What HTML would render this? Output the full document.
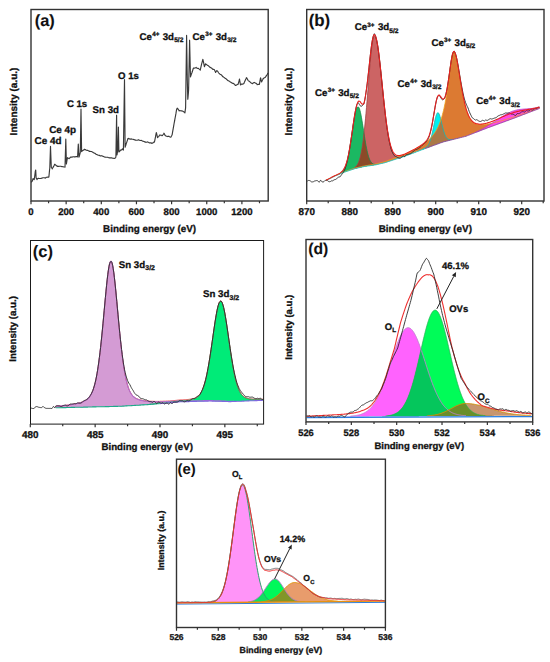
<!DOCTYPE html>
<html><head><meta charset="utf-8"><style>
html,body{margin:0;padding:0;background:#fff;}
svg{display:block;}
text{font-family:"Liberation Sans", sans-serif;text-rendering:geometricPrecision;stroke:#111;stroke-width:0.3px;paint-order:stroke;}
</style></head><body>
<svg width="550" height="662" viewBox="0 0 550 662">
<rect x="0" y="0" width="550" height="662" fill="#fff"/>
<path d="M31.2,182.4 L31.6,181.8 L32.0,181.5 L32.0,181.5 L32.4,180.6 L32.8,179.4 L33.1,178.5 L33.2,178.6 L33.6,179.1 L34.0,179.6 L34.2,179.6 L34.4,178.4 L34.8,175.5 L35.2,172.3 L35.2,172.0 L35.6,170.4 L35.7,170.0 L36.0,175.9 L36.1,177.9 L36.4,178.3 L36.8,179.0 L37.0,179.6 L37.2,179.1 L37.6,178.7 L38.0,178.4 L38.1,178.5 L38.4,178.4 L38.8,178.5 L39.2,178.5 L39.6,178.5 L40.0,178.5 L40.4,178.5 L40.8,178.5 L41.0,178.3 L41.2,178.4 L41.6,178.3 L42.0,178.1 L42.4,178.0 L42.8,177.8 L43.2,177.7 L43.6,177.7 L44.0,177.7 L44.4,177.8 L44.8,177.9 L44.9,177.9 L45.2,178.2 L45.6,177.9 L46.0,177.5 L46.4,177.2 L46.8,177.2 L47.2,177.2 L47.6,177.1 L48.0,177.1 L48.4,177.2 L48.8,177.2 L48.9,176.8 L49.2,173.7 L49.6,169.5 L49.8,168.0 L50.0,161.7 L50.4,149.5 L50.5,146.3 L50.8,154.4 L51.2,165.0 L51.3,167.2 L51.6,167.7 L52.0,168.3 L52.2,168.9 L52.4,168.5 L52.8,167.8 L53.2,167.1 L53.6,166.4 L54.0,165.7 L54.4,164.7 L54.5,164.4 L54.8,164.3 L55.2,164.6 L55.6,165.0 L56.0,165.3 L56.4,165.6 L56.8,166.0 L57.2,166.3 L57.3,166.1 L57.6,166.3 L58.0,166.3 L58.4,166.3 L58.8,166.3 L59.2,166.3 L59.6,166.2 L60.0,166.2 L60.4,166.2 L60.8,166.3 L61.2,166.4 L61.6,166.6 L61.8,166.6 L62.0,166.6 L62.4,166.6 L62.8,166.7 L63.2,166.8 L63.6,166.9 L64.0,167.0 L64.4,167.0 L64.8,167.0 L65.0,167.2 L65.2,160.3 L65.6,146.4 L65.8,139.0 L66.0,147.5 L66.4,164.0 L66.4,163.8 L66.8,161.5 L67.2,159.1 L67.5,157.6 L67.6,157.7 L68.0,158.0 L68.4,158.2 L68.8,158.4 L69.1,158.7 L69.2,158.5 L69.6,158.1 L70.0,157.8 L70.4,157.4 L70.8,157.0 L70.8,157.1 L71.2,157.0 L71.6,157.1 L72.0,157.1 L72.4,157.0 L72.8,156.9 L73.2,156.8 L73.6,156.7 L74.0,156.7 L74.0,156.8 L74.4,156.8 L74.8,156.9 L75.2,156.9 L75.6,156.8 L76.0,156.6 L76.4,156.5 L76.8,156.6 L77.2,156.8 L77.6,156.9 L77.6,156.5 L78.0,149.3 L78.3,144.1 L78.4,145.8 L78.8,153.4 L79.0,157.1 L79.2,156.5 L79.6,155.0 L80.0,153.5 L80.3,152.5 L80.4,146.2 L80.8,121.4 L81.0,109.0 L81.2,123.2 L81.6,151.6 L81.6,151.5 L82.0,151.2 L82.3,150.9 L82.4,150.8 L82.8,150.6 L83.2,150.3 L83.6,150.0 L84.0,149.6 L84.4,149.3 L84.4,149.7 L84.8,149.4 L85.2,149.5 L85.6,149.7 L86.0,150.0 L86.4,150.2 L86.8,150.3 L87.2,150.3 L87.6,150.3 L87.8,150.3 L88.0,150.5 L88.4,150.7 L88.8,150.9 L89.2,151.2 L89.6,151.4 L89.9,151.1 L90.0,151.4 L90.4,151.5 L90.8,151.5 L91.2,151.5 L91.6,151.5 L92.0,151.7 L92.4,152.0 L92.8,152.2 L93.2,152.5 L93.6,152.8 L94.0,153.0 L94.4,153.1 L94.8,153.2 L95.0,153.4 L95.2,153.5 L95.6,153.9 L96.0,154.3 L96.4,154.4 L96.8,154.6 L97.2,154.8 L97.6,154.9 L98.0,155.1 L98.4,155.2 L98.8,155.3 L99.2,155.4 L99.6,155.4 L99.7,155.5 L100.0,155.8 L100.4,156.0 L100.8,155.9 L101.2,155.8 L101.6,155.7 L102.0,155.9 L102.4,156.0 L102.8,156.2 L103.2,156.4 L103.6,156.5 L104.0,156.7 L104.4,156.9 L104.8,157.1 L105.0,157.0 L105.2,157.2 L105.6,157.2 L106.0,157.2 L106.4,157.2 L106.8,157.2 L107.2,157.2 L107.6,157.3 L108.0,157.4 L108.4,157.6 L108.8,157.7 L109.2,157.8 L109.6,157.8 L109.6,158.0 L110.0,157.9 L110.4,157.9 L110.8,157.9 L111.2,157.9 L111.6,157.9 L112.0,158.0 L112.4,158.1 L112.8,158.2 L113.2,158.2 L113.6,158.3 L114.0,158.3 L114.4,158.4 L114.5,158.4 L114.8,158.3 L115.2,158.0 L115.6,157.6 L115.9,157.0 L116.0,151.2 L116.4,127.2 L116.6,115.2 L116.8,135.1 L117.0,155.0 L117.2,153.7 L117.6,151.3 L117.8,150.0 L118.0,142.6 L118.4,127.3 L118.4,127.0 L118.8,147.3 L118.9,152.0 L119.2,151.8 L119.6,151.3 L120.0,150.8 L120.4,150.3 L120.4,150.1 L120.8,150.2 L121.2,150.0 L121.6,149.9 L122.0,149.4 L122.3,149.1 L122.4,148.8 L122.8,149.4 L123.2,150.0 L123.4,150.1 L123.6,137.4 L124.0,111.6 L124.4,85.7 L124.5,79.5 L124.8,113.3 L125.1,147.2 L125.2,146.9 L125.6,145.7 L126.0,144.5 L126.3,143.2 L126.4,143.2 L126.8,142.1 L127.2,140.9 L127.6,139.7 L128.0,138.5 L128.2,138.3 L128.4,138.4 L128.8,138.7 L129.2,138.8 L129.6,138.8 L130.0,138.8 L130.2,139.3 L130.4,139.0 L130.8,139.0 L131.2,139.0 L131.5,138.9 L131.6,139.2 L132.0,139.2 L132.4,139.2 L132.8,139.2 L133.2,139.3 L133.6,139.5 L134.0,139.6 L134.4,139.8 L134.8,139.9 L135.0,139.8 L135.2,140.1 L135.6,140.1 L136.0,140.2 L136.4,140.2 L136.8,140.2 L137.2,140.2 L137.6,140.1 L138.0,139.9 L138.4,139.7 L138.8,139.9 L139.1,140.2 L139.2,140.2 L139.6,140.3 L140.0,140.4 L140.4,140.5 L140.8,140.5 L141.2,140.5 L141.6,140.4 L142.0,140.7 L142.4,140.9 L142.8,141.2 L143.2,141.3 L143.6,141.4 L144.0,141.5 L144.4,141.7 L144.8,141.9 L145.0,141.7 L145.2,142.1 L145.6,142.2 L146.0,142.3 L146.4,142.2 L146.8,142.1 L147.2,141.9 L147.6,142.0 L148.0,142.2 L148.4,142.3 L148.8,142.5 L149.2,142.8 L149.6,143.0 L150.0,142.9 L150.4,142.9 L150.8,142.8 L151.2,142.9 L151.6,143.1 L151.8,143.4 L152.0,143.2 L152.4,143.1 L152.8,143.0 L153.2,142.6 L153.6,142.3 L154.0,142.0 L154.4,142.0 L154.4,142.1 L154.8,140.3 L155.2,138.3 L155.6,136.3 L155.6,136.0 L156.0,134.1 L156.3,132.5 L156.4,132.5 L156.8,134.4 L157.2,136.2 L157.5,137.6 L157.6,137.6 L158.0,137.2 L158.4,136.7 L158.8,136.3 L159.2,135.8 L159.5,135.1 L159.6,135.3 L160.0,135.2 L160.4,135.1 L160.8,135.2 L161.2,135.2 L161.6,135.3 L162.0,135.6 L162.0,135.7 L162.4,135.5 L162.8,135.0 L163.2,134.5 L163.6,134.0 L163.9,133.2 L164.0,133.3 L164.4,133.9 L164.8,134.7 L165.2,135.6 L165.2,135.7 L165.6,135.8 L166.0,136.0 L166.4,136.2 L166.8,136.3 L167.2,136.4 L167.6,136.6 L168.0,136.4 L168.4,136.3 L168.8,136.2 L169.2,136.5 L169.6,136.7 L170.0,136.9 L170.4,137.1 L170.8,137.2 L170.9,137.0 L171.2,136.6 L171.6,135.8 L172.0,134.9 L172.2,134.5 L172.4,133.2 L172.8,130.8 L173.2,128.6 L173.6,126.3 L174.0,124.0 L174.4,121.8 L174.7,120.5 L174.8,119.7 L175.2,117.5 L175.6,115.4 L176.0,113.2 L176.4,110.6 L176.5,110.0 L176.8,109.0 L177.2,108.2 L177.3,108.4 L177.6,108.4 L178.0,109.0 L178.4,109.6 L178.8,110.2 L179.2,110.7 L179.2,110.9 L179.6,110.6 L180.0,110.6 L180.4,110.7 L180.8,110.8 L181.2,110.8 L181.6,110.8 L182.0,110.9 L182.4,111.1 L182.8,111.3 L183.2,111.5 L183.6,111.6 L183.6,111.5 L184.0,112.1 L184.4,112.4 L184.8,112.7 L184.9,112.8 L185.2,110.6 L185.6,107.8 L185.6,108.0 L186.0,78.7 L186.4,49.7 L186.6,35.4 L186.8,48.1 L187.2,73.6 L187.3,80.0 L187.6,91.8 L187.8,99.3 L188.0,97.4 L188.4,92.7 L188.6,90.0 L188.8,80.5 L189.2,60.3 L189.6,40.2 L189.6,40.2 L190.0,56.9 L190.3,70.0 L190.4,73.0 L190.5,76.9 L190.8,75.9 L191.2,74.8 L191.5,73.5 L191.6,73.6 L192.0,72.5 L192.4,71.3 L192.8,70.0 L193.2,68.8 L193.5,68.0 L193.6,68.1 L194.0,68.1 L194.4,68.1 L194.8,68.0 L195.2,68.0 L195.6,67.8 L196.0,67.6 L196.3,67.4 L196.4,67.6 L196.8,68.0 L197.2,68.3 L197.6,68.4 L198.0,68.4 L198.4,68.4 L198.8,68.7 L199.2,69.1 L199.6,69.4 L200.0,69.7 L200.3,70.1 L200.4,69.5 L200.8,67.7 L201.2,65.9 L201.6,64.1 L202.0,62.6 L202.4,61.1 L202.8,59.6 L202.8,59.2 L203.2,60.9 L203.6,62.5 L204.0,64.6 L204.4,66.7 L204.4,66.7 L204.8,65.8 L205.2,64.8 L205.6,63.8 L205.6,64.2 L206.0,64.2 L206.4,64.5 L206.4,64.6 L206.8,64.8 L207.2,65.1 L207.6,65.4 L208.0,65.6 L208.4,65.8 L208.8,66.2 L209.2,66.6 L209.6,67.0 L209.7,67.1 L210.0,67.3 L210.4,67.6 L210.8,67.8 L211.2,67.9 L211.6,68.1 L212.0,68.5 L212.4,68.9 L212.8,69.3 L213.2,69.3 L213.6,69.4 L214.0,69.5 L214.4,69.7 L214.5,70.1 L214.8,70.5 L215.2,71.4 L215.6,72.3 L215.6,72.5 L216.0,71.8 L216.4,71.2 L216.8,70.6 L216.8,70.7 L217.2,70.9 L217.6,71.2 L218.0,71.8 L218.4,72.5 L218.8,73.1 L219.2,73.4 L219.6,73.8 L220.0,74.2 L220.4,74.4 L220.8,74.6 L221.2,74.7 L221.6,75.2 L222.0,75.7 L222.4,76.2 L222.7,76.6 L222.8,76.5 L223.2,76.7 L223.6,77.1 L224.0,77.4 L224.4,77.7 L224.8,78.0 L225.2,78.2 L225.6,78.4 L226.0,78.8 L226.4,79.1 L226.8,79.5 L227.2,79.9 L227.6,80.3 L228.0,80.7 L228.4,80.8 L228.6,80.7 L228.8,80.7 L229.2,81.1 L229.6,81.4 L230.0,81.7 L230.4,82.0 L230.8,82.2 L231.2,82.4 L231.6,82.7 L232.0,83.0 L232.4,83.3 L232.8,83.4 L233.2,83.4 L233.6,83.5 L234.0,83.9 L234.4,84.4 L234.8,84.8 L235.2,85.2 L235.6,85.5 L235.7,85.2 L236.0,85.4 L236.4,85.1 L236.8,84.9 L237.2,84.6 L237.6,84.4 L238.0,84.1 L238.1,84.3 L238.4,83.2 L238.8,81.8 L239.2,80.3 L239.5,79.0 L239.6,79.8 L240.0,82.1 L240.4,84.5 L240.5,84.9 L240.8,84.7 L241.2,84.4 L241.6,84.0 L242.0,84.1 L242.4,84.1 L242.8,84.1 L243.2,83.9 L243.6,83.7 L244.0,83.5 L244.0,83.1 L244.4,82.3 L244.8,81.3 L245.2,80.4 L245.6,79.6 L246.0,78.8 L246.4,77.7 L246.4,77.8 L246.8,77.9 L247.2,78.7 L247.6,79.5 L248.0,80.3 L248.4,80.7 L248.7,80.7 L248.8,81.1 L249.2,81.3 L249.6,81.6 L250.0,81.9 L250.4,82.3 L250.8,82.6 L251.2,83.0 L251.6,83.2 L252.0,83.3 L252.3,83.7 L252.4,83.4 L252.8,83.2 L253.2,83.1 L253.6,82.8 L254.0,82.6 L254.4,82.4 L254.6,82.5 L254.8,82.6 L255.2,83.0 L255.6,83.2 L256.0,83.3 L256.4,83.5 L256.8,84.0 L257.0,84.3 L257.2,84.7 L257.6,84.5 L258.0,84.4 L258.4,84.3 L258.8,84.3 L259.2,84.3 L259.4,84.3 L259.6,83.1 L260.0,80.8 L260.4,78.5 L260.6,77.8 L260.8,78.7 L261.2,80.7 L261.5,81.9 L261.6,81.9 L262.0,81.1 L262.4,80.3 L262.8,79.4 L262.9,79.0 L263.2,78.8 L263.6,78.3 L264.0,77.9 L264.4,77.7 L264.8,77.6 L265.2,77.4 L265.6,76.9 L265.9,76.6 L266.0,76.1 L266.4,75.6 L266.8,75.1 L267.2,74.6 L267.6,73.8 L267.6,73.6 L268.0,73.3 L268.2,73.0" fill="none" stroke="#3a3a3a" stroke-width="1.15" stroke-linejoin="round"/>
<rect x="31" y="9.5" width="237.2" height="191.5" fill="none" stroke="#333" stroke-width="1.4"/>
<path d="M31.00,201.00 V204.20 M66.15,201.00 V204.20 M101.30,201.00 V204.20 M136.45,201.00 V204.20 M171.60,201.00 V204.20 M206.75,201.00 V204.20 M241.90,201.00 V204.20 M48.58,201.00 V203.20 M83.72,201.00 V203.20 M118.88,201.00 V203.20 M154.02,201.00 V203.20 M189.17,201.00 V203.20 M224.32,201.00 V203.20 M259.48,201.00 V203.20 " stroke="#333" stroke-width="1.2" fill="none"/>
<text x="31" y="215.2" font-size="9.6" font-weight="bold" fill="#111" text-anchor="middle">0</text>
<text x="66.15" y="215.2" font-size="9.6" font-weight="bold" fill="#111" text-anchor="middle">200</text>
<text x="101.3" y="215.2" font-size="9.6" font-weight="bold" fill="#111" text-anchor="middle">400</text>
<text x="136.45" y="215.2" font-size="9.6" font-weight="bold" fill="#111" text-anchor="middle">600</text>
<text x="171.6" y="215.2" font-size="9.6" font-weight="bold" fill="#111" text-anchor="middle">800</text>
<text x="206.75" y="215.2" font-size="9.6" font-weight="bold" fill="#111" text-anchor="middle">1000</text>
<text x="241.9" y="215.2" font-size="9.6" font-weight="bold" fill="#111" text-anchor="middle">1200</text>
<text x="149.6" y="231.6" font-size="9.85" font-weight="bold" fill="#111" text-anchor="middle">Binding energy (eV)</text>
<text transform="translate(16.5,101.5) rotate(-90)" x="0" y="0" font-size="10" font-weight="bold" fill="#111" text-anchor="middle">Intensity (a.u.)</text>
<text x="34.78" y="25.7" font-size="16.4" font-weight="bold" fill="#111" style="stroke-width:0.1px">(a)</text>
<text x="34.6" y="143.9" font-size="9.9" font-weight="bold" fill="#111">Ce 4d</text>
<text x="49.2" y="133" font-size="9.9" font-weight="bold" fill="#111">Ce 4p</text>
<text x="66.92" y="106.9" font-size="9.6" font-weight="bold" fill="#111">C 1s</text>
<text x="92.61" y="112.6" font-size="9.7" font-weight="bold" fill="#111">Sn 3d</text>
<text x="118.12" y="79.4" font-size="9.6" font-weight="bold" fill="#111">O 1s</text>
<text x="139.61" y="39.8" font-size="9.7" font-weight="bold" fill="#111">Ce</text>
<text x="152.22" y="36.2" font-size="6.3" font-weight="bold" fill="#111">4+</text>
<text x="162.7" y="39.8" font-size="9.7" font-weight="bold" fill="#111">3d</text>
<text x="174.15" y="42.3" font-size="6.6" font-weight="bold" fill="#111">5/2</text>
<text x="192.61" y="39.8" font-size="9.7" font-weight="bold" fill="#111">Ce</text>
<text x="205.16" y="36.2" font-size="6.3" font-weight="bold" fill="#111">3+</text>
<text x="215.7" y="39.8" font-size="9.7" font-weight="bold" fill="#111">3d</text>
<text x="227.18" y="42.3" font-size="6.6" font-weight="bold" fill="#111">3/2</text>
<clipPath id="cb_r"><path d="M349.5,170.4 L350.0,170.2 L350.5,170.0 L351.0,169.8 L351.5,169.6 L352.0,169.4 L352.5,169.1 L353.0,168.9 L353.5,168.6 L354.0,168.3 L354.5,167.9 L355.0,167.5 L355.5,167.1 L356.0,166.6 L356.5,166.0 L357.0,165.3 L357.5,164.5 L358.0,163.6 L358.5,162.5 L359.0,161.2 L359.5,159.7 L360.0,158.0 L360.5,156.1 L361.0,153.8 L361.5,151.3 L362.0,148.5 L362.5,145.3 L363.0,141.7 L363.5,137.9 L364.0,133.6 L364.5,129.0 L365.0,124.0 L365.5,118.8 L366.0,113.2 L366.5,107.4 L367.0,101.4 L367.5,95.2 L368.0,89.0 L368.5,82.7 L369.0,76.5 L369.5,70.4 L370.0,64.6 L370.5,59.1 L371.0,54.0 L371.5,49.5 L372.0,45.4 L372.5,42.1 L373.0,39.4 L373.5,37.5 L374.0,36.4 L374.5,36.1 L375.0,36.4 L375.5,37.2 L376.0,38.5 L376.5,40.4 L377.0,42.7 L377.5,45.5 L378.0,48.7 L378.5,52.2 L379.0,56.2 L379.5,60.4 L380.0,64.8 L380.5,69.5 L381.0,74.3 L381.5,79.2 L382.0,84.1 L382.5,89.1 L383.0,94.0 L383.5,98.9 L384.0,103.6 L384.5,108.2 L385.0,112.7 L385.5,116.9 L386.0,120.9 L386.5,124.7 L387.0,128.2 L387.5,131.5 L388.0,134.6 L388.5,137.4 L389.0,140.0 L389.5,142.4 L390.0,144.5 L390.5,146.4 L391.0,148.1 L391.5,149.6 L392.0,150.9 L392.5,152.1 L393.0,153.1 L393.5,153.9 L394.0,154.7 L394.5,155.3 L395.0,155.8 L395.5,156.2 L396.0,156.6 L396.5,156.8 L397.0,157.0 L397.5,157.2 L398.0,157.3 L398.5,157.3 L399.0,157.3 L399.5,157.3 L400.0,157.3 L400.5,157.2 L401.0,157.1 L401.5,157.1 L402.0,157.0 L402.5,156.8 L403.0,156.7 L403.5,156.6 L404.0,156.4 L404.5,156.3 L404.5,158.4 L404.0,158.5 L403.5,158.7 L403.0,158.8 L402.5,159.0 L402.0,159.2 L401.5,159.3 L401.0,159.5 L400.5,159.6 L400.0,159.8 L399.5,160.0 L399.0,160.1 L398.5,160.3 L398.0,160.4 L397.5,160.6 L397.0,160.8 L396.5,160.9 L396.0,161.1 L395.5,161.2 L395.0,161.4 L394.5,161.6 L394.0,161.7 L393.5,161.9 L393.0,162.1 L392.5,162.2 L392.0,162.4 L391.5,162.6 L391.0,162.7 L390.5,162.9 L390.0,163.1 L389.5,163.2 L389.0,163.4 L388.5,163.5 L388.0,163.7 L387.5,163.9 L387.0,164.0 L386.5,164.2 L386.0,164.4 L385.5,164.5 L385.0,164.7 L384.5,164.8 L384.0,164.9 L383.5,165.0 L383.0,165.2 L382.5,165.3 L382.0,165.4 L381.5,165.5 L381.0,165.6 L380.5,165.7 L380.0,165.8 L379.5,166.0 L379.0,166.1 L378.5,166.2 L378.0,166.3 L377.5,166.4 L377.0,166.5 L376.5,166.7 L376.0,166.8 L375.5,166.9 L375.0,167.0 L374.5,167.1 L374.0,167.1 L373.5,167.2 L373.0,167.3 L372.5,167.3 L372.0,167.4 L371.5,167.5 L371.0,167.6 L370.5,167.6 L370.0,167.7 L369.5,167.8 L369.0,167.8 L368.5,167.9 L368.0,168.0 L367.5,168.1 L367.0,168.1 L366.5,168.2 L366.0,168.3 L365.5,168.3 L365.0,168.4 L364.5,168.5 L364.0,168.6 L363.5,168.7 L363.0,168.8 L362.5,168.9 L362.0,169.1 L361.5,169.2 L361.0,169.3 L360.5,169.4 L360.0,169.5 L359.5,169.6 L359.0,169.7 L358.5,169.8 L358.0,169.9 L357.5,170.1 L357.0,170.2 L356.5,170.3 L356.0,170.4 L355.5,170.5 L355.0,170.6 L354.5,170.8 L354.0,170.9 L353.5,171.1 L353.0,171.3 L352.5,171.4 L352.0,171.6 L351.5,171.8 L351.0,171.9 L350.5,172.1 L350.0,172.3 L349.5,172.4 Z"/></clipPath>
<clipPath id="cb_o"><path d="M326.0,180.2 L326.5,179.9 L327.0,179.7 L327.5,179.4 L328.0,179.2 L328.5,178.9 L329.0,178.7 L329.5,178.4 L330.0,178.2 L330.5,177.9 L331.0,177.7 L331.5,177.4 L332.0,177.2 L332.5,176.9 L333.0,176.6 L333.5,176.4 L334.0,176.1 L334.5,175.9 L335.0,175.6 L335.5,175.4 L336.0,175.2 L336.5,175.0 L337.0,174.8 L337.5,174.6 L338.0,174.4 L338.5,174.2 L339.0,174.0 L339.5,173.8 L340.0,173.5 L340.5,173.3 L341.0,173.1 L341.5,172.9 L342.0,172.7 L342.5,172.5 L343.0,172.3 L343.5,172.1 L344.0,171.9 L344.5,171.7 L345.0,171.5 L345.5,171.4 L346.0,171.2 L346.5,171.0 L347.0,170.8 L347.5,170.7 L348.0,170.5 L348.5,170.3 L349.0,170.1 L349.5,170.0 L350.0,169.8 L350.5,169.6 L351.0,169.5 L351.5,169.3 L352.0,169.1 L352.5,168.9 L353.0,168.8 L353.5,168.6 L354.0,168.4 L354.5,168.2 L355.0,168.1 L355.5,168.0 L356.0,167.8 L356.5,167.7 L357.0,167.6 L357.5,167.5 L358.0,167.4 L358.5,167.3 L359.0,167.1 L359.5,167.0 L360.0,166.9 L360.5,166.8 L361.0,166.7 L361.5,166.6 L362.0,166.4 L362.5,166.3 L363.0,166.2 L363.5,166.1 L364.0,166.0 L364.5,165.9 L365.0,165.7 L365.5,165.7 L366.0,165.6 L366.5,165.5 L367.0,165.4 L367.5,165.4 L368.0,165.3 L368.5,165.2 L369.0,165.1 L369.5,165.0 L370.0,165.0 L370.5,164.9 L371.0,164.8 L371.5,164.7 L372.0,164.7 L372.5,164.6 L373.0,164.5 L373.5,164.4 L374.0,164.3 L374.5,164.3 L375.0,164.2 L375.5,164.0 L376.0,163.9 L376.5,163.8 L377.0,163.7 L377.5,163.5 L378.0,163.4 L378.5,163.3 L379.0,163.2 L379.5,163.0 L380.0,162.9 L380.5,162.8 L381.0,162.7 L381.5,162.5 L382.0,162.4 L382.5,162.3 L383.0,162.1 L383.5,162.0 L384.0,161.9 L384.5,161.7 L385.0,161.6 L385.5,161.4 L386.0,161.3 L386.5,161.1 L387.0,160.9 L387.5,160.7 L388.0,160.5 L388.5,160.3 L389.0,160.2 L389.5,160.0 L390.0,159.8 L390.5,159.6 L391.0,159.4 L391.5,159.2 L392.0,159.1 L392.5,158.9 L393.0,158.7 L393.5,158.5 L394.0,158.3 L394.5,158.1 L395.0,157.9 L395.5,157.7 L396.0,157.6 L396.5,157.4 L397.0,157.2 L397.5,157.0 L398.0,156.8 L398.5,156.6 L399.0,156.4 L399.5,156.2 L400.0,156.0 L400.5,155.9 L401.0,155.7 L401.5,155.5 L402.0,155.3 L402.5,155.1 L403.0,154.9 L403.5,154.7 L404.0,154.5 L404.5,154.3 L405.0,154.1 L405.5,153.8 L406.0,153.6 L406.5,153.4 L407.0,153.1 L407.5,152.9 L408.0,152.7 L408.5,152.4 L409.0,152.2 L409.5,151.9 L410.0,151.7 L410.5,151.4 L411.0,151.2 L411.5,150.9 L412.0,150.7 L412.5,150.4 L413.0,150.2 L413.5,149.9 L414.0,149.6 L414.5,149.4 L415.0,149.1 L415.5,148.8 L416.0,148.5 L416.5,148.3 L417.0,148.0 L417.5,147.7 L418.0,147.4 L418.5,147.1 L419.0,146.8 L419.5,146.5 L420.0,146.2 L420.5,145.9 L421.0,145.6 L421.5,145.2 L422.0,144.9 L422.5,144.6 L423.0,144.2 L423.5,143.9 L424.0,143.5 L424.5,143.2 L425.0,142.8 L425.5,142.4 L426.0,142.0 L426.5,141.6 L427.0,141.2 L427.5,140.8 L428.0,140.4 L428.5,139.9 L429.0,139.5 L429.5,139.0 L430.0,138.5 L430.5,138.0 L431.0,137.5 L431.5,136.9 L432.0,136.4 L432.5,135.8 L433.0,135.1 L433.5,134.5 L434.0,133.8 L434.5,133.1 L435.0,132.4 L435.5,131.6 L436.0,130.8 L436.5,129.9 L437.0,129.0 L437.5,128.1 L438.0,127.1 L438.5,126.0 L439.0,124.8 L439.5,123.6 L440.0,122.3 L440.5,121.0 L441.0,119.5 L441.5,117.9 L442.0,116.2 L442.5,114.4 L443.0,112.5 L443.5,110.5 L444.0,108.4 L444.5,106.0 L445.0,103.6 L445.5,100.9 L446.0,98.1 L446.5,95.0 L447.0,91.8 L447.5,88.5 L448.0,84.9 L448.5,81.3 L449.0,77.5 L449.5,73.7 L450.0,69.9 L450.5,66.2 L451.0,62.7 L451.5,59.6 L452.0,56.8 L452.5,54.6 L453.0,52.9 L453.5,52.0 L454.0,51.8 L454.5,52.1 L455.0,53.0 L455.5,54.3 L456.0,56.0 L456.5,58.1 L457.0,60.6 L457.5,63.2 L458.0,66.1 L458.5,69.1 L459.0,72.2 L459.5,75.3 L460.0,78.5 L460.5,81.5 L461.0,84.6 L461.5,87.5 L462.0,90.4 L462.5,93.1 L463.0,95.7 L463.5,98.2 L464.0,100.6 L464.5,102.8 L465.0,104.9 L465.5,106.8 L466.0,108.6 L466.5,110.2 L467.0,111.7 L467.5,113.1 L468.0,114.3 L468.5,115.5 L469.0,116.6 L469.5,117.5 L470.0,118.4 L470.5,119.2 L471.0,119.9 L471.5,120.5 L472.0,121.1 L472.5,121.6 L473.0,122.0 L473.5,122.4 L474.0,122.8 L474.5,123.1 L475.0,123.4 L475.5,123.6 L476.0,123.8 L476.5,124.0 L477.0,124.1 L477.5,124.3 L478.0,124.4 L478.5,124.4 L479.0,124.5 L479.5,124.6 L480.0,124.6 L480.5,124.6 L481.0,124.6 L481.5,124.6 L482.0,124.6 L482.5,124.6 L483.0,124.6 L483.5,124.5 L484.0,124.5 L484.5,124.4 L485.0,124.4 L485.5,124.3 L486.0,124.3 L486.5,124.2 L487.0,124.1 L487.5,124.0 L488.0,123.9 L488.5,123.9 L489.0,123.8 L489.5,123.7 L490.0,123.6 L490.5,123.5 L491.0,123.4 L491.5,123.3 L492.0,123.2 L492.5,123.1 L493.0,123.0 L493.5,122.9 L494.0,122.7 L494.5,122.6 L495.0,122.5 L495.5,122.4 L496.0,122.3 L496.5,122.1 L497.0,122.0 L497.5,121.9 L498.0,121.7 L498.5,121.6 L499.0,121.5 L499.5,121.3 L500.0,121.2 L500.5,121.1 L501.0,120.9 L501.5,120.8 L502.0,120.6 L502.5,120.5 L503.0,120.3 L503.5,120.2 L504.0,120.1 L504.5,119.9 L505.0,119.8 L505.5,119.6 L506.0,119.5 L506.5,119.3 L507.0,119.1 L507.5,119.0 L508.0,118.8 L508.5,118.7 L509.0,118.5 L509.5,118.4 L510.0,118.2 L510.5,118.1 L511.0,117.9 L511.5,117.7 L512.0,117.6 L512.5,117.4 L513.0,117.2 L513.5,117.1 L514.0,116.9 L514.5,116.7 L515.0,116.5 L515.5,116.4 L516.0,116.2 L516.5,116.0 L517.0,115.9 L517.5,115.7 L518.0,115.5 L518.5,115.3 L519.0,115.2 L519.5,115.0 L520.0,114.8 L520.5,114.6 L521.0,114.5 L521.5,114.3 L522.0,114.1 L522.5,113.9 L523.0,113.8 L523.5,113.6 L524.0,113.4 L524.5,113.2 L525.0,113.0 L525.5,112.9 L526.0,112.7 L526.5,112.5 L527.0,112.3 L527.5,112.2 L528.0,112.0 L528.5,111.8 L529.0,111.6 L529.5,111.4 L530.0,111.3 L530.5,111.1 L531.0,110.9 L531.5,110.7 L532.0,110.5 L532.5,110.4 L533.0,110.2 L533.5,110.0 L534.0,109.8 L534.5,109.6 L535.0,109.4 L535.5,109.3 L536.0,109.1 L536.5,108.9 L537.0,108.7 L537.5,108.5 L538.0,108.3 L538.5,108.2 L539.0,108.0 L539.5,107.8 L539.5,110.5 L539.0,110.6 L538.5,110.8 L538.0,111.0 L537.5,111.2 L537.0,111.4 L536.5,111.6 L536.0,111.8 L535.5,112.0 L535.0,112.1 L534.5,112.3 L534.0,112.5 L533.5,112.7 L533.0,112.9 L532.5,113.1 L532.0,113.3 L531.5,113.5 L531.0,113.7 L530.5,113.9 L530.0,114.1 L529.5,114.2 L529.0,114.4 L528.5,114.6 L528.0,114.8 L527.5,115.0 L527.0,115.2 L526.5,115.4 L526.0,115.6 L525.5,115.8 L525.0,116.0 L524.5,116.2 L524.0,116.3 L523.5,116.5 L523.0,116.7 L522.5,116.9 L522.0,117.1 L521.5,117.3 L521.0,117.5 L520.5,117.7 L520.0,117.9 L519.5,118.1 L519.0,118.2 L518.5,118.4 L518.0,118.6 L517.5,118.8 L517.0,119.0 L516.5,119.2 L516.0,119.4 L515.5,119.6 L515.0,119.8 L514.5,120.0 L514.0,120.2 L513.5,120.3 L513.0,120.5 L512.5,120.7 L512.0,120.9 L511.5,121.1 L511.0,121.3 L510.5,121.5 L510.0,121.7 L509.5,121.8 L509.0,122.0 L508.5,122.2 L508.0,122.4 L507.5,122.6 L507.0,122.8 L506.5,122.9 L506.0,123.1 L505.5,123.3 L505.0,123.5 L504.5,123.7 L504.0,123.9 L503.5,124.0 L503.0,124.2 L502.5,124.4 L502.0,124.6 L501.5,124.8 L501.0,125.0 L500.5,125.1 L500.0,125.3 L499.5,125.5 L499.0,125.7 L498.5,125.9 L498.0,126.0 L497.5,126.2 L497.0,126.4 L496.5,126.6 L496.0,126.8 L495.5,127.0 L495.0,127.1 L494.5,127.3 L494.0,127.5 L493.5,127.7 L493.0,127.9 L492.5,128.1 L492.0,128.2 L491.5,128.4 L491.0,128.6 L490.5,128.8 L490.0,129.0 L489.5,129.2 L489.0,129.3 L488.5,129.5 L488.0,129.7 L487.5,129.9 L487.0,130.1 L486.5,130.3 L486.0,130.5 L485.5,130.7 L485.0,130.9 L484.5,131.1 L484.0,131.2 L483.5,131.4 L483.0,131.6 L482.5,131.8 L482.0,132.0 L481.5,132.2 L481.0,132.4 L480.5,132.6 L480.0,132.8 L479.5,133.0 L479.0,133.2 L478.5,133.4 L478.0,133.6 L477.5,133.8 L477.0,134.0 L476.5,134.1 L476.0,134.3 L475.5,134.5 L475.0,134.7 L474.5,134.9 L474.0,135.1 L473.5,135.3 L473.0,135.5 L472.5,135.7 L472.0,135.9 L471.5,136.1 L471.0,136.3 L470.5,136.5 L470.0,136.7 L469.5,136.9 L469.0,137.0 L468.5,137.2 L468.0,137.4 L467.5,137.6 L467.0,137.8 L466.5,138.0 L466.0,138.2 L465.5,138.4 L465.0,138.5 L464.5,138.6 L464.0,138.8 L463.5,138.9 L463.0,139.0 L462.5,139.1 L462.0,139.3 L461.5,139.4 L461.0,139.5 L460.5,139.6 L460.0,139.8 L459.5,139.9 L459.0,140.0 L458.5,140.1 L458.0,140.3 L457.5,140.4 L457.0,140.5 L456.5,140.6 L456.0,140.8 L455.5,140.9 L455.0,141.0 L454.5,141.1 L454.0,141.3 L453.5,141.4 L453.0,141.5 L452.5,141.6 L452.0,141.8 L451.5,141.9 L451.0,142.0 L450.5,142.1 L450.0,142.3 L449.5,142.4 L449.0,142.5 L448.5,142.6 L448.0,142.8 L447.5,142.9 L447.0,143.0 L446.5,143.1 L446.0,143.3 L445.5,143.4 L445.0,143.5 L444.5,143.6 L444.0,143.8 L443.5,143.9 L443.0,144.0 L442.5,144.2 L442.0,144.4 L441.5,144.6 L441.0,144.7 L440.5,144.9 L440.0,145.1 L439.5,145.3 L439.0,145.5 L438.5,145.7 L438.0,145.8 L437.5,146.0 L437.0,146.2 L436.5,146.4 L436.0,146.6 L435.5,146.8 L435.0,147.0 L434.5,147.1 L434.0,147.3 L433.5,147.5 L433.0,147.7 L432.5,147.9 L432.0,148.1 L431.5,148.2 L431.0,148.4 L430.5,148.6 L430.0,148.8 L429.5,149.0 L429.0,149.2 L428.5,149.4 L428.0,149.5 L427.5,149.7 L427.0,149.9 L426.5,150.1 L426.0,150.3 L425.5,150.5 L425.0,150.7 L424.5,150.8 L424.0,151.0 L423.5,151.2 L423.0,151.4 L422.5,151.6 L422.0,151.8 L421.5,151.9 L421.0,152.1 L420.5,152.3 L420.0,152.5 L419.5,152.7 L419.0,152.9 L418.5,153.1 L418.0,153.3 L417.5,153.4 L417.0,153.6 L416.5,153.8 L416.0,154.0 L415.5,154.2 L415.0,154.4 L414.5,154.6 L414.0,154.8 L413.5,155.0 L413.0,155.2 L412.5,155.3 L412.0,155.5 L411.5,155.7 L411.0,155.9 L410.5,156.1 L410.0,156.3 L409.5,156.5 L409.0,156.7 L408.5,156.9 L408.0,157.1 L407.5,157.2 L407.0,157.4 L406.5,157.6 L406.0,157.8 L405.5,158.0 L405.0,158.2 L404.5,158.4 L404.0,158.5 L403.5,158.7 L403.0,158.8 L402.5,159.0 L402.0,159.2 L401.5,159.3 L401.0,159.5 L400.5,159.6 L400.0,159.8 L399.5,160.0 L399.0,160.1 L398.5,160.3 L398.0,160.4 L397.5,160.6 L397.0,160.8 L396.5,160.9 L396.0,161.1 L395.5,161.2 L395.0,161.4 L394.5,161.6 L394.0,161.7 L393.5,161.9 L393.0,162.1 L392.5,162.2 L392.0,162.4 L391.5,162.6 L391.0,162.7 L390.5,162.9 L390.0,163.1 L389.5,163.2 L389.0,163.4 L388.5,163.5 L388.0,163.7 L387.5,163.9 L387.0,164.0 L386.5,164.2 L386.0,164.4 L385.5,164.5 L385.0,164.7 L384.5,164.8 L384.0,164.9 L383.5,165.0 L383.0,165.2 L382.5,165.3 L382.0,165.4 L381.5,165.5 L381.0,165.6 L380.5,165.7 L380.0,165.8 L379.5,166.0 L379.0,166.1 L378.5,166.2 L378.0,166.3 L377.5,166.4 L377.0,166.5 L376.5,166.7 L376.0,166.8 L375.5,166.9 L375.0,167.0 L374.5,167.1 L374.0,167.1 L373.5,167.2 L373.0,167.3 L372.5,167.3 L372.0,167.4 L371.5,167.5 L371.0,167.6 L370.5,167.6 L370.0,167.7 L369.5,167.8 L369.0,167.8 L368.5,167.9 L368.0,168.0 L367.5,168.1 L367.0,168.1 L366.5,168.2 L366.0,168.3 L365.5,168.3 L365.0,168.4 L364.5,168.5 L364.0,168.6 L363.5,168.7 L363.0,168.8 L362.5,168.9 L362.0,169.1 L361.5,169.2 L361.0,169.3 L360.5,169.4 L360.0,169.5 L359.5,169.6 L359.0,169.7 L358.5,169.8 L358.0,169.9 L357.5,170.1 L357.0,170.2 L356.5,170.3 L356.0,170.4 L355.5,170.5 L355.0,170.6 L354.5,170.8 L354.0,170.9 L353.5,171.1 L353.0,171.3 L352.5,171.4 L352.0,171.6 L351.5,171.8 L351.0,171.9 L350.5,172.1 L350.0,172.3 L349.5,172.4 L349.0,172.6 L348.5,172.8 L348.0,173.0 L347.5,173.1 L347.0,173.3 L346.5,173.5 L346.0,173.6 L345.5,173.8 L345.0,174.0 L344.5,174.1 L344.0,174.3 L343.5,174.5 L343.0,174.7 L342.5,174.9 L342.0,175.1 L341.5,175.3 L341.0,175.5 L340.5,175.7 L340.0,175.9 L339.5,176.2 L339.0,176.4 L338.5,176.6 L338.0,176.8 L337.5,177.0 L337.0,177.2 L336.5,177.4 L336.0,177.6 L335.5,177.8 L335.0,178.0 L334.5,178.2 L334.0,178.5 L333.5,178.8 L333.0,179.0 L332.5,179.2 L332.0,179.5 L331.5,179.8 L331.0,180.0 L330.5,180.2 L330.0,180.5 L329.5,180.8 L329.0,181.0 L328.5,181.2 L328.0,181.5 L327.5,181.8 L327.0,182.0 L326.5,182.2 L326.0,182.5 Z"/></clipPath>
<path d="M336.5,175.3 L337.0,175.1 L337.5,174.9 L338.0,174.6 L338.5,174.4 L339.0,174.1 L339.5,173.8 L340.0,173.5 L340.5,173.2 L341.0,172.8 L341.5,172.4 L342.0,171.9 L342.5,171.3 L343.0,170.7 L343.5,170.0 L344.0,169.2 L344.5,168.3 L345.0,167.2 L345.5,166.1 L346.0,164.7 L346.5,163.2 L347.0,161.5 L347.5,159.5 L348.0,157.4 L348.5,155.1 L349.0,152.5 L349.5,149.8 L350.0,146.9 L350.5,143.8 L351.0,140.5 L351.5,137.2 L352.0,133.8 L352.5,130.4 L353.0,127.0 L353.5,123.7 L354.0,120.5 L354.5,117.5 L355.0,114.8 L355.5,112.5 L356.0,110.5 L356.5,108.9 L357.0,107.7 L357.5,107.0 L358.0,106.8 L358.5,107.0 L359.0,107.7 L359.5,108.9 L360.0,110.6 L360.5,112.7 L361.0,115.1 L361.5,117.8 L362.0,120.7 L362.5,123.8 L363.0,127.0 L363.5,130.3 L364.0,133.5 L364.5,136.7 L365.0,139.8 L365.5,142.8 L366.0,145.6 L366.5,148.2 L367.0,150.5 L367.5,152.7 L368.0,154.6 L368.5,156.4 L369.0,157.9 L369.5,159.2 L370.0,160.3 L370.5,161.2 L371.0,162.0 L371.5,162.6 L372.0,163.1 L372.5,163.5 L373.0,163.9 L373.5,164.1 L374.0,164.3 L374.5,164.4 L375.0,164.5 L375.5,164.5 L376.0,164.5 L376.5,164.5 L377.0,164.4 L377.5,164.3 L378.0,164.2 L378.5,164.1 L378.5,164.2 L378.0,164.3 L377.5,164.4 L377.0,164.5 L376.5,164.7 L376.0,164.8 L375.5,164.9 L375.0,165.0 L374.5,165.1 L374.0,165.1 L373.5,165.2 L373.0,165.3 L372.5,165.3 L372.0,165.4 L371.5,165.5 L371.0,165.6 L370.5,165.6 L370.0,165.7 L369.5,165.8 L369.0,165.8 L368.5,165.9 L368.0,166.0 L367.5,166.1 L367.0,166.1 L366.5,166.2 L366.0,166.3 L365.5,166.3 L365.0,166.4 L364.5,166.5 L364.0,166.6 L363.5,166.7 L363.0,166.8 L362.5,166.9 L362.0,167.1 L361.5,167.2 L361.0,167.3 L360.5,167.4 L360.0,167.5 L359.5,167.6 L359.0,167.7 L358.5,167.8 L358.0,167.9 L357.5,168.1 L357.0,168.2 L356.5,168.3 L356.0,168.4 L355.5,168.5 L355.0,168.6 L354.5,168.8 L354.0,168.9 L353.5,169.1 L353.0,169.3 L352.5,169.4 L352.0,169.6 L351.5,169.8 L351.0,169.9 L350.5,170.1 L350.0,170.3 L349.5,170.4 L349.0,170.6 L348.5,170.8 L348.0,171.0 L347.5,171.1 L347.0,171.3 L346.5,171.5 L346.0,171.6 L345.5,171.8 L345.0,172.0 L344.5,172.1 L344.0,172.3 L343.5,172.5 L343.0,172.7 L342.5,172.9 L342.0,173.1 L341.5,173.3 L341.0,173.5 L340.5,173.7 L340.0,173.9 L339.5,174.2 L339.0,174.4 L338.5,174.6 L338.0,174.8 L337.5,175.0 L337.0,175.2 L336.5,175.4 Z" fill="#1bb862"/>
<path d="M349.5,170.4 L350.0,170.2 L350.5,170.0 L351.0,169.8 L351.5,169.6 L352.0,169.4 L352.5,169.1 L353.0,168.9 L353.5,168.6 L354.0,168.3 L354.5,167.9 L355.0,167.5 L355.5,167.1 L356.0,166.6 L356.5,166.0 L357.0,165.3 L357.5,164.5 L358.0,163.6 L358.5,162.5 L359.0,161.2 L359.5,159.7 L360.0,158.0 L360.5,156.1 L361.0,153.8 L361.5,151.3 L362.0,148.5 L362.5,145.3 L363.0,141.7 L363.5,137.9 L364.0,133.6 L364.5,129.0 L365.0,124.0 L365.5,118.8 L366.0,113.2 L366.5,107.4 L367.0,101.4 L367.5,95.2 L368.0,89.0 L368.5,82.7 L369.0,76.5 L369.5,70.4 L370.0,64.6 L370.5,59.1 L371.0,54.0 L371.5,49.5 L372.0,45.4 L372.5,42.1 L373.0,39.4 L373.5,37.5 L374.0,36.4 L374.5,36.1 L375.0,36.4 L375.5,37.2 L376.0,38.5 L376.5,40.4 L377.0,42.7 L377.5,45.5 L378.0,48.7 L378.5,52.2 L379.0,56.2 L379.5,60.4 L380.0,64.8 L380.5,69.5 L381.0,74.3 L381.5,79.2 L382.0,84.1 L382.5,89.1 L383.0,94.0 L383.5,98.9 L384.0,103.6 L384.5,108.2 L385.0,112.7 L385.5,116.9 L386.0,120.9 L386.5,124.7 L387.0,128.2 L387.5,131.5 L388.0,134.6 L388.5,137.4 L389.0,140.0 L389.5,142.4 L390.0,144.5 L390.5,146.4 L391.0,148.1 L391.5,149.6 L392.0,150.9 L392.5,152.1 L393.0,153.1 L393.5,153.9 L394.0,154.7 L394.5,155.3 L395.0,155.8 L395.5,156.2 L396.0,156.6 L396.5,156.8 L397.0,157.0 L397.5,157.2 L398.0,157.3 L398.5,157.3 L399.0,157.3 L399.5,157.3 L400.0,157.3 L400.5,157.2 L401.0,157.1 L401.5,157.1 L402.0,157.0 L402.5,156.8 L403.0,156.7 L403.5,156.6 L404.0,156.4 L404.5,156.3 L404.5,156.4 L404.0,156.5 L403.5,156.7 L403.0,156.8 L402.5,157.0 L402.0,157.2 L401.5,157.3 L401.0,157.5 L400.5,157.6 L400.0,157.8 L399.5,158.0 L399.0,158.1 L398.5,158.3 L398.0,158.4 L397.5,158.6 L397.0,158.8 L396.5,158.9 L396.0,159.1 L395.5,159.2 L395.0,159.4 L394.5,159.6 L394.0,159.7 L393.5,159.9 L393.0,160.1 L392.5,160.2 L392.0,160.4 L391.5,160.6 L391.0,160.7 L390.5,160.9 L390.0,161.1 L389.5,161.2 L389.0,161.4 L388.5,161.5 L388.0,161.7 L387.5,161.9 L387.0,162.0 L386.5,162.2 L386.0,162.4 L385.5,162.5 L385.0,162.7 L384.5,162.8 L384.0,162.9 L383.5,163.0 L383.0,163.2 L382.5,163.3 L382.0,163.4 L381.5,163.5 L381.0,163.6 L380.5,163.7 L380.0,163.8 L379.5,164.0 L379.0,164.1 L378.5,164.2 L378.0,164.3 L377.5,164.4 L377.0,164.5 L376.5,164.7 L376.0,164.8 L375.5,164.9 L375.0,165.0 L374.5,165.1 L374.0,165.1 L373.5,165.2 L373.0,165.3 L372.5,165.3 L372.0,165.4 L371.5,165.5 L371.0,165.6 L370.5,165.6 L370.0,165.7 L369.5,165.8 L369.0,165.8 L368.5,165.9 L368.0,166.0 L367.5,166.1 L367.0,166.1 L366.5,166.2 L366.0,166.3 L365.5,166.3 L365.0,166.4 L364.5,166.5 L364.0,166.6 L363.5,166.7 L363.0,166.8 L362.5,166.9 L362.0,167.1 L361.5,167.2 L361.0,167.3 L360.5,167.4 L360.0,167.5 L359.5,167.6 L359.0,167.7 L358.5,167.8 L358.0,167.9 L357.5,168.1 L357.0,168.2 L356.5,168.3 L356.0,168.4 L355.5,168.5 L355.0,168.6 L354.5,168.8 L354.0,168.9 L353.5,169.1 L353.0,169.3 L352.5,169.4 L352.0,169.6 L351.5,169.8 L351.0,169.9 L350.5,170.1 L350.0,170.3 L349.5,170.4 Z" fill="#cc6464"/>
<path d="M336.5,175.3 L337.0,175.1 L337.5,174.9 L338.0,174.6 L338.5,174.4 L339.0,174.1 L339.5,173.8 L340.0,173.5 L340.5,173.2 L341.0,172.8 L341.5,172.4 L342.0,171.9 L342.5,171.3 L343.0,170.7 L343.5,170.0 L344.0,169.2 L344.5,168.3 L345.0,167.2 L345.5,166.1 L346.0,164.7 L346.5,163.2 L347.0,161.5 L347.5,159.5 L348.0,157.4 L348.5,155.1 L349.0,152.5 L349.5,149.8 L350.0,146.9 L350.5,143.8 L351.0,140.5 L351.5,137.2 L352.0,133.8 L352.5,130.4 L353.0,127.0 L353.5,123.7 L354.0,120.5 L354.5,117.5 L355.0,114.8 L355.5,112.5 L356.0,110.5 L356.5,108.9 L357.0,107.7 L357.5,107.0 L358.0,106.8 L358.5,107.0 L359.0,107.7 L359.5,108.9 L360.0,110.6 L360.5,112.7 L361.0,115.1 L361.5,117.8 L362.0,120.7 L362.5,123.8 L363.0,127.0 L363.5,130.3 L364.0,133.5 L364.5,136.7 L365.0,139.8 L365.5,142.8 L366.0,145.6 L366.5,148.2 L367.0,150.5 L367.5,152.7 L368.0,154.6 L368.5,156.4 L369.0,157.9 L369.5,159.2 L370.0,160.3 L370.5,161.2 L371.0,162.0 L371.5,162.6 L372.0,163.1 L372.5,163.5 L373.0,163.9 L373.5,164.1 L374.0,164.3 L374.5,164.4 L375.0,164.5 L375.5,164.5 L376.0,164.5 L376.5,164.5 L377.0,164.4 L377.5,164.3 L378.0,164.2 L378.5,164.1 L378.5,164.2 L378.0,164.3 L377.5,164.4 L377.0,164.5 L376.5,164.7 L376.0,164.8 L375.5,164.9 L375.0,165.0 L374.5,165.1 L374.0,165.1 L373.5,165.2 L373.0,165.3 L372.5,165.3 L372.0,165.4 L371.5,165.5 L371.0,165.6 L370.5,165.6 L370.0,165.7 L369.5,165.8 L369.0,165.8 L368.5,165.9 L368.0,166.0 L367.5,166.1 L367.0,166.1 L366.5,166.2 L366.0,166.3 L365.5,166.3 L365.0,166.4 L364.5,166.5 L364.0,166.6 L363.5,166.7 L363.0,166.8 L362.5,166.9 L362.0,167.1 L361.5,167.2 L361.0,167.3 L360.5,167.4 L360.0,167.5 L359.5,167.6 L359.0,167.7 L358.5,167.8 L358.0,167.9 L357.5,168.1 L357.0,168.2 L356.5,168.3 L356.0,168.4 L355.5,168.5 L355.0,168.6 L354.5,168.8 L354.0,168.9 L353.5,169.1 L353.0,169.3 L352.5,169.4 L352.0,169.6 L351.5,169.8 L351.0,169.9 L350.5,170.1 L350.0,170.3 L349.5,170.4 L349.0,170.6 L348.5,170.8 L348.0,171.0 L347.5,171.1 L347.0,171.3 L346.5,171.5 L346.0,171.6 L345.5,171.8 L345.0,172.0 L344.5,172.1 L344.0,172.3 L343.5,172.5 L343.0,172.7 L342.5,172.9 L342.0,173.1 L341.5,173.3 L341.0,173.5 L340.5,173.7 L340.0,173.9 L339.5,174.2 L339.0,174.4 L338.5,174.6 L338.0,174.8 L337.5,175.0 L337.0,175.2 L336.5,175.4 Z" fill="#8c4a28" clip-path="url(#cb_r)"/>
<path d="M326.0,180.2 L326.5,179.9 L327.0,179.7 L327.5,179.4 L328.0,179.2 L328.5,178.9 L329.0,178.7 L329.5,178.4 L330.0,178.2 L330.5,177.9 L331.0,177.7 L331.5,177.4 L332.0,177.2 L332.5,176.9 L333.0,176.6 L333.5,176.4 L334.0,176.1 L334.5,175.9 L335.0,175.6 L335.5,175.4 L336.0,175.2 L336.5,175.0 L337.0,174.8 L337.5,174.6 L338.0,174.4 L338.5,174.2 L339.0,174.0 L339.5,173.8 L340.0,173.5 L340.5,173.3 L341.0,173.1 L341.5,172.9 L342.0,172.7 L342.5,172.5 L343.0,172.3 L343.5,172.1 L344.0,171.9 L344.5,171.7 L345.0,171.5 L345.5,171.4 L346.0,171.2 L346.5,171.0 L347.0,170.8 L347.5,170.7 L348.0,170.5 L348.5,170.3 L349.0,170.1 L349.5,170.0 L350.0,169.8 L350.5,169.6 L351.0,169.5 L351.5,169.3 L352.0,169.1 L352.5,168.9 L353.0,168.8 L353.5,168.6 L354.0,168.4 L354.5,168.2 L355.0,168.1 L355.5,168.0 L356.0,167.8 L356.5,167.7 L357.0,167.6 L357.5,167.5 L358.0,167.4 L358.5,167.3 L359.0,167.1 L359.5,167.0 L360.0,166.9 L360.5,166.8 L361.0,166.7 L361.5,166.6 L362.0,166.4 L362.5,166.3 L363.0,166.2 L363.5,166.1 L364.0,166.0 L364.5,165.9 L365.0,165.7 L365.5,165.7 L366.0,165.6 L366.5,165.5 L367.0,165.4 L367.5,165.4 L368.0,165.3 L368.5,165.2 L369.0,165.1 L369.5,165.0 L370.0,165.0 L370.5,164.9 L371.0,164.8 L371.5,164.7 L372.0,164.7 L372.5,164.6 L373.0,164.5 L373.5,164.4 L374.0,164.3 L374.5,164.3 L375.0,164.2 L375.5,164.0 L376.0,163.9 L376.5,163.8 L377.0,163.7 L377.5,163.5 L378.0,163.4 L378.5,163.3 L379.0,163.2 L379.5,163.0 L380.0,162.9 L380.5,162.8 L381.0,162.7 L381.5,162.5 L382.0,162.4 L382.5,162.3 L383.0,162.1 L383.5,162.0 L384.0,161.9 L384.5,161.7 L385.0,161.6 L385.5,161.4 L386.0,161.3 L386.5,161.1 L387.0,160.9 L387.5,160.7 L388.0,160.5 L388.5,160.3 L389.0,160.2 L389.5,160.0 L390.0,159.8 L390.5,159.6 L391.0,159.4 L391.5,159.2 L392.0,159.1 L392.5,158.9 L393.0,158.7 L393.5,158.5 L394.0,158.3 L394.5,158.1 L395.0,157.9 L395.5,157.7 L396.0,157.6 L396.5,157.4 L397.0,157.2 L397.5,157.0 L398.0,156.8 L398.5,156.6 L399.0,156.4 L399.5,156.2 L400.0,156.0 L400.5,155.9 L401.0,155.7 L401.5,155.5 L402.0,155.3 L402.5,155.1 L403.0,154.9 L403.5,154.7 L404.0,154.5 L404.5,154.3 L405.0,154.1 L405.5,153.8 L406.0,153.6 L406.5,153.4 L407.0,153.1 L407.5,152.9 L408.0,152.7 L408.5,152.4 L409.0,152.2 L409.5,151.9 L410.0,151.7 L410.5,151.4 L411.0,151.2 L411.5,150.9 L412.0,150.7 L412.5,150.4 L413.0,150.2 L413.5,149.9 L414.0,149.6 L414.5,149.4 L415.0,149.1 L415.5,148.8 L416.0,148.5 L416.5,148.3 L417.0,148.0 L417.5,147.7 L418.0,147.4 L418.5,147.1 L419.0,146.8 L419.5,146.5 L420.0,146.2 L420.5,145.9 L421.0,145.6 L421.5,145.2 L422.0,144.9 L422.5,144.6 L423.0,144.2 L423.5,143.9 L424.0,143.5 L424.5,143.2 L425.0,142.8 L425.5,142.4 L426.0,142.0 L426.5,141.6 L427.0,141.2 L427.5,140.8 L428.0,140.4 L428.5,139.9 L429.0,139.5 L429.5,139.0 L430.0,138.5 L430.5,138.0 L431.0,137.5 L431.5,136.9 L432.0,136.4 L432.5,135.8 L433.0,135.1 L433.5,134.5 L434.0,133.8 L434.5,133.1 L435.0,132.4 L435.5,131.6 L436.0,130.8 L436.5,129.9 L437.0,129.0 L437.5,128.1 L438.0,127.1 L438.5,126.0 L439.0,124.8 L439.5,123.6 L440.0,122.3 L440.5,121.0 L441.0,119.5 L441.5,117.9 L442.0,116.2 L442.5,114.4 L443.0,112.5 L443.5,110.5 L444.0,108.4 L444.5,106.0 L445.0,103.6 L445.5,100.9 L446.0,98.1 L446.5,95.0 L447.0,91.8 L447.5,88.5 L448.0,84.9 L448.5,81.3 L449.0,77.5 L449.5,73.7 L450.0,69.9 L450.5,66.2 L451.0,62.7 L451.5,59.6 L452.0,56.8 L452.5,54.6 L453.0,52.9 L453.5,52.0 L454.0,51.8 L454.5,52.1 L455.0,53.0 L455.5,54.3 L456.0,56.0 L456.5,58.1 L457.0,60.6 L457.5,63.2 L458.0,66.1 L458.5,69.1 L459.0,72.2 L459.5,75.3 L460.0,78.5 L460.5,81.5 L461.0,84.6 L461.5,87.5 L462.0,90.4 L462.5,93.1 L463.0,95.7 L463.5,98.2 L464.0,100.6 L464.5,102.8 L465.0,104.9 L465.5,106.8 L466.0,108.6 L466.5,110.2 L467.0,111.7 L467.5,113.1 L468.0,114.3 L468.5,115.5 L469.0,116.6 L469.5,117.5 L470.0,118.4 L470.5,119.2 L471.0,119.9 L471.5,120.5 L472.0,121.1 L472.5,121.6 L473.0,122.0 L473.5,122.4 L474.0,122.8 L474.5,123.1 L475.0,123.4 L475.5,123.6 L476.0,123.8 L476.5,124.0 L477.0,124.1 L477.5,124.3 L478.0,124.4 L478.5,124.4 L479.0,124.5 L479.5,124.6 L480.0,124.6 L480.5,124.6 L481.0,124.6 L481.5,124.6 L482.0,124.6 L482.5,124.6 L483.0,124.6 L483.5,124.5 L484.0,124.5 L484.5,124.4 L485.0,124.4 L485.5,124.3 L486.0,124.3 L486.5,124.2 L487.0,124.1 L487.5,124.0 L488.0,123.9 L488.5,123.9 L489.0,123.8 L489.5,123.7 L490.0,123.6 L490.5,123.5 L491.0,123.4 L491.5,123.3 L492.0,123.2 L492.5,123.1 L493.0,123.0 L493.5,122.9 L494.0,122.7 L494.5,122.6 L495.0,122.5 L495.5,122.4 L496.0,122.3 L496.5,122.1 L497.0,122.0 L497.5,121.9 L498.0,121.7 L498.5,121.6 L499.0,121.5 L499.5,121.3 L500.0,121.2 L500.5,121.1 L501.0,120.9 L501.5,120.8 L502.0,120.6 L502.5,120.5 L503.0,120.3 L503.5,120.2 L504.0,120.1 L504.5,119.9 L505.0,119.8 L505.5,119.6 L506.0,119.5 L506.5,119.3 L507.0,119.1 L507.5,119.0 L508.0,118.8 L508.5,118.7 L509.0,118.5 L509.5,118.4 L510.0,118.2 L510.5,118.1 L511.0,117.9 L511.5,117.7 L512.0,117.6 L512.5,117.4 L513.0,117.2 L513.5,117.1 L514.0,116.9 L514.5,116.7 L515.0,116.5 L515.5,116.4 L516.0,116.2 L516.5,116.0 L517.0,115.9 L517.5,115.7 L518.0,115.5 L518.5,115.3 L519.0,115.2 L519.5,115.0 L520.0,114.8 L520.5,114.6 L521.0,114.5 L521.5,114.3 L522.0,114.1 L522.5,113.9 L523.0,113.8 L523.5,113.6 L524.0,113.4 L524.5,113.2 L525.0,113.0 L525.5,112.9 L526.0,112.7 L526.5,112.5 L527.0,112.3 L527.5,112.2 L528.0,112.0 L528.5,111.8 L529.0,111.6 L529.5,111.4 L530.0,111.3 L530.5,111.1 L531.0,110.9 L531.5,110.7 L532.0,110.5 L532.5,110.4 L533.0,110.2 L533.5,110.0 L534.0,109.8 L534.5,109.6 L535.0,109.4 L535.5,109.3 L536.0,109.1 L536.5,108.9 L537.0,108.7 L537.5,108.5 L538.0,108.3 L538.5,108.2 L539.0,108.0 L539.5,107.8 L539.5,108.5 L539.0,108.6 L538.5,108.8 L538.0,109.0 L537.5,109.2 L537.0,109.4 L536.5,109.6 L536.0,109.8 L535.5,110.0 L535.0,110.1 L534.5,110.3 L534.0,110.5 L533.5,110.7 L533.0,110.9 L532.5,111.1 L532.0,111.3 L531.5,111.5 L531.0,111.7 L530.5,111.9 L530.0,112.1 L529.5,112.2 L529.0,112.4 L528.5,112.6 L528.0,112.8 L527.5,113.0 L527.0,113.2 L526.5,113.4 L526.0,113.6 L525.5,113.8 L525.0,114.0 L524.5,114.2 L524.0,114.3 L523.5,114.5 L523.0,114.7 L522.5,114.9 L522.0,115.1 L521.5,115.3 L521.0,115.5 L520.5,115.7 L520.0,115.9 L519.5,116.1 L519.0,116.2 L518.5,116.4 L518.0,116.6 L517.5,116.8 L517.0,117.0 L516.5,117.2 L516.0,117.4 L515.5,117.6 L515.0,117.8 L514.5,118.0 L514.0,118.2 L513.5,118.3 L513.0,118.5 L512.5,118.7 L512.0,118.9 L511.5,119.1 L511.0,119.3 L510.5,119.5 L510.0,119.7 L509.5,119.8 L509.0,120.0 L508.5,120.2 L508.0,120.4 L507.5,120.6 L507.0,120.8 L506.5,120.9 L506.0,121.1 L505.5,121.3 L505.0,121.5 L504.5,121.7 L504.0,121.9 L503.5,122.0 L503.0,122.2 L502.5,122.4 L502.0,122.6 L501.5,122.8 L501.0,123.0 L500.5,123.1 L500.0,123.3 L499.5,123.5 L499.0,123.7 L498.5,123.9 L498.0,124.0 L497.5,124.2 L497.0,124.4 L496.5,124.6 L496.0,124.8 L495.5,125.0 L495.0,125.1 L494.5,125.3 L494.0,125.5 L493.5,125.7 L493.0,125.9 L492.5,126.1 L492.0,126.2 L491.5,126.4 L491.0,126.6 L490.5,126.8 L490.0,127.0 L489.5,127.2 L489.0,127.3 L488.5,127.5 L488.0,127.7 L487.5,127.9 L487.0,128.1 L486.5,128.3 L486.0,128.5 L485.5,128.7 L485.0,128.9 L484.5,129.1 L484.0,129.2 L483.5,129.4 L483.0,129.6 L482.5,129.8 L482.0,130.0 L481.5,130.2 L481.0,130.4 L480.5,130.6 L480.0,130.8 L479.5,131.0 L479.0,131.2 L478.5,131.4 L478.0,131.6 L477.5,131.8 L477.0,132.0 L476.5,132.1 L476.0,132.3 L475.5,132.5 L475.0,132.7 L474.5,132.9 L474.0,133.1 L473.5,133.3 L473.0,133.5 L472.5,133.7 L472.0,133.9 L471.5,134.1 L471.0,134.3 L470.5,134.5 L470.0,134.7 L469.5,134.9 L469.0,135.0 L468.5,135.2 L468.0,135.4 L467.5,135.6 L467.0,135.8 L466.5,136.0 L466.0,136.2 L465.5,136.4 L465.0,136.5 L464.5,136.6 L464.0,136.8 L463.5,136.9 L463.0,137.0 L462.5,137.1 L462.0,137.3 L461.5,137.4 L461.0,137.5 L460.5,137.6 L460.0,137.8 L459.5,137.9 L459.0,138.0 L458.5,138.1 L458.0,138.3 L457.5,138.4 L457.0,138.5 L456.5,138.6 L456.0,138.8 L455.5,138.9 L455.0,139.0 L454.5,139.1 L454.0,139.3 L453.5,139.4 L453.0,139.5 L452.5,139.6 L452.0,139.8 L451.5,139.9 L451.0,140.0 L450.5,140.1 L450.0,140.3 L449.5,140.4 L449.0,140.5 L448.5,140.6 L448.0,140.8 L447.5,140.9 L447.0,141.0 L446.5,141.1 L446.0,141.3 L445.5,141.4 L445.0,141.5 L444.5,141.6 L444.0,141.8 L443.5,141.9 L443.0,142.0 L442.5,142.2 L442.0,142.4 L441.5,142.6 L441.0,142.7 L440.5,142.9 L440.0,143.1 L439.5,143.3 L439.0,143.5 L438.5,143.7 L438.0,143.8 L437.5,144.0 L437.0,144.2 L436.5,144.4 L436.0,144.6 L435.5,144.8 L435.0,145.0 L434.5,145.1 L434.0,145.3 L433.5,145.5 L433.0,145.7 L432.5,145.9 L432.0,146.1 L431.5,146.2 L431.0,146.4 L430.5,146.6 L430.0,146.8 L429.5,147.0 L429.0,147.2 L428.5,147.4 L428.0,147.5 L427.5,147.7 L427.0,147.9 L426.5,148.1 L426.0,148.3 L425.5,148.5 L425.0,148.7 L424.5,148.8 L424.0,149.0 L423.5,149.2 L423.0,149.4 L422.5,149.6 L422.0,149.8 L421.5,149.9 L421.0,150.1 L420.5,150.3 L420.0,150.5 L419.5,150.7 L419.0,150.9 L418.5,151.1 L418.0,151.3 L417.5,151.4 L417.0,151.6 L416.5,151.8 L416.0,152.0 L415.5,152.2 L415.0,152.4 L414.5,152.6 L414.0,152.8 L413.5,153.0 L413.0,153.2 L412.5,153.3 L412.0,153.5 L411.5,153.7 L411.0,153.9 L410.5,154.1 L410.0,154.3 L409.5,154.5 L409.0,154.7 L408.5,154.9 L408.0,155.1 L407.5,155.2 L407.0,155.4 L406.5,155.6 L406.0,155.8 L405.5,156.0 L405.0,156.2 L404.5,156.4 L404.0,156.5 L403.5,156.7 L403.0,156.8 L402.5,157.0 L402.0,157.2 L401.5,157.3 L401.0,157.5 L400.5,157.6 L400.0,157.8 L399.5,158.0 L399.0,158.1 L398.5,158.3 L398.0,158.4 L397.5,158.6 L397.0,158.8 L396.5,158.9 L396.0,159.1 L395.5,159.2 L395.0,159.4 L394.5,159.6 L394.0,159.7 L393.5,159.9 L393.0,160.1 L392.5,160.2 L392.0,160.4 L391.5,160.6 L391.0,160.7 L390.5,160.9 L390.0,161.1 L389.5,161.2 L389.0,161.4 L388.5,161.5 L388.0,161.7 L387.5,161.9 L387.0,162.0 L386.5,162.2 L386.0,162.4 L385.5,162.5 L385.0,162.7 L384.5,162.8 L384.0,162.9 L383.5,163.0 L383.0,163.2 L382.5,163.3 L382.0,163.4 L381.5,163.5 L381.0,163.6 L380.5,163.7 L380.0,163.8 L379.5,164.0 L379.0,164.1 L378.5,164.2 L378.0,164.3 L377.5,164.4 L377.0,164.5 L376.5,164.7 L376.0,164.8 L375.5,164.9 L375.0,165.0 L374.5,165.1 L374.0,165.1 L373.5,165.2 L373.0,165.3 L372.5,165.3 L372.0,165.4 L371.5,165.5 L371.0,165.6 L370.5,165.6 L370.0,165.7 L369.5,165.8 L369.0,165.8 L368.5,165.9 L368.0,166.0 L367.5,166.1 L367.0,166.1 L366.5,166.2 L366.0,166.3 L365.5,166.3 L365.0,166.4 L364.5,166.5 L364.0,166.6 L363.5,166.7 L363.0,166.8 L362.5,166.9 L362.0,167.1 L361.5,167.2 L361.0,167.3 L360.5,167.4 L360.0,167.5 L359.5,167.6 L359.0,167.7 L358.5,167.8 L358.0,167.9 L357.5,168.1 L357.0,168.2 L356.5,168.3 L356.0,168.4 L355.5,168.5 L355.0,168.6 L354.5,168.8 L354.0,168.9 L353.5,169.1 L353.0,169.3 L352.5,169.4 L352.0,169.6 L351.5,169.8 L351.0,169.9 L350.5,170.1 L350.0,170.3 L349.5,170.4 L349.0,170.6 L348.5,170.8 L348.0,171.0 L347.5,171.1 L347.0,171.3 L346.5,171.5 L346.0,171.6 L345.5,171.8 L345.0,172.0 L344.5,172.1 L344.0,172.3 L343.5,172.5 L343.0,172.7 L342.5,172.9 L342.0,173.1 L341.5,173.3 L341.0,173.5 L340.5,173.7 L340.0,173.9 L339.5,174.2 L339.0,174.4 L338.5,174.6 L338.0,174.8 L337.5,175.0 L337.0,175.2 L336.5,175.4 L336.0,175.6 L335.5,175.8 L335.0,176.0 L334.5,176.2 L334.0,176.5 L333.5,176.8 L333.0,177.0 L332.5,177.2 L332.0,177.5 L331.5,177.8 L331.0,178.0 L330.5,178.2 L330.0,178.5 L329.5,178.8 L329.0,179.0 L328.5,179.2 L328.0,179.5 L327.5,179.8 L327.0,180.0 L326.5,180.2 L326.0,180.5 Z" fill="#dc7a32"/>
<path d="M400.5,157.6 L401.0,157.4 L401.5,157.3 L402.0,157.1 L402.5,156.9 L403.0,156.8 L403.5,156.6 L404.0,156.5 L404.5,156.3 L405.0,156.1 L405.5,155.9 L406.0,155.7 L406.5,155.6 L407.0,155.4 L407.5,155.2 L408.0,155.0 L408.5,154.8 L409.0,154.6 L409.5,154.4 L410.0,154.2 L410.5,154.0 L411.0,153.8 L411.5,153.6 L412.0,153.4 L412.5,153.2 L413.0,153.0 L413.5,152.9 L414.0,152.7 L414.5,152.5 L415.0,152.3 L415.5,152.1 L416.0,151.9 L416.5,151.7 L417.0,151.5 L417.5,151.3 L418.0,151.1 L418.5,150.9 L419.0,150.7 L419.5,150.5 L420.0,150.3 L420.5,150.1 L421.0,149.9 L421.5,149.7 L422.0,149.5 L422.5,149.3 L423.0,149.0 L423.5,148.8 L424.0,148.6 L424.5,148.3 L425.0,148.0 L425.5,147.7 L426.0,147.4 L426.5,147.0 L427.0,146.5 L427.5,145.9 L428.0,145.3 L428.5,144.5 L429.0,143.6 L429.5,142.5 L430.0,141.2 L430.5,139.7 L431.0,138.1 L431.5,136.2 L432.0,134.2 L432.5,132.0 L433.0,129.6 L433.5,127.2 L434.0,124.7 L434.5,122.3 L435.0,120.0 L435.5,117.8 L436.0,116.0 L436.5,114.5 L437.0,113.4 L437.5,112.8 L438.0,112.6 L438.5,113.0 L439.0,113.8 L439.5,115.0 L440.0,116.5 L440.5,118.3 L441.0,120.3 L441.5,122.4 L442.0,124.5 L442.5,126.5 L443.0,128.5 L443.5,130.4 L444.0,132.1 L444.5,133.6 L445.0,134.9 L445.5,136.0 L446.0,136.9 L446.5,137.7 L447.0,138.3 L447.5,138.7 L448.0,139.0 L448.5,139.3 L449.0,139.4 L449.5,139.5 L450.0,139.5 L450.5,139.5 L451.0,139.5 L451.5,139.5 L452.0,139.4 L452.5,139.3 L453.0,139.2 L453.5,139.1 L454.0,139.0 L454.5,138.9 L455.0,138.8 L455.5,138.7 L456.0,138.6 L456.5,138.4 L457.0,138.3 L457.5,138.2 L458.0,138.1 L458.5,138.0 L459.0,137.9 L459.5,137.7 L460.0,137.6 L460.5,137.5 L461.0,137.4 L461.5,137.3 L462.0,137.2 L462.5,137.0 L463.0,136.9 L463.5,136.8 L464.0,136.7 L464.5,136.6 L465.0,136.4 L465.5,136.3 L466.0,136.1 L466.5,135.9 L467.0,135.7 L467.5,135.5 L468.0,135.4 L468.5,135.2 L469.0,135.0 L469.5,134.8 L470.0,134.6 L470.5,134.4 L471.0,134.2 L471.5,134.0 L472.0,133.8 L472.5,133.6 L473.0,133.4 L473.5,133.3 L474.0,133.1 L474.5,132.9 L475.0,132.7 L475.0,132.7 L474.5,132.9 L474.0,133.1 L473.5,133.3 L473.0,133.5 L472.5,133.7 L472.0,133.9 L471.5,134.1 L471.0,134.3 L470.5,134.5 L470.0,134.7 L469.5,134.9 L469.0,135.0 L468.5,135.2 L468.0,135.4 L467.5,135.6 L467.0,135.8 L466.5,136.0 L466.0,136.2 L465.5,136.4 L465.0,136.5 L464.5,136.6 L464.0,136.8 L463.5,136.9 L463.0,137.0 L462.5,137.1 L462.0,137.3 L461.5,137.4 L461.0,137.5 L460.5,137.6 L460.0,137.8 L459.5,137.9 L459.0,138.0 L458.5,138.1 L458.0,138.3 L457.5,138.4 L457.0,138.5 L456.5,138.6 L456.0,138.8 L455.5,138.9 L455.0,139.0 L454.5,139.1 L454.0,139.3 L453.5,139.4 L453.0,139.5 L452.5,139.6 L452.0,139.8 L451.5,139.9 L451.0,140.0 L450.5,140.1 L450.0,140.3 L449.5,140.4 L449.0,140.5 L448.5,140.6 L448.0,140.8 L447.5,140.9 L447.0,141.0 L446.5,141.1 L446.0,141.3 L445.5,141.4 L445.0,141.5 L444.5,141.6 L444.0,141.8 L443.5,141.9 L443.0,142.0 L442.5,142.2 L442.0,142.4 L441.5,142.6 L441.0,142.7 L440.5,142.9 L440.0,143.1 L439.5,143.3 L439.0,143.5 L438.5,143.7 L438.0,143.8 L437.5,144.0 L437.0,144.2 L436.5,144.4 L436.0,144.6 L435.5,144.8 L435.0,145.0 L434.5,145.1 L434.0,145.3 L433.5,145.5 L433.0,145.7 L432.5,145.9 L432.0,146.1 L431.5,146.2 L431.0,146.4 L430.5,146.6 L430.0,146.8 L429.5,147.0 L429.0,147.2 L428.5,147.4 L428.0,147.5 L427.5,147.7 L427.0,147.9 L426.5,148.1 L426.0,148.3 L425.5,148.5 L425.0,148.7 L424.5,148.8 L424.0,149.0 L423.5,149.2 L423.0,149.4 L422.5,149.6 L422.0,149.8 L421.5,149.9 L421.0,150.1 L420.5,150.3 L420.0,150.5 L419.5,150.7 L419.0,150.9 L418.5,151.1 L418.0,151.3 L417.5,151.4 L417.0,151.6 L416.5,151.8 L416.0,152.0 L415.5,152.2 L415.0,152.4 L414.5,152.6 L414.0,152.8 L413.5,153.0 L413.0,153.2 L412.5,153.3 L412.0,153.5 L411.5,153.7 L411.0,153.9 L410.5,154.1 L410.0,154.3 L409.5,154.5 L409.0,154.7 L408.5,154.9 L408.0,155.1 L407.5,155.2 L407.0,155.4 L406.5,155.6 L406.0,155.8 L405.5,156.0 L405.0,156.2 L404.5,156.4 L404.0,156.5 L403.5,156.7 L403.0,156.8 L402.5,157.0 L402.0,157.2 L401.5,157.3 L401.0,157.5 L400.5,157.6 Z" fill="#00f0f0"/>
<path d="M400.5,157.6 L401.0,157.4 L401.5,157.3 L402.0,157.1 L402.5,156.9 L403.0,156.8 L403.5,156.6 L404.0,156.5 L404.5,156.3 L405.0,156.1 L405.5,155.9 L406.0,155.7 L406.5,155.6 L407.0,155.4 L407.5,155.2 L408.0,155.0 L408.5,154.8 L409.0,154.6 L409.5,154.4 L410.0,154.2 L410.5,154.0 L411.0,153.8 L411.5,153.6 L412.0,153.4 L412.5,153.2 L413.0,153.0 L413.5,152.9 L414.0,152.7 L414.5,152.5 L415.0,152.3 L415.5,152.1 L416.0,151.9 L416.5,151.7 L417.0,151.5 L417.5,151.3 L418.0,151.1 L418.5,150.9 L419.0,150.7 L419.5,150.5 L420.0,150.3 L420.5,150.1 L421.0,149.9 L421.5,149.7 L422.0,149.5 L422.5,149.3 L423.0,149.0 L423.5,148.8 L424.0,148.6 L424.5,148.3 L425.0,148.0 L425.5,147.7 L426.0,147.4 L426.5,147.0 L427.0,146.5 L427.5,145.9 L428.0,145.3 L428.5,144.5 L429.0,143.6 L429.5,142.5 L430.0,141.2 L430.5,139.7 L431.0,138.1 L431.5,136.2 L432.0,134.2 L432.5,132.0 L433.0,129.6 L433.5,127.2 L434.0,124.7 L434.5,122.3 L435.0,120.0 L435.5,117.8 L436.0,116.0 L436.5,114.5 L437.0,113.4 L437.5,112.8 L438.0,112.6 L438.5,113.0 L439.0,113.8 L439.5,115.0 L440.0,116.5 L440.5,118.3 L441.0,120.3 L441.5,122.4 L442.0,124.5 L442.5,126.5 L443.0,128.5 L443.5,130.4 L444.0,132.1 L444.5,133.6 L445.0,134.9 L445.5,136.0 L446.0,136.9 L446.5,137.7 L447.0,138.3 L447.5,138.7 L448.0,139.0 L448.5,139.3 L449.0,139.4 L449.5,139.5 L450.0,139.5 L450.5,139.5 L451.0,139.5 L451.5,139.5 L452.0,139.4 L452.5,139.3 L453.0,139.2 L453.5,139.1 L454.0,139.0 L454.5,138.9 L455.0,138.8 L455.5,138.7 L456.0,138.6 L456.5,138.4 L457.0,138.3 L457.5,138.2 L458.0,138.1 L458.5,138.0 L459.0,137.9 L459.5,137.7 L460.0,137.6 L460.5,137.5 L461.0,137.4 L461.5,137.3 L462.0,137.2 L462.5,137.0 L463.0,136.9 L463.5,136.8 L464.0,136.7 L464.5,136.6 L465.0,136.4 L465.5,136.3 L466.0,136.1 L466.5,135.9 L467.0,135.7 L467.5,135.5 L468.0,135.4 L468.5,135.2 L469.0,135.0 L469.5,134.8 L470.0,134.6 L470.5,134.4 L471.0,134.2 L471.5,134.0 L472.0,133.8 L472.5,133.6 L473.0,133.4 L473.5,133.3 L474.0,133.1 L474.5,132.9 L475.0,132.7 L475.0,132.7 L474.5,132.9 L474.0,133.1 L473.5,133.3 L473.0,133.5 L472.5,133.7 L472.0,133.9 L471.5,134.1 L471.0,134.3 L470.5,134.5 L470.0,134.7 L469.5,134.9 L469.0,135.0 L468.5,135.2 L468.0,135.4 L467.5,135.6 L467.0,135.8 L466.5,136.0 L466.0,136.2 L465.5,136.4 L465.0,136.5 L464.5,136.6 L464.0,136.8 L463.5,136.9 L463.0,137.0 L462.5,137.1 L462.0,137.3 L461.5,137.4 L461.0,137.5 L460.5,137.6 L460.0,137.8 L459.5,137.9 L459.0,138.0 L458.5,138.1 L458.0,138.3 L457.5,138.4 L457.0,138.5 L456.5,138.6 L456.0,138.8 L455.5,138.9 L455.0,139.0 L454.5,139.1 L454.0,139.3 L453.5,139.4 L453.0,139.5 L452.5,139.6 L452.0,139.8 L451.5,139.9 L451.0,140.0 L450.5,140.1 L450.0,140.3 L449.5,140.4 L449.0,140.5 L448.5,140.6 L448.0,140.8 L447.5,140.9 L447.0,141.0 L446.5,141.1 L446.0,141.3 L445.5,141.4 L445.0,141.5 L444.5,141.6 L444.0,141.8 L443.5,141.9 L443.0,142.0 L442.5,142.2 L442.0,142.4 L441.5,142.6 L441.0,142.7 L440.5,142.9 L440.0,143.1 L439.5,143.3 L439.0,143.5 L438.5,143.7 L438.0,143.8 L437.5,144.0 L437.0,144.2 L436.5,144.4 L436.0,144.6 L435.5,144.8 L435.0,145.0 L434.5,145.1 L434.0,145.3 L433.5,145.5 L433.0,145.7 L432.5,145.9 L432.0,146.1 L431.5,146.2 L431.0,146.4 L430.5,146.6 L430.0,146.8 L429.5,147.0 L429.0,147.2 L428.5,147.4 L428.0,147.5 L427.5,147.7 L427.0,147.9 L426.5,148.1 L426.0,148.3 L425.5,148.5 L425.0,148.7 L424.5,148.8 L424.0,149.0 L423.5,149.2 L423.0,149.4 L422.5,149.6 L422.0,149.8 L421.5,149.9 L421.0,150.1 L420.5,150.3 L420.0,150.5 L419.5,150.7 L419.0,150.9 L418.5,151.1 L418.0,151.3 L417.5,151.4 L417.0,151.6 L416.5,151.8 L416.0,152.0 L415.5,152.2 L415.0,152.4 L414.5,152.6 L414.0,152.8 L413.5,153.0 L413.0,153.2 L412.5,153.3 L412.0,153.5 L411.5,153.7 L411.0,153.9 L410.5,154.1 L410.0,154.3 L409.5,154.5 L409.0,154.7 L408.5,154.9 L408.0,155.1 L407.5,155.2 L407.0,155.4 L406.5,155.6 L406.0,155.8 L405.5,156.0 L405.0,156.2 L404.5,156.4 L404.0,156.5 L403.5,156.7 L403.0,156.8 L402.5,157.0 L402.0,157.2 L401.5,157.3 L401.0,157.5 L400.5,157.6 Z" fill="#aa7846" clip-path="url(#cb_o)"/>
<path d="M466.5,136.0 L467.0,135.8 L467.5,135.6 L468.0,135.4 L468.5,135.2 L469.0,135.0 L469.5,134.8 L470.0,134.6 L470.5,134.3 L471.0,134.1 L471.5,133.9 L472.0,133.7 L472.5,133.5 L473.0,133.3 L473.5,133.1 L474.0,132.9 L474.5,132.7 L475.0,132.4 L475.5,132.2 L476.0,132.0 L476.5,131.8 L477.0,131.6 L477.5,131.3 L478.0,131.1 L478.5,130.9 L479.0,130.6 L479.5,130.4 L480.0,130.2 L480.5,129.9 L481.0,129.7 L481.5,129.4 L482.0,129.2 L482.5,128.9 L483.0,128.6 L483.5,128.4 L484.0,128.1 L484.5,127.8 L485.0,127.6 L485.5,127.3 L486.0,127.0 L486.5,126.7 L487.0,126.4 L487.5,126.1 L488.0,125.8 L488.5,125.5 L489.0,125.2 L489.5,124.9 L490.0,124.6 L490.5,124.3 L491.0,124.0 L491.5,123.7 L492.0,123.4 L492.5,123.0 L493.0,122.7 L493.5,122.4 L494.0,122.1 L494.5,121.7 L495.0,121.4 L495.5,121.1 L496.0,120.7 L496.5,120.4 L497.0,120.0 L497.5,119.7 L498.0,119.4 L498.5,119.0 L499.0,118.7 L499.5,118.3 L500.0,118.0 L500.5,117.7 L501.0,117.3 L501.5,117.0 L502.0,116.7 L502.5,116.4 L503.0,116.0 L503.5,115.7 L504.0,115.4 L504.5,115.1 L505.0,114.8 L505.5,114.5 L506.0,114.2 L506.5,114.0 L507.0,113.7 L507.5,113.4 L508.0,113.2 L508.5,112.9 L509.0,112.7 L509.5,112.5 L510.0,112.2 L510.5,112.0 L511.0,111.8 L511.5,111.6 L512.0,111.4 L512.5,111.2 L513.0,111.1 L513.5,110.9 L514.0,110.7 L514.5,110.6 L515.0,110.4 L515.5,110.3 L516.0,110.2 L516.5,110.1 L517.0,109.9 L517.5,109.8 L518.0,109.8 L518.5,109.7 L519.0,109.6 L519.5,109.5 L520.0,109.4 L520.5,109.4 L521.0,109.3 L521.5,109.3 L522.0,109.2 L522.5,109.2 L523.0,109.1 L523.5,109.1 L524.0,109.0 L524.5,109.0 L525.0,109.0 L525.5,108.9 L526.0,108.9 L526.5,108.9 L527.0,108.8 L527.5,108.8 L528.0,108.8 L528.5,108.7 L529.0,108.7 L529.5,108.6 L530.0,108.6 L530.5,108.6 L531.0,108.5 L531.5,108.5 L532.0,108.4 L532.5,108.4 L533.0,108.3 L533.5,108.2 L534.0,108.2 L534.5,108.1 L535.0,108.0 L535.5,108.0 L536.0,107.9 L536.5,107.8 L537.0,107.7 L537.5,107.6 L538.0,107.5 L538.5,107.4 L539.0,107.3 L539.5,107.2 L539.5,108.5 L539.0,108.6 L538.5,108.8 L538.0,109.0 L537.5,109.2 L537.0,109.4 L536.5,109.6 L536.0,109.8 L535.5,110.0 L535.0,110.1 L534.5,110.3 L534.0,110.5 L533.5,110.7 L533.0,110.9 L532.5,111.1 L532.0,111.3 L531.5,111.5 L531.0,111.7 L530.5,111.9 L530.0,112.1 L529.5,112.2 L529.0,112.4 L528.5,112.6 L528.0,112.8 L527.5,113.0 L527.0,113.2 L526.5,113.4 L526.0,113.6 L525.5,113.8 L525.0,114.0 L524.5,114.2 L524.0,114.3 L523.5,114.5 L523.0,114.7 L522.5,114.9 L522.0,115.1 L521.5,115.3 L521.0,115.5 L520.5,115.7 L520.0,115.9 L519.5,116.1 L519.0,116.2 L518.5,116.4 L518.0,116.6 L517.5,116.8 L517.0,117.0 L516.5,117.2 L516.0,117.4 L515.5,117.6 L515.0,117.8 L514.5,118.0 L514.0,118.2 L513.5,118.3 L513.0,118.5 L512.5,118.7 L512.0,118.9 L511.5,119.1 L511.0,119.3 L510.5,119.5 L510.0,119.7 L509.5,119.8 L509.0,120.0 L508.5,120.2 L508.0,120.4 L507.5,120.6 L507.0,120.8 L506.5,120.9 L506.0,121.1 L505.5,121.3 L505.0,121.5 L504.5,121.7 L504.0,121.9 L503.5,122.0 L503.0,122.2 L502.5,122.4 L502.0,122.6 L501.5,122.8 L501.0,123.0 L500.5,123.1 L500.0,123.3 L499.5,123.5 L499.0,123.7 L498.5,123.9 L498.0,124.0 L497.5,124.2 L497.0,124.4 L496.5,124.6 L496.0,124.8 L495.5,125.0 L495.0,125.1 L494.5,125.3 L494.0,125.5 L493.5,125.7 L493.0,125.9 L492.5,126.1 L492.0,126.2 L491.5,126.4 L491.0,126.6 L490.5,126.8 L490.0,127.0 L489.5,127.2 L489.0,127.3 L488.5,127.5 L488.0,127.7 L487.5,127.9 L487.0,128.1 L486.5,128.3 L486.0,128.5 L485.5,128.7 L485.0,128.9 L484.5,129.1 L484.0,129.2 L483.5,129.4 L483.0,129.6 L482.5,129.8 L482.0,130.0 L481.5,130.2 L481.0,130.4 L480.5,130.6 L480.0,130.8 L479.5,131.0 L479.0,131.2 L478.5,131.4 L478.0,131.6 L477.5,131.8 L477.0,132.0 L476.5,132.1 L476.0,132.3 L475.5,132.5 L475.0,132.7 L474.5,132.9 L474.0,133.1 L473.5,133.3 L473.0,133.5 L472.5,133.7 L472.0,133.9 L471.5,134.1 L471.0,134.3 L470.5,134.5 L470.0,134.7 L469.5,134.9 L469.0,135.0 L468.5,135.2 L468.0,135.4 L467.5,135.6 L467.0,135.8 L466.5,136.0 Z" fill="#ff48e8"/>
<path d="M339.5,173.8 L340.0,173.5 L340.5,173.2 L341.0,172.8 L341.5,172.4 L342.0,171.9 L342.5,171.3 L343.0,170.7 L343.5,170.0 L344.0,169.2 L344.5,168.3 L345.0,167.2 L345.5,166.1 L346.0,164.7 L346.5,163.2 L347.0,161.5 L347.5,159.5 L348.0,157.4 L348.5,155.1 L349.0,152.5 L349.5,149.8 L350.0,146.9 L350.5,143.8 L351.0,140.5 L351.5,137.2 L352.0,133.8 L352.5,130.4 L353.0,127.0 L353.5,123.7 L354.0,120.5 L354.5,117.5 L355.0,114.8 L355.5,112.5 L356.0,110.5 L356.5,108.9 L357.0,107.7 L357.5,107.0 L358.0,106.8 L358.5,107.0 L359.0,107.7 L359.5,108.9 L360.0,110.6 L360.5,112.7 L361.0,115.1 L361.5,117.8 L362.0,120.7 L362.5,123.8 L363.0,127.0 L363.5,130.3 L364.0,133.5 L364.5,136.7 L365.0,139.8 L365.5,142.8 L366.0,145.6 L366.5,148.2 L367.0,150.5 L367.5,152.7 L368.0,154.6 L368.5,156.4 L369.0,157.9 L369.5,159.2 L370.0,160.3 L370.5,161.2 L371.0,162.0 L371.5,162.6 L372.0,163.1 L372.5,163.5 L373.0,163.9 L373.5,164.1 L374.0,164.3 L374.5,164.4 L375.0,164.5 L375.5,164.5" fill="none" stroke="#158a48" stroke-width="0.8"/>
<path d="M352.5,169.1 L353.0,168.9 L353.5,168.6 L354.0,168.3 L354.5,167.9 L355.0,167.5 L355.5,167.1 L356.0,166.6 L356.5,166.0 L357.0,165.3 L357.5,164.5 L358.0,163.6 L358.5,162.5 L359.0,161.2 L359.5,159.7 L360.0,158.0 L360.5,156.1 L361.0,153.8 L361.5,151.3 L362.0,148.5 L362.5,145.3 L363.0,141.7 L363.5,137.9 L364.0,133.6 L364.5,129.0 L365.0,124.0 L365.5,118.8 L366.0,113.2 L366.5,107.4 L367.0,101.4 L367.5,95.2 L368.0,89.0 L368.5,82.7 L369.0,76.5 L369.5,70.4 L370.0,64.6 L370.5,59.1 L371.0,54.0 L371.5,49.5 L372.0,45.4 L372.5,42.1 L373.0,39.4 L373.5,37.5 L374.0,36.4 L374.5,36.1 L375.0,36.4 L375.5,37.2 L376.0,38.5 L376.5,40.4 L377.0,42.7 L377.5,45.5 L378.0,48.7 L378.5,52.2 L379.0,56.2 L379.5,60.4 L380.0,64.8 L380.5,69.5 L381.0,74.3 L381.5,79.2 L382.0,84.1 L382.5,89.1 L383.0,94.0 L383.5,98.9 L384.0,103.6 L384.5,108.2 L385.0,112.7 L385.5,116.9 L386.0,120.9 L386.5,124.7 L387.0,128.2 L387.5,131.5 L388.0,134.6 L388.5,137.4 L389.0,140.0 L389.5,142.4 L390.0,144.5 L390.5,146.4 L391.0,148.1 L391.5,149.6 L392.0,150.9 L392.5,152.1 L393.0,153.1 L393.5,153.9 L394.0,154.7 L394.5,155.3 L395.0,155.8 L395.5,156.2 L396.0,156.6 L396.5,156.8 L397.0,157.0 L397.5,157.2 L398.0,157.3 L398.5,157.3 L399.0,157.3 L399.5,157.3 L400.0,157.3 L400.5,157.2 L401.0,157.1" fill="none" stroke="#a04040" stroke-width="0.8"/>
<path d="M422.5,149.3 L423.0,149.0 L423.5,148.8 L424.0,148.6 L424.5,148.3 L425.0,148.0 L425.5,147.7 L426.0,147.4 L426.5,147.0 L427.0,146.5 L427.5,145.9 L428.0,145.3 L428.5,144.5 L429.0,143.6 L429.5,142.5 L430.0,141.2 L430.5,139.7 L431.0,138.1 L431.5,136.2 L432.0,134.2 L432.5,132.0 L433.0,129.6 L433.5,127.2 L434.0,124.7 L434.5,122.3 L435.0,120.0 L435.5,117.8 L436.0,116.0 L436.5,114.5 L437.0,113.4 L437.5,112.8 L438.0,112.6 L438.5,113.0 L439.0,113.8 L439.5,115.0 L440.0,116.5 L440.5,118.3 L441.0,120.3 L441.5,122.4 L442.0,124.5 L442.5,126.5 L443.0,128.5 L443.5,130.4 L444.0,132.1 L444.5,133.6 L445.0,134.9 L445.5,136.0 L446.0,136.9 L446.5,137.7 L447.0,138.3 L447.5,138.7 L448.0,139.0 L448.5,139.3 L449.0,139.4 L449.5,139.5 L450.0,139.5 L450.5,139.5 L451.0,139.5 L451.5,139.5 L452.0,139.4 L452.5,139.3 L453.0,139.2" fill="none" stroke="#20b0a8" stroke-width="0.8"/>
<path d="M326.0,180.2 L326.5,179.9 L327.0,179.7 L327.5,179.4 L328.0,179.2 L328.5,178.9 L329.0,178.7 L329.5,178.4 L330.0,178.2 L330.5,177.9 L331.0,177.7 L331.5,177.4 L332.0,177.2 L332.5,176.9 L333.0,176.6 L333.5,176.4 L334.0,176.1 L334.5,175.9 L335.0,175.6 L335.5,175.4 L336.0,175.2 L336.5,175.0 L337.0,174.8 L337.5,174.6 L338.0,174.4 L338.5,174.2 L339.0,174.0 L339.5,173.8 L340.0,173.5 L340.5,173.3 L341.0,173.1 L341.5,172.9 L342.0,172.7 L342.5,172.5 L343.0,172.3 L343.5,172.1 L344.0,171.9 L344.5,171.7 L345.0,171.5 L345.5,171.4 L346.0,171.2 L346.5,171.0 L347.0,170.8 L347.5,170.7 L348.0,170.5 L348.5,170.3 L349.0,170.1 L349.5,170.0 L350.0,169.8 L350.5,169.6 L351.0,169.5 L351.5,169.3 L352.0,169.1 L352.5,168.9 L353.0,168.8 L353.5,168.6 L354.0,168.4 L354.5,168.2 L355.0,168.1 L355.5,168.0 L356.0,167.8 L356.5,167.7 L357.0,167.6 L357.5,167.5 L358.0,167.4 L358.5,167.3 L359.0,167.1 L359.5,167.0 L360.0,166.9 L360.5,166.8 L361.0,166.7 L361.5,166.6 L362.0,166.4 L362.5,166.3 L363.0,166.2 L363.5,166.1 L364.0,166.0 L364.5,165.9 L365.0,165.7 L365.5,165.7 L366.0,165.6 L366.5,165.5 L367.0,165.4 L367.5,165.4 L368.0,165.3 L368.5,165.2 L369.0,165.1 L369.5,165.0 L370.0,165.0 L370.5,164.9 L371.0,164.8 L371.5,164.7 L372.0,164.7 L372.5,164.6 L373.0,164.5 L373.5,164.4 L374.0,164.3 L374.5,164.3 L375.0,164.2 L375.5,164.0 L376.0,163.9 L376.5,163.8 L377.0,163.7 L377.5,163.5 L378.0,163.4 L378.5,163.3 L379.0,163.2 L379.5,163.0 L380.0,162.9 L380.5,162.8 L381.0,162.7 L381.5,162.5 L382.0,162.4 L382.5,162.3 L383.0,162.1 L383.5,162.0 L384.0,161.9 L384.5,161.7 L385.0,161.6 L385.5,161.4 L386.0,161.3 L386.5,161.1 L387.0,160.9 L387.5,160.7 L388.0,160.5 L388.5,160.3 L389.0,160.2 L389.5,160.0 L390.0,159.8 L390.5,159.6 L391.0,159.4 L391.5,159.2 L392.0,159.1 L392.5,158.9 L393.0,158.7 L393.5,158.5 L394.0,158.3 L394.5,158.1 L395.0,157.9 L395.5,157.7 L396.0,157.6 L396.5,157.4 L397.0,157.2 L397.5,157.0 L398.0,156.8 L398.5,156.6 L399.0,156.4 L399.5,156.2 L400.0,156.0 L400.5,155.9 L401.0,155.7 L401.5,155.5 L402.0,155.3 L402.5,155.1 L403.0,154.9 L403.5,154.7 L404.0,154.5 L404.5,154.3 L405.0,154.1 L405.5,153.8 L406.0,153.6 L406.5,153.4 L407.0,153.1 L407.5,152.9 L408.0,152.7 L408.5,152.4 L409.0,152.2 L409.5,151.9 L410.0,151.7 L410.5,151.4 L411.0,151.2 L411.5,150.9 L412.0,150.7 L412.5,150.4 L413.0,150.2 L413.5,149.9 L414.0,149.6 L414.5,149.4 L415.0,149.1 L415.5,148.8 L416.0,148.5 L416.5,148.3 L417.0,148.0 L417.5,147.7 L418.0,147.4 L418.5,147.1 L419.0,146.8 L419.5,146.5 L420.0,146.2 L420.5,145.9 L421.0,145.6 L421.5,145.2 L422.0,144.9 L422.5,144.6 L423.0,144.2 L423.5,143.9 L424.0,143.5 L424.5,143.2 L425.0,142.8 L425.5,142.4 L426.0,142.0 L426.5,141.6 L427.0,141.2 L427.5,140.8 L428.0,140.4 L428.5,139.9 L429.0,139.5 L429.5,139.0 L430.0,138.5 L430.5,138.0 L431.0,137.5 L431.5,136.9 L432.0,136.4 L432.5,135.8 L433.0,135.1 L433.5,134.5 L434.0,133.8 L434.5,133.1 L435.0,132.4 L435.5,131.6 L436.0,130.8 L436.5,129.9 L437.0,129.0 L437.5,128.1 L438.0,127.1 L438.5,126.0 L439.0,124.8 L439.5,123.6 L440.0,122.3 L440.5,121.0 L441.0,119.5 L441.5,117.9 L442.0,116.2 L442.5,114.4 L443.0,112.5 L443.5,110.5 L444.0,108.4 L444.5,106.0 L445.0,103.6 L445.5,100.9 L446.0,98.1 L446.5,95.0 L447.0,91.8 L447.5,88.5 L448.0,84.9 L448.5,81.3 L449.0,77.5 L449.5,73.7 L450.0,69.9 L450.5,66.2 L451.0,62.7 L451.5,59.6 L452.0,56.8 L452.5,54.6 L453.0,52.9 L453.5,52.0 L454.0,51.8 L454.5,52.1 L455.0,53.0 L455.5,54.3 L456.0,56.0 L456.5,58.1 L457.0,60.6 L457.5,63.2 L458.0,66.1 L458.5,69.1 L459.0,72.2 L459.5,75.3 L460.0,78.5 L460.5,81.5 L461.0,84.6 L461.5,87.5 L462.0,90.4 L462.5,93.1 L463.0,95.7 L463.5,98.2 L464.0,100.6 L464.5,102.8 L465.0,104.9 L465.5,106.8 L466.0,108.6 L466.5,110.2 L467.0,111.7 L467.5,113.1 L468.0,114.3 L468.5,115.5 L469.0,116.6 L469.5,117.5 L470.0,118.4 L470.5,119.2 L471.0,119.9 L471.5,120.5 L472.0,121.1 L472.5,121.6 L473.0,122.0 L473.5,122.4 L474.0,122.8 L474.5,123.1 L475.0,123.4 L475.5,123.6 L476.0,123.8 L476.5,124.0 L477.0,124.1 L477.5,124.3 L478.0,124.4 L478.5,124.4 L479.0,124.5 L479.5,124.6 L480.0,124.6 L480.5,124.6 L481.0,124.6 L481.5,124.6 L482.0,124.6 L482.5,124.6 L483.0,124.6 L483.5,124.5 L484.0,124.5 L484.5,124.4 L485.0,124.4 L485.5,124.3 L486.0,124.3 L486.5,124.2 L487.0,124.1 L487.5,124.0 L488.0,123.9 L488.5,123.9 L489.0,123.8 L489.5,123.7 L490.0,123.6 L490.5,123.5 L491.0,123.4 L491.5,123.3 L492.0,123.2 L492.5,123.1 L493.0,123.0 L493.5,122.9 L494.0,122.7 L494.5,122.6 L495.0,122.5 L495.5,122.4 L496.0,122.3 L496.5,122.1 L497.0,122.0 L497.5,121.9 L498.0,121.7 L498.5,121.6 L499.0,121.5 L499.5,121.3 L500.0,121.2 L500.5,121.1 L501.0,120.9 L501.5,120.8 L502.0,120.6 L502.5,120.5 L503.0,120.3 L503.5,120.2 L504.0,120.1 L504.5,119.9 L505.0,119.8 L505.5,119.6 L506.0,119.5 L506.5,119.3 L507.0,119.1 L507.5,119.0 L508.0,118.8 L508.5,118.7 L509.0,118.5 L509.5,118.4 L510.0,118.2 L510.5,118.1 L511.0,117.9 L511.5,117.7 L512.0,117.6 L512.5,117.4 L513.0,117.2 L513.5,117.1 L514.0,116.9 L514.5,116.7 L515.0,116.5 L515.5,116.4 L516.0,116.2 L516.5,116.0 L517.0,115.9 L517.5,115.7 L518.0,115.5 L518.5,115.3 L519.0,115.2 L519.5,115.0 L520.0,114.8 L520.5,114.6 L521.0,114.5 L521.5,114.3 L522.0,114.1 L522.5,113.9 L523.0,113.8 L523.5,113.6 L524.0,113.4 L524.5,113.2 L525.0,113.0 L525.5,112.9 L526.0,112.7 L526.5,112.5 L527.0,112.3 L527.5,112.2 L528.0,112.0 L528.5,111.8 L529.0,111.6 L529.5,111.4 L530.0,111.3 L530.5,111.1 L531.0,110.9 L531.5,110.7 L532.0,110.5 L532.5,110.4 L533.0,110.2 L533.5,110.0 L534.0,109.8 L534.5,109.6 L535.0,109.4 L535.5,109.3 L536.0,109.1 L536.5,108.9 L537.0,108.7 L537.5,108.5 L538.0,108.3 L538.5,108.2 L539.0,108.0 L539.5,107.8" fill="none" stroke="#f0a018" stroke-width="0.8"/>
<path d="M475.5,132.2 L476.0,132.0 L476.5,131.8 L477.0,131.6 L477.5,131.3 L478.0,131.1 L478.5,130.9 L479.0,130.6 L479.5,130.4 L480.0,130.2 L480.5,129.9 L481.0,129.7 L481.5,129.4 L482.0,129.2 L482.5,128.9 L483.0,128.6 L483.5,128.4 L484.0,128.1 L484.5,127.8 L485.0,127.6 L485.5,127.3 L486.0,127.0 L486.5,126.7 L487.0,126.4 L487.5,126.1 L488.0,125.8 L488.5,125.5 L489.0,125.2 L489.5,124.9 L490.0,124.6 L490.5,124.3 L491.0,124.0 L491.5,123.7 L492.0,123.4 L492.5,123.0 L493.0,122.7 L493.5,122.4 L494.0,122.1 L494.5,121.7 L495.0,121.4 L495.5,121.1 L496.0,120.7 L496.5,120.4 L497.0,120.0 L497.5,119.7 L498.0,119.4 L498.5,119.0 L499.0,118.7 L499.5,118.3 L500.0,118.0 L500.5,117.7 L501.0,117.3 L501.5,117.0 L502.0,116.7 L502.5,116.4 L503.0,116.0 L503.5,115.7 L504.0,115.4 L504.5,115.1 L505.0,114.8 L505.5,114.5 L506.0,114.2 L506.5,114.0 L507.0,113.7 L507.5,113.4 L508.0,113.2 L508.5,112.9 L509.0,112.7 L509.5,112.5 L510.0,112.2 L510.5,112.0 L511.0,111.8 L511.5,111.6 L512.0,111.4 L512.5,111.2 L513.0,111.1 L513.5,110.9 L514.0,110.7 L514.5,110.6 L515.0,110.4 L515.5,110.3 L516.0,110.2 L516.5,110.1 L517.0,109.9 L517.5,109.8 L518.0,109.8 L518.5,109.7 L519.0,109.6 L519.5,109.5 L520.0,109.4 L520.5,109.4 L521.0,109.3 L521.5,109.3 L522.0,109.2 L522.5,109.2 L523.0,109.1 L523.5,109.1 L524.0,109.0 L524.5,109.0 L525.0,109.0 L525.5,108.9 L526.0,108.9 L526.5,108.9 L527.0,108.8 L527.5,108.8 L528.0,108.8 L528.5,108.7 L529.0,108.7 L529.5,108.6 L530.0,108.6 L530.5,108.6 L531.0,108.5 L531.5,108.5 L532.0,108.4 L532.5,108.4 L533.0,108.3 L533.5,108.2 L534.0,108.2 L534.5,108.1 L535.0,108.0 L535.5,108.0 L536.0,107.9 L536.5,107.8 L537.0,107.7 L537.5,107.6 L538.0,107.5 L538.5,107.4 L539.0,107.3 L539.5,107.2" fill="none" stroke="#b040c0" stroke-width="0.8"/>
<path d="M326.0,180.5 L326.5,180.2 L327.0,180.0 L327.5,179.8 L328.0,179.5 L328.5,179.2 L329.0,179.0 L329.5,178.8 L330.0,178.5 L330.5,178.2 L331.0,178.0 L331.5,177.8 L332.0,177.5 L332.5,177.2 L333.0,177.0 L333.5,176.8 L334.0,176.5 L334.5,176.2 L335.0,176.0 L335.5,175.8 L336.0,175.6 L336.5,175.4 L337.0,175.2 L337.5,175.0 L338.0,174.8 L338.5,174.6 L339.0,174.4 L339.5,174.2 L340.0,173.9 L340.5,173.7 L341.0,173.5 L341.5,173.3 L342.0,173.1 L342.5,172.9 L343.0,172.7 L343.5,172.5 L344.0,172.3 L344.5,172.1 L345.0,172.0 L345.5,171.8 L346.0,171.6 L346.5,171.5 L347.0,171.3 L347.5,171.1 L348.0,171.0 L348.5,170.8 L349.0,170.6 L349.5,170.4 L350.0,170.3 L350.5,170.1 L351.0,169.9 L351.5,169.8 L352.0,169.6 L352.5,169.4 L353.0,169.3 L353.5,169.1 L354.0,168.9 L354.5,168.8 L355.0,168.6 L355.5,168.5 L356.0,168.4 L356.5,168.3 L357.0,168.2 L357.5,168.1 L358.0,167.9 L358.5,167.8 L359.0,167.7 L359.5,167.6 L360.0,167.5 L360.5,167.4 L361.0,167.3 L361.5,167.2 L362.0,167.1 L362.5,166.9 L363.0,166.8 L363.5,166.7 L364.0,166.6 L364.5,166.5 L365.0,166.4 L365.5,166.3 L366.0,166.3 L366.5,166.2 L367.0,166.1 L367.5,166.1 L368.0,166.0 L368.5,165.9 L369.0,165.8 L369.5,165.8 L370.0,165.7 L370.5,165.6 L371.0,165.6 L371.5,165.5 L372.0,165.4 L372.5,165.3 L373.0,165.3 L373.5,165.2 L374.0,165.1 L374.5,165.1 L375.0,165.0 L375.5,164.9 L376.0,164.8 L376.5,164.7 L377.0,164.5 L377.5,164.4 L378.0,164.3 L378.5,164.2 L379.0,164.1 L379.5,164.0 L380.0,163.8 L380.5,163.7 L381.0,163.6 L381.5,163.5 L382.0,163.4 L382.5,163.3 L383.0,163.2 L383.5,163.0 L384.0,162.9 L384.5,162.8 L385.0,162.7 L385.5,162.5 L386.0,162.4 L386.5,162.2 L387.0,162.0 L387.5,161.9 L388.0,161.7 L388.5,161.5 L389.0,161.4 L389.5,161.2 L390.0,161.1 L390.5,160.9 L391.0,160.7 L391.5,160.6 L392.0,160.4 L392.5,160.2 L393.0,160.1 L393.5,159.9 L394.0,159.7 L394.5,159.6 L395.0,159.4 L395.5,159.2 L396.0,159.1 L396.5,158.9 L397.0,158.8 L397.5,158.6 L398.0,158.4 L398.5,158.3 L399.0,158.1 L399.5,158.0 L400.0,157.8 L400.5,157.6 L401.0,157.5 L401.5,157.3 L402.0,157.2 L402.5,157.0 L403.0,156.8 L403.5,156.7 L404.0,156.5 L404.5,156.4 L405.0,156.2 L405.5,156.0 L406.0,155.8 L406.5,155.6 L407.0,155.4 L407.5,155.2 L408.0,155.1 L408.5,154.9 L409.0,154.7 L409.5,154.5 L410.0,154.3 L410.5,154.1 L411.0,153.9 L411.5,153.7 L412.0,153.5 L412.5,153.3 L413.0,153.2 L413.5,153.0 L414.0,152.8 L414.5,152.6 L415.0,152.4 L415.5,152.2 L416.0,152.0 L416.5,151.8 L417.0,151.6 L417.5,151.4 L418.0,151.3 L418.5,151.1 L419.0,150.9 L419.5,150.7 L420.0,150.5 L420.5,150.3 L421.0,150.1 L421.5,149.9 L422.0,149.8 L422.5,149.6 L423.0,149.4 L423.5,149.2 L424.0,149.0 L424.5,148.8 L425.0,148.7" fill="none" stroke="#20d0d0" stroke-width="1"/>
<path d="M425.5,148.5 L426.0,148.3 L426.5,148.1 L427.0,147.9 L427.5,147.7 L428.0,147.5 L428.5,147.4 L429.0,147.2 L429.5,147.0 L430.0,146.8 L430.5,146.6 L431.0,146.4 L431.5,146.2 L432.0,146.1 L432.5,145.9 L433.0,145.7 L433.5,145.5 L434.0,145.3 L434.5,145.1 L435.0,145.0 L435.5,144.8 L436.0,144.6 L436.5,144.4 L437.0,144.2 L437.5,144.0 L438.0,143.8 L438.5,143.7 L439.0,143.5 L439.5,143.3 L440.0,143.1 L440.5,142.9 L441.0,142.7 L441.5,142.6 L442.0,142.4 L442.5,142.2 L443.0,142.0 L443.5,141.9 L444.0,141.8 L444.5,141.6 L445.0,141.5 L445.5,141.4 L446.0,141.3 L446.5,141.1 L447.0,141.0 L447.5,140.9 L448.0,140.8 L448.5,140.6 L449.0,140.5 L449.5,140.4 L450.0,140.3 L450.5,140.1 L451.0,140.0 L451.5,139.9 L452.0,139.8 L452.5,139.6 L453.0,139.5 L453.5,139.4 L454.0,139.3 L454.5,139.1 L455.0,139.0 L455.5,138.9 L456.0,138.8 L456.5,138.6 L457.0,138.5 L457.5,138.4 L458.0,138.3 L458.5,138.1 L459.0,138.0 L459.5,137.9 L460.0,137.8 L460.5,137.6 L461.0,137.5 L461.5,137.4 L462.0,137.3 L462.5,137.1 L463.0,137.0 L463.5,136.9 L464.0,136.8 L464.5,136.6 L465.0,136.5 L465.5,136.4 L466.0,136.2 L466.5,136.0 L467.0,135.8 L467.5,135.6 L468.0,135.4 L468.5,135.2 L469.0,135.0 L469.5,134.9 L470.0,134.7 L470.5,134.5 L471.0,134.3 L471.5,134.1 L472.0,133.9 L472.5,133.7 L473.0,133.5 L473.5,133.3 L474.0,133.1 L474.5,132.9 L475.0,132.7 L475.5,132.5 L476.0,132.3 L476.5,132.1 L477.0,132.0 L477.5,131.8 L478.0,131.6 L478.5,131.4 L479.0,131.2 L479.5,131.0 L480.0,130.8 L480.5,130.6 L481.0,130.4 L481.5,130.2 L482.0,130.0 L482.5,129.8 L483.0,129.6 L483.5,129.4 L484.0,129.2 L484.5,129.1 L485.0,128.9 L485.5,128.7 L486.0,128.5 L486.5,128.3 L487.0,128.1 L487.5,127.9 L488.0,127.7 L488.5,127.5 L489.0,127.3 L489.5,127.2 L490.0,127.0 L490.5,126.8 L491.0,126.6 L491.5,126.4 L492.0,126.2 L492.5,126.1 L493.0,125.9 L493.5,125.7 L494.0,125.5 L494.5,125.3 L495.0,125.1 L495.5,125.0 L496.0,124.8 L496.5,124.6 L497.0,124.4 L497.5,124.2 L498.0,124.0 L498.5,123.9 L499.0,123.7 L499.5,123.5 L500.0,123.3 L500.5,123.1 L501.0,123.0 L501.5,122.8 L502.0,122.6 L502.5,122.4 L503.0,122.2 L503.5,122.0 L504.0,121.9 L504.5,121.7 L505.0,121.5 L505.5,121.3 L506.0,121.1 L506.5,120.9 L507.0,120.8 L507.5,120.6 L508.0,120.4 L508.5,120.2 L509.0,120.0 L509.5,119.8 L510.0,119.7 L510.5,119.5 L511.0,119.3 L511.5,119.1 L512.0,118.9 L512.5,118.7 L513.0,118.5 L513.5,118.3 L514.0,118.2 L514.5,118.0 L515.0,117.8 L515.5,117.6 L516.0,117.4 L516.5,117.2 L517.0,117.0 L517.5,116.8 L518.0,116.6 L518.5,116.4 L519.0,116.2 L519.5,116.1 L520.0,115.9 L520.5,115.7 L521.0,115.5 L521.5,115.3 L522.0,115.1 L522.5,114.9 L523.0,114.7 L523.5,114.5 L524.0,114.3 L524.5,114.2 L525.0,114.0 L525.5,113.8 L526.0,113.6 L526.5,113.4 L527.0,113.2 L527.5,113.0 L528.0,112.8 L528.5,112.6 L529.0,112.4 L529.5,112.2 L530.0,112.1 L530.5,111.9 L531.0,111.7 L531.5,111.5 L532.0,111.3 L532.5,111.1 L533.0,110.9 L533.5,110.7 L534.0,110.5 L534.5,110.3 L535.0,110.1 L535.5,110.0 L536.0,109.8 L536.5,109.6 L537.0,109.4 L537.5,109.2 L538.0,109.0 L538.5,108.8 L539.0,108.6 L539.5,108.5" fill="none" stroke="#9048a8" stroke-width="1"/>
<path d="M307.2,181.1 L307.8,180.8 L308.4,180.5 L309.0,180.4 L309.6,180.6 L310.2,180.8 L310.8,181.3 L311.4,181.8 L312.0,182.0 L312.6,181.9 L313.2,181.8 L313.8,181.5 L314.4,181.1 L315.0,180.9 L315.6,180.8 L316.2,180.6 L316.8,180.6 L317.4,180.7 L318.0,181.0 L318.6,181.6 L319.2,182.3 L319.8,181.3 L320.4,180.4 L321.0,180.4 L321.6,181.2 L322.2,182.0 L322.8,182.0 L323.4,181.9 L324.0,181.6 L324.6,180.9 L325.2,180.3 L325.8,180.4 L326.4,180.2 L327.0,180.2 L327.6,180.8 L328.2,181.3 L328.8,181.5 L329.4,181.7 L330.0,181.9 L330.6,181.4 L331.2,180.9 L331.8,180.9 L332.4,180.9 L333.0,180.7 L333.6,180.2 L334.2,179.8 L334.8,179.6 L335.4,179.5 L336.0,179.2 L336.6,178.7 L337.2,178.2 L337.8,177.7 L338.4,177.2 L339.0,177.0 L339.6,176.9 L340.2,176.7 L340.8,175.8 L341.4,174.9 L342.0,174.2 L342.6,173.5 L343.2,172.6 L343.8,171.6 L344.4,170.5 L345.0,169.0 L345.6,167.2 L346.2,165.2 L346.8,163.0 L347.4,160.5 L348.0,157.8 L348.6,154.7 L349.2,151.3 L349.8,147.6 L350.4,143.8 L351.0,139.9 L351.6,135.9 L352.2,131.7 L352.8,127.5 L353.4,123.3 L354.0,119.3 L354.6,115.5 L355.2,112.1 L355.8,109.0 L356.4,106.4 L357.0,104.2 L357.6,103.2 L358.2,102.8 L358.8,103.3 L359.4,104.5 L360.0,105.3 L360.6,106.2 L361.2,106.2 L361.8,106.1 L362.4,105.6 L363.0,104.9 L363.6,104.2 L364.2,102.5 L364.8,99.8 L365.4,96.4 L366.0,92.4 L366.6,88.3 L367.2,83.7 L367.8,78.7 L368.4,73.4 L369.0,67.8 L369.6,62.1 L370.2,56.6 L370.8,51.4 L371.4,46.6 L372.0,42.4 L372.6,39.1 L373.2,36.6 L373.8,35.0 L374.4,33.7 L375.0,34.9 L375.6,36.3 L376.2,38.3 L376.8,40.8 L377.4,43.9 L378.0,47.7 L378.6,52.1 L379.2,56.9 L379.8,62.1 L380.4,67.6 L381.0,73.3 L381.6,79.1 L382.2,85.0 L382.8,91.0 L383.4,96.8 L384.0,102.5 L384.6,108.0 L385.2,113.3 L385.8,118.3 L386.4,123.1 L387.0,127.6 L387.6,131.6 L388.2,135.3 L388.8,138.7 L389.4,141.8 L390.0,144.5 L390.6,147.0 L391.2,149.3 L391.8,151.0 L392.4,152.3 L393.0,153.5 L393.6,154.5 L394.2,155.5 L394.8,156.0 L395.4,156.3 L396.0,156.5 L396.6,156.8 L397.2,156.9 L397.8,157.4 L398.4,158.0 L399.0,158.3 L399.6,158.3 L400.2,158.3 L400.8,157.8 L401.4,157.3 L402.0,156.8 L402.6,156.3 L403.2,155.9 L403.8,156.3 L404.4,156.6 L405.0,156.4 L405.6,155.6 L406.2,154.8 L406.8,154.7 L407.4,154.6 L408.0,154.5 L408.6,154.2 L409.2,154.0 L409.8,153.9 L410.4,153.7 L411.0,153.4 L411.6,152.9 L412.2,152.4 L412.8,151.9 L413.4,151.3 L414.0,150.8 L414.6,150.2 L415.2,149.7 L415.8,149.6 L416.4,149.5 L417.0,149.2 L417.6,148.9 L418.2,148.5 L418.8,148.2 L419.4,147.8 L420.0,147.4 L420.6,146.9 L421.2,146.4 L421.8,145.7 L422.4,145.0 L423.0,144.5 L423.6,144.2 L424.2,143.7 L424.8,143.3 L425.4,142.8 L426.0,142.1 L426.6,141.4 L427.2,140.5 L427.8,139.5 L428.4,138.4 L429.0,137.0 L429.6,135.2 L430.2,133.1 L430.8,130.8 L431.4,128.2 L432.0,125.2 L432.6,121.9 L433.2,118.4 L433.8,114.9 L434.4,111.3 L435.0,107.7 L435.6,104.4 L436.2,101.4 L436.8,98.9 L437.4,97.2 L438.0,96.0 L438.6,95.4 L439.2,95.1 L439.8,96.0 L440.4,96.9 L441.0,98.0 L441.6,98.9 L442.2,99.7 L442.8,99.9 L443.4,99.5 L444.0,99.1 L444.6,98.3 L445.2,96.8 L445.8,94.7 L446.4,92.1 L447.0,89.1 L447.6,85.6 L448.2,81.8 L448.8,77.8 L449.4,73.6 L450.0,69.2 L450.6,64.9 L451.2,60.9 L451.8,57.5 L452.4,54.7 L453.0,52.7 L453.6,51.5 L454.2,51.1 L454.8,52.1 L455.4,53.5 L456.0,55.3 L456.6,57.8 L457.2,60.6 L457.8,63.8 L458.4,67.2 L459.0,70.8 L459.6,74.4 L460.2,78.1 L460.8,81.5 L461.4,84.8 L462.0,88.0 L462.6,91.1 L463.2,93.9 L463.8,96.6 L464.4,98.9 L465.0,100.9 L465.6,102.6 L466.2,104.1 L466.8,105.5 L467.4,106.8 L468.0,107.9 L468.6,109.7 L469.2,111.4 L469.8,112.8 L470.4,114.1 L471.0,115.3 L471.6,116.6 L472.2,117.7 L472.8,118.1 L473.4,118.5 L474.0,119.0 L474.6,119.5 L475.2,120.1 L475.8,120.0 L476.4,119.7 L477.0,119.8 L477.6,120.2 L478.2,120.7 L478.8,121.0 L479.4,121.3 L480.0,121.5 L480.6,121.5 L481.2,121.4 L481.8,120.8 L482.4,120.2 L483.0,120.2 L483.6,120.7 L484.2,121.2 L484.8,120.6 L485.4,120.1 L486.0,120.0 L486.6,120.3 L487.2,120.5 L487.8,120.1 L488.4,119.8 L489.0,119.4 L489.6,119.0 L490.2,118.7 L490.8,118.8 L491.4,119.0 L492.0,119.0 L492.6,118.8 L493.2,118.6 L493.8,118.3 L494.4,118.1 L495.0,117.9 L495.6,117.8 L496.2,117.7 L496.8,117.1 L497.4,116.4 L498.0,116.0 L498.6,115.7 L499.2,115.5 L499.8,115.2 L500.4,114.9 L501.0,114.7 L501.6,114.7 L502.2,114.6 L502.8,114.3 L503.4,114.0 L504.0,113.7 L504.6,113.4 L505.2,113.1 L505.8,112.9 L506.4,113.0 L507.0,113.1 L507.6,113.1 L508.2,113.1 L508.8,113.0 L509.4,113.0 L510.0,113.2 L510.6,113.6 L511.2,114.0 L511.8,114.1 L512.4,114.1 L513.0,114.2 L513.6,114.5 L514.2,114.8 L514.8,115.3 L515.4,115.5 L516.0,115.1 L516.6,114.3 L517.2,113.5 L517.8,113.6 L518.4,113.6 L519.0,113.5 L519.6,113.3 L520.2,113.1 L520.8,112.5 L521.4,112.0 L522.0,111.7 L522.6,111.7 L523.2,111.7 L523.8,111.9 L524.4,112.1 L525.0,111.9 L525.6,111.3 L526.2,110.6 L526.8,110.7 L527.4,110.9 L528.0,110.9 L528.6,110.9 L529.2,110.8 L529.8,110.3 L530.4,109.7 L531.0,109.6 L531.6,109.9 L532.2,110.2 L532.8,109.8 L533.4,109.3 L534.0,109.0 L534.6,108.7 L535.2,108.4 L535.8,108.4 L536.4,108.4 L537.0,108.1 L537.6,107.7 L538.2,107.3 L538.8,107.3 L539.4,107.4" fill="none" stroke="#2a2a2a" stroke-width="0.9"/>
<path d="M326.0,180.2 L326.5,179.9 L327.0,179.7 L327.5,179.4 L328.0,179.2 L328.5,178.9 L329.0,178.7 L329.5,178.4 L330.0,178.2 L330.5,177.9 L331.0,177.7 L331.5,177.4 L332.0,177.1 L332.5,176.9 L333.0,176.6 L333.5,176.4 L334.0,176.1 L334.5,175.9 L335.0,175.6 L335.5,175.4 L336.0,175.2 L336.5,174.9 L337.0,174.7 L337.5,174.5 L338.0,174.2 L338.5,174.0 L339.0,173.7 L339.5,173.4 L340.0,173.1 L340.5,172.7 L341.0,172.4 L341.5,171.9 L342.0,171.5 L342.5,170.9 L343.0,170.3 L343.5,169.6 L344.0,168.7 L344.5,167.8 L345.0,166.8 L345.5,165.6 L346.0,164.2 L346.5,162.7 L347.0,161.0 L347.5,159.1 L348.0,156.9 L348.5,154.6 L349.0,152.0 L349.5,149.3 L350.0,146.3 L350.5,143.2 L351.0,139.9 L351.5,136.5 L352.0,133.1 L352.5,129.6 L353.0,126.1 L353.5,122.6 L354.0,119.3 L354.5,116.1 L355.0,113.2 L355.5,110.5 L356.0,108.1 L356.5,106.1 L357.0,104.3 L357.5,102.9 L358.0,101.8 L358.5,101.3 L359.0,101.1 L359.5,101.2 L360.0,101.5 L360.5,102.1 L361.0,102.8 L361.5,103.4 L362.0,104.0 L362.5,104.3 L363.0,104.3 L363.5,104.0 L364.0,103.4 L364.5,101.3 L365.0,98.8 L365.5,95.8 L366.0,92.4 L366.5,89.1 L367.0,85.4 L367.5,81.3 L368.0,76.9 L368.5,72.4 L369.0,67.8 L369.5,63.1 L370.0,58.4 L370.5,53.9 L371.0,49.7 L371.5,45.8 L372.0,42.4 L372.5,39.5 L373.0,37.2 L373.5,35.6 L374.0,34.7 L374.5,34.6 L375.0,35.1 L375.5,36.0 L376.0,37.4 L376.5,39.3 L377.0,41.7 L377.5,44.5 L378.0,47.7 L378.5,51.3 L379.0,55.2 L379.5,59.4 L380.0,63.8 L380.5,68.5 L381.0,73.3 L381.5,78.2 L382.0,83.1 L382.5,88.1 L383.0,93.0 L383.5,97.8 L384.0,102.6 L384.5,107.1 L385.0,111.6 L385.5,115.8 L386.0,119.8 L386.5,123.5 L387.0,127.0 L387.5,130.3 L388.0,133.4 L388.5,136.2 L389.0,138.8 L389.5,141.1 L390.0,143.2 L390.5,145.1 L391.0,146.8 L391.5,148.2 L392.0,149.6 L392.5,150.7 L393.0,151.7 L393.5,152.5 L394.0,153.2 L394.5,153.8 L395.0,154.3 L395.5,154.7 L396.0,155.0 L396.5,155.2 L397.0,155.4 L397.5,155.5 L398.0,155.6 L398.5,155.6 L399.0,155.6 L399.5,155.6 L400.0,155.5 L400.5,155.4 L401.0,155.3 L401.5,155.1 L402.0,155.0 L402.5,154.8 L403.0,154.7 L403.5,154.5 L404.0,154.3 L404.5,154.2 L405.0,154.0 L405.5,153.7 L406.0,153.5 L406.5,153.3 L407.0,153.0 L407.5,152.8 L408.0,152.6 L408.5,152.3 L409.0,152.1 L409.5,151.8 L410.0,151.6 L410.5,151.3 L411.0,151.1 L411.5,150.8 L412.0,150.6 L412.5,150.3 L413.0,150.0 L413.5,149.8 L414.0,149.5 L414.5,149.2 L415.0,149.0 L415.5,148.7 L416.0,148.4 L416.5,148.1 L417.0,147.8 L417.5,147.5 L418.0,147.2 L418.5,146.9 L419.0,146.6 L419.5,146.3 L420.0,146.0 L420.5,145.6 L421.0,145.3 L421.5,145.0 L422.0,144.6 L422.5,144.3 L423.0,143.9 L423.5,143.5 L424.0,143.1 L424.5,142.7 L425.0,142.2 L425.5,141.7 L426.0,141.1 L426.5,140.5 L427.0,139.8 L427.5,139.0 L428.0,138.1 L428.5,137.1 L429.0,135.9 L429.5,134.5 L430.0,132.9 L430.5,131.1 L431.0,129.1 L431.5,126.9 L432.0,124.5 L432.5,121.8 L433.0,119.1 L433.5,116.2 L434.0,113.2 L434.5,110.3 L435.0,107.4 L435.5,104.7 L436.0,102.2 L436.5,100.0 L437.0,98.2 L437.5,96.8 L438.0,95.8 L438.5,95.3 L439.0,95.1 L439.5,95.3 L440.0,95.8 L440.5,96.4 L441.0,97.1 L441.5,97.8 L442.0,98.4 L442.5,98.8 L443.0,99.0 L443.5,99.0 L444.0,98.7 L444.5,98.0 L445.0,96.9 L445.5,95.5 L446.0,93.7 L446.5,91.6 L447.0,89.1 L447.5,86.3 L448.0,83.2 L448.5,79.9 L449.0,76.4 L449.5,72.8 L450.0,69.2 L450.5,65.6 L451.0,62.2 L451.5,59.1 L452.0,56.4 L452.5,54.2 L453.0,52.6 L453.5,51.7 L454.0,51.5 L454.5,51.9 L455.0,52.8 L455.5,54.1 L456.0,55.8 L456.5,57.9 L457.0,60.4 L457.5,63.1 L458.0,65.9 L458.5,69.0 L459.0,72.0 L459.5,75.2 L460.0,78.3 L460.5,81.4 L461.0,84.4 L461.5,87.4 L462.0,90.3 L462.5,93.0 L463.0,95.6 L463.5,98.1 L464.0,100.5 L464.5,102.7 L465.0,104.8 L465.5,106.7 L466.0,108.5 L466.5,110.1 L467.0,111.6 L467.5,113.0 L468.0,114.2 L468.5,115.4 L469.0,116.4 L469.5,117.4 L470.0,118.3 L470.5,119.0 L471.0,119.7 L471.5,120.4 L472.0,120.9 L472.5,121.4 L473.0,121.9 L473.5,122.2 L474.0,122.6 L474.5,122.9 L475.0,123.1 L475.5,123.4 L476.0,123.6 L476.5,123.7 L477.0,123.8 L477.5,123.9 L478.0,124.0 L478.5,124.1 L479.0,124.1 L479.5,124.2 L480.0,124.2 L480.5,124.2 L481.0,124.1 L481.5,124.1 L482.0,124.1 L482.5,124.0 L483.0,123.9 L483.5,123.9 L484.0,123.8 L484.5,123.7 L485.0,123.6 L485.5,123.5 L486.0,123.3 L486.5,123.2 L487.0,123.1 L487.5,122.9 L488.0,122.8 L488.5,122.6 L489.0,122.5 L489.5,122.3 L490.0,122.2 L490.5,122.0 L491.0,121.8 L491.5,121.6 L492.0,121.4 L492.5,121.2 L493.0,121.1 L493.5,120.9 L494.0,120.6 L494.5,120.4 L495.0,120.2 L495.5,120.0 L496.0,119.8 L496.5,119.6 L497.0,119.4 L497.5,119.1 L498.0,118.9 L498.5,118.7 L499.0,118.5 L499.5,118.2 L500.0,118.0 L500.5,117.8 L501.0,117.5 L501.5,117.3 L502.0,117.1 L502.5,116.8 L503.0,116.6 L503.5,116.4 L504.0,116.2 L504.5,116.0 L505.0,115.7 L505.5,115.5 L506.0,115.3 L506.5,115.1 L507.0,114.9 L507.5,114.7 L508.0,114.5 L508.5,114.3 L509.0,114.1 L509.5,113.9 L510.0,113.7 L510.5,113.6 L511.0,113.4 L511.5,113.2 L512.0,113.1 L512.5,112.9 L513.0,112.7 L513.5,112.6 L514.0,112.4 L514.5,112.3 L515.0,112.1 L515.5,112.0 L516.0,111.9 L516.5,111.7 L517.0,111.6 L517.5,111.5 L518.0,111.4 L518.5,111.3 L519.0,111.2 L519.5,111.0 L520.0,110.9 L520.5,110.8 L521.0,110.7 L521.5,110.7 L522.0,110.6 L522.5,110.5 L523.0,110.4 L523.5,110.3 L524.0,110.2 L524.5,110.1 L525.0,110.0 L525.5,110.0 L526.0,109.9 L526.5,109.8 L527.0,109.7 L527.5,109.6 L528.0,109.5 L528.5,109.4 L529.0,109.4 L529.5,109.3 L530.0,109.2 L530.5,109.1 L531.0,109.0 L531.5,108.9 L532.0,108.8 L532.5,108.7 L533.0,108.6 L533.5,108.5 L534.0,108.4 L534.5,108.3 L535.0,108.2 L535.5,108.1 L536.0,107.9 L536.5,107.8 L537.0,107.7 L537.5,107.6 L538.0,107.4 L538.5,107.3 L539.0,107.2 L539.5,107.1" fill="none" stroke="#e82020" stroke-width="1.1"/>
<rect x="306.7" y="9.5" width="237.3" height="191.5" fill="none" stroke="#333" stroke-width="1.4"/>
<path d="M306.70,201.00 V204.20 M349.70,201.00 V204.20 M392.70,201.00 V204.20 M435.70,201.00 V204.20 M478.70,201.00 V204.20 M521.70,201.00 V204.20 M328.20,201.00 V203.20 M371.20,201.00 V203.20 M414.20,201.00 V203.20 M457.20,201.00 V203.20 M500.20,201.00 V203.20 M543.20,201.00 V203.20 " stroke="#333" stroke-width="1.2" fill="none"/>
<text x="306.7" y="215.1" font-size="9.9" font-weight="bold" fill="#111" text-anchor="middle">870</text>
<text x="349.7" y="215.1" font-size="9.9" font-weight="bold" fill="#111" text-anchor="middle">880</text>
<text x="392.7" y="215.1" font-size="9.9" font-weight="bold" fill="#111" text-anchor="middle">890</text>
<text x="435.7" y="215.1" font-size="9.9" font-weight="bold" fill="#111" text-anchor="middle">900</text>
<text x="478.7" y="215.1" font-size="9.9" font-weight="bold" fill="#111" text-anchor="middle">910</text>
<text x="521.7" y="215.1" font-size="9.9" font-weight="bold" fill="#111" text-anchor="middle">920</text>
<text x="425.3" y="232" font-size="9.9" font-weight="bold" fill="#111" text-anchor="middle">Binding energy (eV)</text>
<text transform="translate(291.8,101.5) rotate(-90)" x="0" y="0" font-size="10" font-weight="bold" fill="#111" text-anchor="middle">Intensity (a.u.)</text>
<text x="308.65" y="26.3" font-size="16.9" font-weight="bold" fill="#111" style="stroke-width:0.1px">(b)</text>
<text x="354.81" y="30.3" font-size="9.7" font-weight="bold" fill="#111">Ce</text>
<text x="367.36" y="26.7" font-size="6.3" font-weight="bold" fill="#111">3+</text>
<text x="377.9" y="30.3" font-size="9.7" font-weight="bold" fill="#111">3d</text>
<text x="389.35" y="32.8" font-size="6.6" font-weight="bold" fill="#111">5/2</text>
<text x="315.11" y="95.5" font-size="9.7" font-weight="bold" fill="#111">Ce</text>
<text x="327.66" y="91.9" font-size="6.3" font-weight="bold" fill="#111">3+</text>
<text x="338.2" y="95.5" font-size="9.7" font-weight="bold" fill="#111">3d</text>
<text x="349.65" y="98" font-size="6.6" font-weight="bold" fill="#111">5/2</text>
<text x="397.61" y="86.5" font-size="9.7" font-weight="bold" fill="#111">Ce</text>
<text x="410.22" y="82.9" font-size="6.3" font-weight="bold" fill="#111">4+</text>
<text x="420.7" y="86.5" font-size="9.7" font-weight="bold" fill="#111">3d</text>
<text x="432.18" y="89" font-size="6.6" font-weight="bold" fill="#111">3/2</text>
<text x="431.51" y="45.8" font-size="9.7" font-weight="bold" fill="#111">Ce</text>
<text x="444.06" y="42.2" font-size="6.3" font-weight="bold" fill="#111">3+</text>
<text x="454.6" y="45.8" font-size="9.7" font-weight="bold" fill="#111">3d</text>
<text x="466.05" y="48.3" font-size="6.6" font-weight="bold" fill="#111">5/2</text>
<text x="476.21" y="104" font-size="9.7" font-weight="bold" fill="#111">Ce</text>
<text x="488.82" y="100.4" font-size="6.3" font-weight="bold" fill="#111">4+</text>
<text x="499.3" y="104" font-size="9.7" font-weight="bold" fill="#111">3d</text>
<text x="510.78" y="106.5" font-size="6.6" font-weight="bold" fill="#111">3/2</text>
<path d="M55.6,406.3 L56.1,406.3 L56.6,406.3 L57.1,406.2 L57.6,406.2 L58.1,406.1 L58.6,406.1 L59.1,406.1 L59.6,406.0 L60.1,406.0 L60.6,405.9 L61.1,405.9 L61.6,405.8 L62.1,405.8 L62.6,405.7 L63.1,405.7 L63.6,405.6 L64.1,405.6 L64.6,405.5 L65.1,405.5 L65.6,405.4 L66.1,405.3 L66.6,405.3 L67.1,405.2 L67.6,405.2 L68.1,405.1 L68.6,405.0 L69.1,405.0 L69.6,404.9 L70.1,404.8 L70.6,404.7 L71.1,404.7 L71.6,404.6 L72.1,404.5 L72.6,404.4 L73.1,404.3 L73.6,404.3 L74.1,404.2 L74.6,404.1 L75.1,404.0 L75.6,403.9 L76.1,403.8 L76.6,403.6 L77.1,403.5 L77.6,403.4 L78.1,403.3 L78.6,403.2 L79.1,403.0 L79.6,402.9 L80.1,402.7 L80.6,402.6 L81.1,402.4 L81.6,402.2 L82.1,402.1 L82.6,401.9 L83.1,401.7 L83.6,401.4 L84.1,401.2 L84.6,400.9 L85.1,400.7 L85.6,400.4 L86.1,400.1 L86.6,399.7 L87.1,399.3 L87.6,398.9 L88.1,398.4 L88.6,397.9 L89.1,397.4 L89.6,396.7 L90.1,396.0 L90.6,395.2 L91.1,394.4 L91.6,393.4 L92.1,392.4 L92.6,391.2 L93.1,389.9 L93.6,388.4 L94.1,386.8 L94.6,385.0 L95.1,383.1 L95.6,380.9 L96.1,378.6 L96.6,376.1 L97.1,373.3 L97.6,370.3 L98.1,367.1 L98.6,363.6 L99.1,359.9 L99.6,356.0 L100.1,351.8 L100.6,347.5 L101.1,342.9 L101.6,338.0 L102.1,333.1 L102.6,327.9 L103.1,322.6 L103.6,317.2 L104.1,311.8 L104.6,306.3 L105.1,300.9 L105.6,295.6 L106.1,290.3 L106.6,285.3 L107.1,280.6 L107.6,276.2 L108.1,272.3 L108.6,268.8 L109.1,266.0 L109.6,263.7 L110.1,262.2 L110.6,261.4 L111.1,261.3 L111.6,261.9 L112.1,263.3 L112.6,265.4 L113.1,268.1 L113.6,271.4 L114.1,275.3 L114.6,279.5 L115.1,284.2 L115.6,289.1 L116.1,294.3 L116.6,299.6 L117.1,305.0 L117.6,310.4 L118.1,315.8 L118.6,321.2 L119.1,326.5 L119.6,331.6 L120.1,336.6 L120.6,341.4 L121.1,346.0 L121.6,350.4 L122.1,354.6 L122.6,358.5 L123.1,362.2 L123.6,365.7 L124.1,368.9 L124.6,371.9 L125.1,374.7 L125.6,377.2 L126.1,379.6 L126.6,381.7 L127.1,383.6 L127.6,385.4 L128.1,387.0 L128.6,388.4 L129.1,389.7 L129.6,390.9 L130.1,392.0 L130.6,392.9 L131.1,393.7 L131.6,394.5 L132.1,395.2 L132.6,395.8 L133.1,396.3 L133.6,396.8 L134.1,397.2 L134.6,397.6 L135.1,398.0 L135.6,398.3 L136.1,398.6 L136.6,398.8 L137.1,399.0 L137.6,399.3 L138.1,399.5 L138.6,399.6 L139.1,399.8 L139.6,400.0 L140.1,400.1 L140.6,400.2 L141.1,400.4 L141.6,400.5 L142.1,400.6 L142.6,400.7 L143.1,400.8 L143.6,400.9 L144.1,401.0 L144.6,401.0 L145.1,401.1 L145.6,401.2 L146.1,401.2 L146.6,401.3 L147.1,401.3 L147.6,401.4 L148.1,401.4 L148.6,401.4 L149.1,401.5 L149.6,401.5 L150.1,401.5 L150.6,401.6 L151.1,401.6 L151.6,401.6 L152.1,401.6 L152.6,401.7 L153.1,401.7 L153.6,401.7 L154.1,401.7 L154.6,401.7 L155.1,401.7 L155.6,401.7 L156.1,401.7 L156.6,401.7 L157.1,401.8 L157.6,401.8 L158.1,401.8 L158.6,401.8 L159.1,401.8 L159.6,401.8 L160.1,401.8 L160.6,401.7 L161.1,401.7 L161.6,401.7 L162.1,401.7 L162.6,401.7 L163.1,401.7 L163.6,401.7 L164.1,401.7 L164.6,401.7 L165.1,401.7 L165.6,401.7 L166.1,401.6 L166.6,401.6 L167.1,401.6 L167.6,401.6 L168.1,401.6 L168.6,401.6 L169.1,401.5 L169.6,401.5 L170.1,401.5 L170.6,401.5 L171.1,401.4 L171.6,401.4 L172.1,401.4 L172.6,401.4 L173.1,401.3 L173.6,401.3 L174.1,401.3 L174.6,401.2 L175.1,401.2 L175.6,401.2 L176.1,401.1 L176.6,401.1 L177.1,401.1 L177.6,401.0 L178.1,401.0 L178.6,401.0 L179.1,400.9 L179.6,400.9 L180.1,400.9 L180.6,400.9 L181.1,400.9 L181.6,400.9 L182.1,400.8 L182.6,400.8 L183.1,400.8 L183.6,400.8 L184.1,400.8 L184.6,400.8 L185.1,400.8 L185.6,400.8 L186.1,400.8 L186.6,400.8 L187.1,400.8 L187.6,400.8 L188.1,400.8 L188.6,400.8 L189.1,400.8 L189.6,400.8 L190.1,400.8 L190.6,400.8 L191.1,400.8 L191.6,400.8 L192.1,400.8 L192.6,400.8 L193.1,400.8 L193.6,400.8 L194.1,400.8 L194.6,400.8 L195.1,400.8 L195.6,400.7 L196.1,400.7 L196.6,400.7 L197.1,400.7 L197.6,400.7 L198.1,400.7 L198.6,400.7 L199.1,400.7 L199.6,400.7 L200.1,400.7 L200.6,400.7 L201.1,400.7 L201.6,400.7 L202.1,400.7 L202.6,400.7 L203.1,400.6 L203.6,400.6 L204.1,400.6 L204.6,400.6 L205.1,400.6 L205.6,400.6 L206.1,400.6 L206.6,400.6 L207.1,400.6 L207.6,400.6 L208.1,400.6 L208.6,400.6 L209.1,400.6 L209.6,400.5 L210.1,400.5 L210.6,400.6 L211.1,400.6 L211.6,400.6 L212.1,400.6 L212.6,400.6 L213.1,400.7 L213.6,400.7 L214.1,400.7 L214.6,400.7 L215.1,400.7 L215.6,400.8 L216.1,400.8 L216.6,400.8 L217.1,400.8 L217.6,400.8 L218.1,400.8 L218.6,400.9 L219.1,400.9 L219.6,400.9 L220.1,400.9 L220.6,400.9 L221.1,401.0 L221.6,401.0 L222.1,401.0 L222.6,401.0 L223.1,401.0 L223.6,401.0 L224.1,401.1 L224.6,401.1 L225.1,401.1 L225.6,401.1 L226.1,401.1 L226.6,401.2 L227.1,401.2 L227.6,401.2 L228.1,401.2 L228.6,401.2 L229.1,401.2 L229.6,401.3 L230.1,401.3 L230.6,401.3 L231.1,401.2 L231.6,401.2 L232.1,401.2 L232.6,401.2 L233.1,401.2 L233.6,401.2 L234.1,401.1 L234.6,401.1 L235.1,401.1 L235.6,401.1 L236.1,401.1 L236.6,401.1 L237.1,401.0 L237.6,401.0 L238.1,401.0 L238.6,401.0 L239.1,401.0 L239.6,401.0 L240.1,400.9 L240.6,400.9 L241.1,400.9 L241.6,400.9 L242.1,400.9 L242.6,400.8 L243.1,400.8 L243.6,400.8 L244.1,400.8 L244.6,400.8 L245.1,400.8 L245.6,400.7 L246.1,400.7 L246.6,400.7 L247.1,400.7 L247.6,400.7 L248.1,400.7 L248.6,400.6 L249.1,400.6 L249.6,400.6 L250.1,400.6 L250.6,400.6 L251.1,400.6 L251.6,400.5 L252.1,400.5 L252.6,400.5 L253.1,400.5 L253.6,400.5 L254.1,400.4 L254.6,400.4 L255.1,400.4 L255.6,400.4 L256.1,400.4 L256.6,400.4 L257.1,400.3 L257.6,400.3 L258.1,400.3 L258.6,400.3 L259.1,400.3 L259.6,400.2 L260.1,400.2 L260.6,400.2 L261.1,400.2 L261.6,400.2 L262.1,400.2 L262.6,400.1 L263.1,400.1 L263.1,400.3 L262.6,400.3 L262.1,400.4 L261.6,400.4 L261.1,400.4 L260.6,400.4 L260.1,400.4 L259.6,400.5 L259.1,400.5 L258.6,400.5 L258.1,400.5 L257.6,400.5 L257.1,400.6 L256.6,400.6 L256.1,400.6 L255.6,400.6 L255.1,400.6 L254.6,400.6 L254.1,400.7 L253.6,400.7 L253.1,400.7 L252.6,400.7 L252.1,400.7 L251.6,400.8 L251.1,400.8 L250.6,400.8 L250.1,400.8 L249.6,400.8 L249.1,400.9 L248.6,400.9 L248.1,400.9 L247.6,400.9 L247.1,400.9 L246.6,401.0 L246.1,401.0 L245.6,401.0 L245.1,401.0 L244.6,401.0 L244.1,401.1 L243.6,401.1 L243.1,401.1 L242.6,401.1 L242.1,401.1 L241.6,401.2 L241.1,401.2 L240.6,401.2 L240.1,401.2 L239.6,401.2 L239.1,401.2 L238.6,401.3 L238.1,401.3 L237.6,401.3 L237.1,401.3 L236.6,401.3 L236.1,401.4 L235.6,401.4 L235.1,401.4 L234.6,401.4 L234.1,401.4 L233.6,401.5 L233.1,401.5 L232.6,401.5 L232.1,401.5 L231.6,401.5 L231.1,401.6 L230.6,401.6 L230.1,401.6 L229.6,401.6 L229.1,401.6 L228.6,401.6 L228.1,401.5 L227.6,401.5 L227.1,401.5 L226.6,401.5 L226.1,401.5 L225.6,401.5 L225.1,401.5 L224.6,401.4 L224.1,401.4 L223.6,401.4 L223.1,401.4 L222.6,401.4 L222.1,401.4 L221.6,401.3 L221.1,401.3 L220.6,401.3 L220.1,401.3 L219.6,401.3 L219.1,401.3 L218.6,401.3 L218.1,401.2 L217.6,401.2 L217.1,401.2 L216.6,401.2 L216.1,401.2 L215.6,401.2 L215.1,401.2 L214.6,401.1 L214.1,401.1 L213.6,401.1 L213.1,401.1 L212.6,401.1 L212.1,401.1 L211.6,401.0 L211.1,401.0 L210.6,401.0 L210.1,401.0 L209.6,401.0 L209.1,401.0 L208.6,401.0 L208.1,401.1 L207.6,401.1 L207.1,401.1 L206.6,401.1 L206.1,401.1 L205.6,401.1 L205.1,401.1 L204.6,401.1 L204.1,401.2 L203.6,401.2 L203.1,401.2 L202.6,401.2 L202.1,401.2 L201.6,401.2 L201.1,401.2 L200.6,401.3 L200.1,401.3 L199.6,401.3 L199.1,401.3 L198.6,401.3 L198.1,401.3 L197.6,401.3 L197.1,401.3 L196.6,401.4 L196.1,401.4 L195.6,401.4 L195.1,401.4 L194.6,401.4 L194.1,401.4 L193.6,401.4 L193.1,401.5 L192.6,401.5 L192.1,401.5 L191.6,401.5 L191.1,401.5 L190.6,401.5 L190.1,401.5 L189.6,401.5 L189.1,401.6 L188.6,401.6 L188.1,401.6 L187.6,401.6 L187.1,401.6 L186.6,401.6 L186.1,401.6 L185.6,401.7 L185.1,401.7 L184.6,401.7 L184.1,401.7 L183.6,401.7 L183.1,401.7 L182.6,401.7 L182.1,401.7 L181.6,401.8 L181.1,401.8 L180.6,401.8 L180.1,401.8 L179.6,401.8 L179.1,401.9 L178.6,401.9 L178.1,402.0 L177.6,402.0 L177.1,402.1 L176.6,402.1 L176.1,402.2 L175.6,402.2 L175.1,402.3 L174.6,402.3 L174.1,402.4 L173.6,402.4 L173.1,402.5 L172.6,402.5 L172.1,402.6 L171.6,402.6 L171.1,402.7 L170.6,402.7 L170.1,402.8 L169.6,402.8 L169.1,402.9 L168.6,402.9 L168.1,403.0 L167.6,403.0 L167.1,403.0 L166.6,403.1 L166.1,403.1 L165.6,403.2 L165.1,403.2 L164.6,403.2 L164.1,403.3 L163.6,403.3 L163.1,403.4 L162.6,403.4 L162.1,403.4 L161.6,403.5 L161.1,403.5 L160.6,403.6 L160.1,403.6 L159.6,403.6 L159.1,403.7 L158.6,403.7 L158.1,403.8 L157.6,403.8 L157.1,403.8 L156.6,403.9 L156.1,403.9 L155.6,404.0 L155.1,404.0 L154.6,404.0 L154.1,404.1 L153.6,404.1 L153.1,404.2 L152.6,404.2 L152.1,404.2 L151.6,404.3 L151.1,404.3 L150.6,404.4 L150.1,404.4 L149.6,404.4 L149.1,404.5 L148.6,404.5 L148.1,404.6 L147.6,404.6 L147.1,404.6 L146.6,404.7 L146.1,404.7 L145.6,404.8 L145.1,404.8 L144.6,404.8 L144.1,404.9 L143.6,404.9 L143.1,404.9 L142.6,404.9 L142.1,405.0 L141.6,405.0 L141.1,405.0 L140.6,405.1 L140.1,405.1 L139.6,405.1 L139.1,405.2 L138.6,405.2 L138.1,405.2 L137.6,405.2 L137.1,405.3 L136.6,405.3 L136.1,405.3 L135.6,405.4 L135.1,405.4 L134.6,405.4 L134.1,405.5 L133.6,405.5 L133.1,405.5 L132.6,405.5 L132.1,405.6 L131.6,405.6 L131.1,405.6 L130.6,405.7 L130.1,405.7 L129.6,405.7 L129.1,405.8 L128.6,405.8 L128.1,405.8 L127.6,405.8 L127.1,405.9 L126.6,405.9 L126.1,405.9 L125.6,406.0 L125.1,406.0 L124.6,406.0 L124.1,406.1 L123.6,406.1 L123.1,406.1 L122.6,406.1 L122.1,406.2 L121.6,406.2 L121.1,406.2 L120.6,406.3 L120.1,406.3 L119.6,406.3 L119.1,406.3 L118.6,406.3 L118.1,406.3 L117.6,406.4 L117.1,406.4 L116.6,406.4 L116.1,406.4 L115.6,406.4 L115.1,406.4 L114.6,406.4 L114.1,406.4 L113.6,406.4 L113.1,406.5 L112.6,406.5 L112.1,406.5 L111.6,406.5 L111.1,406.5 L110.6,406.5 L110.1,406.5 L109.6,406.5 L109.1,406.6 L108.6,406.6 L108.1,406.6 L107.6,406.6 L107.1,406.6 L106.6,406.6 L106.1,406.6 L105.6,406.6 L105.1,406.6 L104.6,406.7 L104.1,406.7 L103.6,406.7 L103.1,406.7 L102.6,406.7 L102.1,406.7 L101.6,406.7 L101.1,406.7 L100.6,406.8 L100.1,406.8 L99.6,406.8 L99.1,406.8 L98.6,406.8 L98.1,406.8 L97.6,406.8 L97.1,406.8 L96.6,406.8 L96.1,406.9 L95.6,406.9 L95.1,406.9 L94.6,406.9 L94.1,406.9 L93.6,406.9 L93.1,406.9 L92.6,406.9 L92.1,407.0 L91.6,407.0 L91.1,407.0 L90.6,407.0 L90.1,407.0 L89.6,407.0 L89.1,407.0 L88.6,407.0 L88.1,407.0 L87.6,407.1 L87.1,407.1 L86.6,407.1 L86.1,407.1 L85.6,407.1 L85.1,407.1 L84.6,407.1 L84.1,407.1 L83.6,407.1 L83.1,407.2 L82.6,407.2 L82.1,407.2 L81.6,407.2 L81.1,407.2 L80.6,407.2 L80.1,407.2 L79.6,407.2 L79.1,407.3 L78.6,407.3 L78.1,407.3 L77.6,407.3 L77.1,407.3 L76.6,407.3 L76.1,407.3 L75.6,407.3 L75.1,407.3 L74.6,407.4 L74.1,407.4 L73.6,407.4 L73.1,407.4 L72.6,407.4 L72.1,407.4 L71.6,407.4 L71.1,407.4 L70.6,407.5 L70.1,407.5 L69.6,407.5 L69.1,407.5 L68.6,407.5 L68.1,407.5 L67.6,407.5 L67.1,407.5 L66.6,407.5 L66.1,407.6 L65.6,407.6 L65.1,407.6 L64.6,407.6 L64.1,407.6 L63.6,407.6 L63.1,407.6 L62.6,407.6 L62.1,407.6 L61.6,407.7 L61.1,407.7 L60.6,407.7 L60.1,407.7 L59.6,407.7 L59.1,407.7 L58.6,407.7 L58.1,407.7 L57.6,407.8 L57.1,407.8 L56.6,407.8 L56.1,407.8 L55.6,407.8 Z" fill="#d49bd4"/>
<path d="M55.6,407.7 L56.1,407.7 L56.6,407.7 L57.1,407.7 L57.6,407.7 L58.1,407.7 L58.6,407.7 L59.1,407.7 L59.6,407.6 L60.1,407.6 L60.6,407.6 L61.1,407.6 L61.6,407.6 L62.1,407.6 L62.6,407.6 L63.1,407.6 L63.6,407.6 L64.1,407.5 L64.6,407.5 L65.1,407.5 L65.6,407.5 L66.1,407.5 L66.6,407.5 L67.1,407.5 L67.6,407.5 L68.1,407.4 L68.6,407.4 L69.1,407.4 L69.6,407.4 L70.1,407.4 L70.6,407.4 L71.1,407.4 L71.6,407.4 L72.1,407.3 L72.6,407.3 L73.1,407.3 L73.6,407.3 L74.1,407.3 L74.6,407.3 L75.1,407.3 L75.6,407.3 L76.1,407.3 L76.6,407.2 L77.1,407.2 L77.6,407.2 L78.1,407.2 L78.6,407.2 L79.1,407.2 L79.6,407.2 L80.1,407.2 L80.6,407.1 L81.1,407.1 L81.6,407.1 L82.1,407.1 L82.6,407.1 L83.1,407.1 L83.6,407.1 L84.1,407.1 L84.6,407.0 L85.1,407.0 L85.6,407.0 L86.1,407.0 L86.6,407.0 L87.1,407.0 L87.6,407.0 L88.1,407.0 L88.6,406.9 L89.1,406.9 L89.6,406.9 L90.1,406.9 L90.6,406.9 L91.1,406.9 L91.6,406.9 L92.1,406.9 L92.6,406.8 L93.1,406.8 L93.6,406.8 L94.1,406.8 L94.6,406.8 L95.1,406.8 L95.6,406.8 L96.1,406.8 L96.6,406.7 L97.1,406.7 L97.6,406.7 L98.1,406.7 L98.6,406.7 L99.1,406.7 L99.6,406.7 L100.1,406.7 L100.6,406.6 L101.1,406.6 L101.6,406.6 L102.1,406.6 L102.6,406.6 L103.1,406.6 L103.6,406.6 L104.1,406.6 L104.6,406.5 L105.1,406.5 L105.6,406.5 L106.1,406.5 L106.6,406.5 L107.1,406.5 L107.6,406.5 L108.1,406.5 L108.6,406.4 L109.1,406.4 L109.6,406.4 L110.1,406.4 L110.6,406.4 L111.1,406.4 L111.6,406.4 L112.1,406.4 L112.6,406.3 L113.1,406.3 L113.6,406.3 L114.1,406.3 L114.6,406.3 L115.1,406.3 L115.6,406.3 L116.1,406.3 L116.6,406.2 L117.1,406.2 L117.6,406.2 L118.1,406.2 L118.6,406.2 L119.1,406.2 L119.6,406.2 L120.1,406.1 L120.6,406.1 L121.1,406.1 L121.6,406.0 L122.1,406.0 L122.6,406.0 L123.1,406.0 L123.6,405.9 L124.1,405.9 L124.6,405.9 L125.1,405.8 L125.6,405.8 L126.1,405.8 L126.6,405.7 L127.1,405.7 L127.6,405.7 L128.1,405.6 L128.6,405.6 L129.1,405.6 L129.6,405.5 L130.1,405.5 L130.6,405.5 L131.1,405.4 L131.6,405.4 L132.1,405.4 L132.6,405.3 L133.1,405.3 L133.6,405.3 L134.1,405.3 L134.6,405.2 L135.1,405.2 L135.6,405.2 L136.1,405.1 L136.6,405.1 L137.1,405.1 L137.6,405.0 L138.1,405.0 L138.6,405.0 L139.1,404.9 L139.6,404.9 L140.1,404.9 L140.6,404.8 L141.1,404.8 L141.6,404.8 L142.1,404.7 L142.6,404.7 L143.1,404.7 L143.6,404.6 L144.1,404.6 L144.6,404.6 L145.1,404.5 L145.6,404.5 L146.1,404.4 L146.6,404.4 L147.1,404.4 L147.6,404.3 L148.1,404.3 L148.6,404.2 L149.1,404.2 L149.6,404.1 L150.1,404.1 L150.6,404.0 L151.1,404.0 L151.6,404.0 L152.1,403.9 L152.6,403.9 L153.1,403.8 L153.6,403.8 L154.1,403.7 L154.6,403.7 L155.1,403.6 L155.6,403.6 L156.1,403.6 L156.6,403.5 L157.1,403.5 L157.6,403.4 L158.1,403.4 L158.6,403.3 L159.1,403.3 L159.6,403.2 L160.1,403.2 L160.6,403.1 L161.1,403.1 L161.6,403.0 L162.1,403.0 L162.6,402.9 L163.1,402.9 L163.6,402.9 L164.1,402.8 L164.6,402.8 L165.1,402.7 L165.6,402.7 L166.1,402.6 L166.6,402.6 L167.1,402.5 L167.6,402.5 L168.1,402.4 L168.6,402.4 L169.1,402.3 L169.6,402.3 L170.1,402.2 L170.6,402.2 L171.1,402.1 L171.6,402.0 L172.1,402.0 L172.6,401.9 L173.1,401.8 L173.6,401.8 L174.1,401.7 L174.6,401.6 L175.1,401.6 L175.6,401.5 L176.1,401.5 L176.6,401.4 L177.1,401.3 L177.6,401.3 L178.1,401.2 L178.6,401.1 L179.1,401.0 L179.6,401.0 L180.1,400.9 L180.6,400.9 L181.1,400.8 L181.6,400.8 L182.1,400.8 L182.6,400.7 L183.1,400.7 L183.6,400.7 L184.1,400.6 L184.6,400.6 L185.1,400.5 L185.6,400.5 L186.1,400.4 L186.6,400.4 L187.1,400.3 L187.6,400.3 L188.1,400.2 L188.6,400.2 L189.1,400.1 L189.6,400.0 L190.1,399.9 L190.6,399.9 L191.1,399.8 L191.6,399.7 L192.1,399.6 L192.6,399.4 L193.1,399.3 L193.6,399.2 L194.1,399.0 L194.6,398.8 L195.1,398.6 L195.6,398.4 L196.1,398.1 L196.6,397.8 L197.1,397.5 L197.6,397.1 L198.1,396.7 L198.6,396.2 L199.1,395.7 L199.6,395.1 L200.1,394.4 L200.6,393.6 L201.1,392.8 L201.6,391.9 L202.1,390.8 L202.6,389.7 L203.1,388.4 L203.6,387.0 L204.1,385.5 L204.6,383.9 L205.1,382.1 L205.6,380.2 L206.1,378.1 L206.6,375.9 L207.1,373.5 L207.6,371.0 L208.1,368.3 L208.6,365.5 L209.1,362.6 L209.6,359.5 L210.1,356.3 L210.6,353.0 L211.1,349.7 L211.6,346.2 L212.1,342.8 L212.6,339.3 L213.1,335.7 L213.6,332.2 L214.1,328.8 L214.6,325.4 L215.1,322.1 L215.6,319.0 L216.1,316.0 L216.6,313.2 L217.1,310.6 L217.6,308.3 L218.1,306.3 L218.6,304.6 L219.1,303.2 L219.6,302.2 L220.1,301.6 L220.6,301.3 L221.1,301.5 L221.6,302.0 L222.1,302.9 L222.6,304.1 L223.1,305.7 L223.6,307.6 L224.1,309.9 L224.6,312.4 L225.1,315.1 L225.6,318.0 L226.1,321.2 L226.6,324.4 L227.1,327.8 L227.6,331.3 L228.1,334.8 L228.6,338.3 L229.1,341.9 L229.6,345.4 L230.1,348.9 L230.6,352.3 L231.1,355.6 L231.6,358.8 L232.1,361.8 L232.6,364.8 L233.1,367.6 L233.6,370.3 L234.1,372.9 L234.6,375.3 L235.1,377.5 L235.6,379.6 L236.1,381.6 L236.6,383.4 L237.1,385.1 L237.6,386.6 L238.1,388.0 L238.6,389.3 L239.1,390.4 L239.6,391.5 L240.1,392.4 L240.6,393.2 L241.1,394.0 L241.6,394.7 L242.1,395.3 L242.6,395.8 L243.1,396.3 L243.6,396.7 L244.1,397.1 L244.6,397.4 L245.1,397.6 L245.6,397.9 L246.1,398.1 L246.6,398.3 L247.1,398.5 L247.6,398.6 L248.1,398.7 L248.6,398.8 L249.1,398.9 L249.6,399.0 L250.1,399.1 L250.6,399.1 L251.1,399.2 L251.6,399.2 L252.1,399.3 L252.6,399.3 L253.1,399.3 L253.6,399.3 L254.1,399.4 L254.6,399.4 L255.1,399.4 L255.6,399.4 L256.1,399.4 L256.6,399.5 L257.1,399.5 L257.6,399.5 L258.1,399.5 L258.6,399.5 L259.1,399.5 L259.6,399.5 L260.1,399.5 L260.6,399.5 L261.1,399.5 L261.6,399.5 L262.1,399.5 L262.6,399.5 L263.1,399.5 L263.1,400.3 L262.6,400.3 L262.1,400.4 L261.6,400.4 L261.1,400.4 L260.6,400.4 L260.1,400.4 L259.6,400.5 L259.1,400.5 L258.6,400.5 L258.1,400.5 L257.6,400.5 L257.1,400.6 L256.6,400.6 L256.1,400.6 L255.6,400.6 L255.1,400.6 L254.6,400.6 L254.1,400.7 L253.6,400.7 L253.1,400.7 L252.6,400.7 L252.1,400.7 L251.6,400.8 L251.1,400.8 L250.6,400.8 L250.1,400.8 L249.6,400.8 L249.1,400.9 L248.6,400.9 L248.1,400.9 L247.6,400.9 L247.1,400.9 L246.6,401.0 L246.1,401.0 L245.6,401.0 L245.1,401.0 L244.6,401.0 L244.1,401.1 L243.6,401.1 L243.1,401.1 L242.6,401.1 L242.1,401.1 L241.6,401.2 L241.1,401.2 L240.6,401.2 L240.1,401.2 L239.6,401.2 L239.1,401.2 L238.6,401.3 L238.1,401.3 L237.6,401.3 L237.1,401.3 L236.6,401.3 L236.1,401.4 L235.6,401.4 L235.1,401.4 L234.6,401.4 L234.1,401.4 L233.6,401.5 L233.1,401.5 L232.6,401.5 L232.1,401.5 L231.6,401.5 L231.1,401.6 L230.6,401.6 L230.1,401.6 L229.6,401.6 L229.1,401.6 L228.6,401.6 L228.1,401.5 L227.6,401.5 L227.1,401.5 L226.6,401.5 L226.1,401.5 L225.6,401.5 L225.1,401.5 L224.6,401.4 L224.1,401.4 L223.6,401.4 L223.1,401.4 L222.6,401.4 L222.1,401.4 L221.6,401.3 L221.1,401.3 L220.6,401.3 L220.1,401.3 L219.6,401.3 L219.1,401.3 L218.6,401.3 L218.1,401.2 L217.6,401.2 L217.1,401.2 L216.6,401.2 L216.1,401.2 L215.6,401.2 L215.1,401.2 L214.6,401.1 L214.1,401.1 L213.6,401.1 L213.1,401.1 L212.6,401.1 L212.1,401.1 L211.6,401.0 L211.1,401.0 L210.6,401.0 L210.1,401.0 L209.6,401.0 L209.1,401.0 L208.6,401.0 L208.1,401.1 L207.6,401.1 L207.1,401.1 L206.6,401.1 L206.1,401.1 L205.6,401.1 L205.1,401.1 L204.6,401.1 L204.1,401.2 L203.6,401.2 L203.1,401.2 L202.6,401.2 L202.1,401.2 L201.6,401.2 L201.1,401.2 L200.6,401.3 L200.1,401.3 L199.6,401.3 L199.1,401.3 L198.6,401.3 L198.1,401.3 L197.6,401.3 L197.1,401.3 L196.6,401.4 L196.1,401.4 L195.6,401.4 L195.1,401.4 L194.6,401.4 L194.1,401.4 L193.6,401.4 L193.1,401.5 L192.6,401.5 L192.1,401.5 L191.6,401.5 L191.1,401.5 L190.6,401.5 L190.1,401.5 L189.6,401.5 L189.1,401.6 L188.6,401.6 L188.1,401.6 L187.6,401.6 L187.1,401.6 L186.6,401.6 L186.1,401.6 L185.6,401.7 L185.1,401.7 L184.6,401.7 L184.1,401.7 L183.6,401.7 L183.1,401.7 L182.6,401.7 L182.1,401.7 L181.6,401.8 L181.1,401.8 L180.6,401.8 L180.1,401.8 L179.6,401.8 L179.1,401.9 L178.6,401.9 L178.1,402.0 L177.6,402.0 L177.1,402.1 L176.6,402.1 L176.1,402.2 L175.6,402.2 L175.1,402.3 L174.6,402.3 L174.1,402.4 L173.6,402.4 L173.1,402.5 L172.6,402.5 L172.1,402.6 L171.6,402.6 L171.1,402.7 L170.6,402.7 L170.1,402.8 L169.6,402.8 L169.1,402.9 L168.6,402.9 L168.1,403.0 L167.6,403.0 L167.1,403.0 L166.6,403.1 L166.1,403.1 L165.6,403.2 L165.1,403.2 L164.6,403.2 L164.1,403.3 L163.6,403.3 L163.1,403.4 L162.6,403.4 L162.1,403.4 L161.6,403.5 L161.1,403.5 L160.6,403.6 L160.1,403.6 L159.6,403.6 L159.1,403.7 L158.6,403.7 L158.1,403.8 L157.6,403.8 L157.1,403.8 L156.6,403.9 L156.1,403.9 L155.6,404.0 L155.1,404.0 L154.6,404.0 L154.1,404.1 L153.6,404.1 L153.1,404.2 L152.6,404.2 L152.1,404.2 L151.6,404.3 L151.1,404.3 L150.6,404.4 L150.1,404.4 L149.6,404.4 L149.1,404.5 L148.6,404.5 L148.1,404.6 L147.6,404.6 L147.1,404.6 L146.6,404.7 L146.1,404.7 L145.6,404.8 L145.1,404.8 L144.6,404.8 L144.1,404.9 L143.6,404.9 L143.1,404.9 L142.6,404.9 L142.1,405.0 L141.6,405.0 L141.1,405.0 L140.6,405.1 L140.1,405.1 L139.6,405.1 L139.1,405.2 L138.6,405.2 L138.1,405.2 L137.6,405.2 L137.1,405.3 L136.6,405.3 L136.1,405.3 L135.6,405.4 L135.1,405.4 L134.6,405.4 L134.1,405.5 L133.6,405.5 L133.1,405.5 L132.6,405.5 L132.1,405.6 L131.6,405.6 L131.1,405.6 L130.6,405.7 L130.1,405.7 L129.6,405.7 L129.1,405.8 L128.6,405.8 L128.1,405.8 L127.6,405.8 L127.1,405.9 L126.6,405.9 L126.1,405.9 L125.6,406.0 L125.1,406.0 L124.6,406.0 L124.1,406.1 L123.6,406.1 L123.1,406.1 L122.6,406.1 L122.1,406.2 L121.6,406.2 L121.1,406.2 L120.6,406.3 L120.1,406.3 L119.6,406.3 L119.1,406.3 L118.6,406.3 L118.1,406.3 L117.6,406.4 L117.1,406.4 L116.6,406.4 L116.1,406.4 L115.6,406.4 L115.1,406.4 L114.6,406.4 L114.1,406.4 L113.6,406.4 L113.1,406.5 L112.6,406.5 L112.1,406.5 L111.6,406.5 L111.1,406.5 L110.6,406.5 L110.1,406.5 L109.6,406.5 L109.1,406.6 L108.6,406.6 L108.1,406.6 L107.6,406.6 L107.1,406.6 L106.6,406.6 L106.1,406.6 L105.6,406.6 L105.1,406.6 L104.6,406.7 L104.1,406.7 L103.6,406.7 L103.1,406.7 L102.6,406.7 L102.1,406.7 L101.6,406.7 L101.1,406.7 L100.6,406.8 L100.1,406.8 L99.6,406.8 L99.1,406.8 L98.6,406.8 L98.1,406.8 L97.6,406.8 L97.1,406.8 L96.6,406.8 L96.1,406.9 L95.6,406.9 L95.1,406.9 L94.6,406.9 L94.1,406.9 L93.6,406.9 L93.1,406.9 L92.6,406.9 L92.1,407.0 L91.6,407.0 L91.1,407.0 L90.6,407.0 L90.1,407.0 L89.6,407.0 L89.1,407.0 L88.6,407.0 L88.1,407.0 L87.6,407.1 L87.1,407.1 L86.6,407.1 L86.1,407.1 L85.6,407.1 L85.1,407.1 L84.6,407.1 L84.1,407.1 L83.6,407.1 L83.1,407.2 L82.6,407.2 L82.1,407.2 L81.6,407.2 L81.1,407.2 L80.6,407.2 L80.1,407.2 L79.6,407.2 L79.1,407.3 L78.6,407.3 L78.1,407.3 L77.6,407.3 L77.1,407.3 L76.6,407.3 L76.1,407.3 L75.6,407.3 L75.1,407.3 L74.6,407.4 L74.1,407.4 L73.6,407.4 L73.1,407.4 L72.6,407.4 L72.1,407.4 L71.6,407.4 L71.1,407.4 L70.6,407.5 L70.1,407.5 L69.6,407.5 L69.1,407.5 L68.6,407.5 L68.1,407.5 L67.6,407.5 L67.1,407.5 L66.6,407.5 L66.1,407.6 L65.6,407.6 L65.1,407.6 L64.6,407.6 L64.1,407.6 L63.6,407.6 L63.1,407.6 L62.6,407.6 L62.1,407.6 L61.6,407.7 L61.1,407.7 L60.6,407.7 L60.1,407.7 L59.6,407.7 L59.1,407.7 L58.6,407.7 L58.1,407.7 L57.6,407.8 L57.1,407.8 L56.6,407.8 L56.1,407.8 L55.6,407.8 Z" fill="#00eb78"/>
<path d="M55.6,406.3 L56.1,406.2 L56.6,406.2 L57.1,406.2 L57.6,406.1 L58.1,406.1 L58.6,406.0 L59.1,406.0 L59.6,405.9 L60.1,405.9 L60.6,405.9 L61.1,405.8 L61.6,405.8 L62.1,405.7 L62.6,405.7 L63.1,405.6 L63.6,405.6 L64.1,405.5 L64.6,405.5 L65.1,405.4 L65.6,405.3 L66.1,405.3 L66.6,405.2 L67.1,405.2 L67.6,405.1 L68.1,405.0 L68.6,405.0 L69.1,404.9 L69.6,404.8 L70.1,404.8 L70.6,404.7 L71.1,404.6 L71.6,404.5 L72.1,404.4 L72.6,404.4 L73.1,404.3 L73.6,404.2 L74.1,404.1 L74.6,404.0 L75.1,403.9 L75.6,403.8 L76.1,403.7 L76.6,403.6 L77.1,403.5 L77.6,403.3 L78.1,403.2 L78.6,403.1 L79.1,402.9 L79.6,402.8 L80.1,402.7 L80.6,402.5 L81.1,402.3 L81.6,402.2 L82.1,402.0 L82.6,401.8 L83.1,401.6 L83.6,401.4 L84.1,401.1 L84.6,400.9 L85.1,400.6 L85.6,400.3 L86.1,400.0 L86.6,399.6 L87.1,399.2 L87.6,398.8 L88.1,398.4 L88.6,397.8 L89.1,397.3 L89.6,396.6 L90.1,395.9 L90.6,395.2 L91.1,394.3 L91.6,393.3 L92.1,392.3 L92.6,391.1 L93.1,389.8 L93.6,388.3 L94.1,386.7 L94.6,384.9 L95.1,383.0 L95.6,380.8 L96.1,378.5 L96.6,376.0 L97.1,373.2 L97.6,370.2 L98.1,367.0 L98.6,363.5 L99.1,359.8 L99.6,355.9 L100.1,351.7 L100.6,347.3 L101.1,342.7 L101.6,337.9 L102.1,333.0 L102.6,327.8 L103.1,322.5 L103.6,317.1 L104.1,311.7 L104.6,306.2 L105.1,300.8 L105.6,295.4 L106.1,290.2 L106.6,285.2 L107.1,280.5 L107.6,276.1 L108.1,272.2 L108.6,268.7 L109.1,265.9 L109.6,263.6 L110.1,262.1 L110.6,261.2 L111.1,261.1 L111.6,261.8 L112.1,263.2 L112.6,265.3 L113.1,268.0 L113.6,271.3 L114.1,275.1 L114.6,279.4 L115.1,284.0 L115.6,289.0 L116.1,294.1 L116.6,299.4 L117.1,304.8 L117.6,310.3 L118.1,315.7 L118.6,321.1 L119.1,326.3 L119.6,331.5 L120.1,336.5 L120.6,341.3 L121.1,345.9 L121.6,350.3 L122.1,354.4 L122.6,358.4 L123.1,362.1 L123.6,365.5 L124.1,368.7 L124.6,371.7 L125.1,374.5 L125.6,377.0 L126.1,379.4 L126.6,381.5 L127.1,383.5 L127.6,385.2 L128.1,386.8 L128.6,388.3 L129.1,389.6 L129.6,390.7 L130.1,391.8 L130.6,392.7 L131.1,393.5 L131.6,394.3 L132.1,395.0 L132.6,395.6 L133.1,396.1 L133.6,396.6 L134.1,397.0 L134.6,397.4 L135.1,397.7 L135.6,398.1 L136.1,398.3 L136.6,398.6 L137.1,398.8 L137.6,399.0 L138.1,399.2 L138.6,399.4 L139.1,399.6 L139.6,399.7 L140.1,399.9 L140.6,400.0 L141.1,400.1 L141.6,400.2 L142.1,400.3 L142.6,400.4 L143.1,400.5 L143.6,400.6 L144.1,400.7 L144.6,400.8 L145.1,400.8 L145.6,400.9 L146.1,400.9 L146.6,401.0 L147.1,401.0 L147.6,401.1 L148.1,401.1 L148.6,401.2 L149.1,401.2 L149.6,401.2 L150.1,401.2 L150.6,401.3 L151.1,401.3 L151.6,401.3 L152.1,401.3 L152.6,401.3 L153.1,401.3 L153.6,401.4 L154.1,401.4 L154.6,401.4 L155.1,401.4 L155.6,401.4 L156.1,401.4 L156.6,401.4 L157.1,401.4 L157.6,401.4 L158.1,401.4 L158.6,401.4 L159.1,401.4 L159.6,401.4 L160.1,401.3 L160.6,401.3 L161.1,401.3 L161.6,401.3 L162.1,401.3 L162.6,401.3 L163.1,401.3 L163.6,401.2 L164.1,401.2 L164.6,401.2 L165.1,401.2 L165.6,401.2 L166.1,401.1 L166.6,401.1 L167.1,401.1 L167.6,401.1 L168.1,401.0 L168.6,401.0 L169.1,401.0 L169.6,401.0 L170.1,400.9 L170.6,400.9 L171.1,400.8 L171.6,400.8 L172.1,400.8 L172.6,400.7 L173.1,400.7 L173.6,400.6 L174.1,400.6 L174.6,400.5 L175.1,400.5 L175.6,400.4 L176.1,400.4 L176.6,400.3 L177.1,400.3 L177.6,400.2 L178.1,400.2 L178.6,400.1 L179.1,400.1 L179.6,400.0 L180.1,400.0 L180.6,399.9 L181.1,399.9 L181.6,399.9 L182.1,399.9 L182.6,399.9 L183.1,399.8 L183.6,399.8 L184.1,399.8 L184.6,399.7 L185.1,399.7 L185.6,399.7 L186.1,399.6 L186.6,399.6 L187.1,399.5 L187.6,399.5 L188.1,399.5 L188.6,399.4 L189.1,399.3 L189.6,399.3 L190.1,399.2 L190.6,399.1 L191.1,399.1 L191.6,399.0 L192.1,398.9 L192.6,398.8 L193.1,398.6 L193.6,398.5 L194.1,398.3 L194.6,398.2 L195.1,398.0 L195.6,397.7 L196.1,397.5 L196.6,397.2 L197.1,396.9 L197.6,396.5 L198.1,396.1 L198.6,395.6 L199.1,395.1 L199.6,394.5 L200.1,393.8 L200.6,393.1 L201.1,392.2 L201.6,391.3 L202.1,390.3 L202.6,389.1 L203.1,387.9 L203.6,386.5 L204.1,385.0 L204.6,383.4 L205.1,381.6 L205.6,379.7 L206.1,377.6 L206.6,375.4 L207.1,373.0 L207.6,370.5 L208.1,367.8 L208.6,365.0 L209.1,362.1 L209.6,359.0 L210.1,355.8 L210.6,352.6 L211.1,349.2 L211.6,345.8 L212.1,342.3 L212.6,338.8 L213.1,335.3 L213.6,331.8 L214.1,328.3 L214.6,325.0 L215.1,321.7 L215.6,318.5 L216.1,315.6 L216.6,312.8 L217.1,310.2 L217.6,307.9 L218.1,305.9 L218.6,304.2 L219.1,302.8 L219.6,301.8 L220.1,301.2 L220.6,300.9 L221.1,301.1 L221.6,301.6 L222.1,302.5 L222.6,303.8 L223.1,305.4 L223.6,307.3 L224.1,309.5 L224.6,312.0 L225.1,314.7 L225.6,317.7 L226.1,320.8 L226.6,324.1 L227.1,327.5 L227.6,330.9 L228.1,334.4 L228.6,338.0 L229.1,341.5 L229.6,345.1 L230.1,348.5 L230.6,351.9 L231.1,355.2 L231.6,358.4 L232.1,361.5 L232.6,364.5 L233.1,367.3 L233.6,370.0 L234.1,372.6 L234.6,375.0 L235.1,377.2 L235.6,379.3 L236.1,381.3 L236.6,383.1 L237.1,384.8 L237.6,386.3 L238.1,387.7 L238.6,389.0 L239.1,390.1 L239.6,391.2 L240.1,392.1 L240.6,393.0 L241.1,393.7 L241.6,394.4 L242.1,395.0 L242.6,395.5 L243.1,396.0 L243.6,396.4 L244.1,396.8 L244.6,397.1 L245.1,397.4 L245.6,397.6 L246.1,397.9 L246.6,398.0 L247.1,398.2 L247.6,398.3 L248.1,398.5 L248.6,398.6 L249.1,398.7 L249.6,398.8 L250.1,398.8 L250.6,398.9 L251.1,398.9 L251.6,399.0 L252.1,399.0 L252.6,399.1 L253.1,399.1 L253.6,399.1 L254.1,399.1 L254.6,399.2 L255.1,399.2 L255.6,399.2 L256.1,399.2 L256.6,399.2 L257.1,399.2 L257.6,399.3 L258.1,399.3 L258.6,399.3 L259.1,399.3 L259.6,399.3 L260.1,399.3 L260.6,399.3 L261.1,399.3 L261.6,399.3 L262.1,399.3 L262.6,399.3 L263.1,399.3" fill="none" stroke="#e83030" stroke-width="0.9"/>
<path d="M55.6,406.3 L56.1,406.3 L56.6,406.3 L57.1,406.2 L57.6,406.2 L58.1,406.1 L58.6,406.1 L59.1,406.1 L59.6,406.0 L60.1,406.0 L60.6,405.9 L61.1,405.9 L61.6,405.8 L62.1,405.8 L62.6,405.7 L63.1,405.7 L63.6,405.6 L64.1,405.6 L64.6,405.5 L65.1,405.5 L65.6,405.4 L66.1,405.3 L66.6,405.3 L67.1,405.2 L67.6,405.2 L68.1,405.1 L68.6,405.0 L69.1,405.0 L69.6,404.9 L70.1,404.8 L70.6,404.7 L71.1,404.7 L71.6,404.6 L72.1,404.5 L72.6,404.4 L73.1,404.3 L73.6,404.3 L74.1,404.2 L74.6,404.1 L75.1,404.0 L75.6,403.9 L76.1,403.8 L76.6,403.6 L77.1,403.5 L77.6,403.4 L78.1,403.3 L78.6,403.2 L79.1,403.0 L79.6,402.9 L80.1,402.7 L80.6,402.6 L81.1,402.4 L81.6,402.2 L82.1,402.1 L82.6,401.9 L83.1,401.7 L83.6,401.4 L84.1,401.2 L84.6,400.9 L85.1,400.7 L85.6,400.4 L86.1,400.1 L86.6,399.7 L87.1,399.3 L87.6,398.9 L88.1,398.4 L88.6,397.9 L89.1,397.4 L89.6,396.7 L90.1,396.0 L90.6,395.2 L91.1,394.4 L91.6,393.4 L92.1,392.4 L92.6,391.2 L93.1,389.9 L93.6,388.4 L94.1,386.8 L94.6,385.0 L95.1,383.1 L95.6,380.9 L96.1,378.6 L96.6,376.1 L97.1,373.3 L97.6,370.3 L98.1,367.1 L98.6,363.6 L99.1,359.9 L99.6,356.0 L100.1,351.8 L100.6,347.5 L101.1,342.9 L101.6,338.0 L102.1,333.1 L102.6,327.9 L103.1,322.6 L103.6,317.2 L104.1,311.8 L104.6,306.3 L105.1,300.9 L105.6,295.6 L106.1,290.3 L106.6,285.3 L107.1,280.6 L107.6,276.2 L108.1,272.3 L108.6,268.8 L109.1,266.0 L109.6,263.7 L110.1,262.2 L110.6,261.4 L111.1,261.3 L111.6,261.9 L112.1,263.3 L112.6,265.4 L113.1,268.1 L113.6,271.4 L114.1,275.3 L114.6,279.5 L115.1,284.2 L115.6,289.1 L116.1,294.3 L116.6,299.6 L117.1,305.0 L117.6,310.4 L118.1,315.8 L118.6,321.2 L119.1,326.5 L119.6,331.6 L120.1,336.6 L120.6,341.4 L121.1,346.0 L121.6,350.4 L122.1,354.6 L122.6,358.5 L123.1,362.2 L123.6,365.7 L124.1,368.9 L124.6,371.9 L125.1,374.7 L125.6,377.2 L126.1,379.6 L126.6,381.7 L127.1,383.6 L127.6,385.4 L128.1,387.0 L128.6,388.4 L129.1,389.7 L129.6,390.9 L130.1,392.0 L130.6,392.9 L131.1,393.7 L131.6,394.5 L132.1,395.2 L132.6,395.8 L133.1,396.3 L133.6,396.8 L134.1,397.2 L134.6,397.6 L135.1,398.0 L135.6,398.3 L136.1,398.6 L136.6,398.8 L137.1,399.0 L137.6,399.3 L138.1,399.5 L138.6,399.6 L139.1,399.8 L139.6,400.0 L140.1,400.1 L140.6,400.2 L141.1,400.4 L141.6,400.5 L142.1,400.6 L142.6,400.7 L143.1,400.8 L143.6,400.9 L144.1,401.0 L144.6,401.0 L145.1,401.1 L145.6,401.2 L146.1,401.2 L146.6,401.3 L147.1,401.3 L147.6,401.4 L148.1,401.4 L148.6,401.4 L149.1,401.5 L149.6,401.5 L150.1,401.5 L150.6,401.6 L151.1,401.6 L151.6,401.6 L152.1,401.6 L152.6,401.7 L153.1,401.7 L153.6,401.7 L154.1,401.7 L154.6,401.7 L155.1,401.7 L155.6,401.7 L156.1,401.7 L156.6,401.7 L157.1,401.8 L157.6,401.8 L158.1,401.8 L158.6,401.8 L159.1,401.8 L159.6,401.8 L160.1,401.8 L160.6,401.7 L161.1,401.7 L161.6,401.7 L162.1,401.7 L162.6,401.7 L163.1,401.7 L163.6,401.7 L164.1,401.7 L164.6,401.7 L165.1,401.7 L165.6,401.7 L166.1,401.6 L166.6,401.6 L167.1,401.6 L167.6,401.6 L168.1,401.6 L168.6,401.6 L169.1,401.5 L169.6,401.5 L170.1,401.5 L170.6,401.5 L171.1,401.4 L171.6,401.4 L172.1,401.4 L172.6,401.4 L173.1,401.3 L173.6,401.3 L174.1,401.3 L174.6,401.2 L175.1,401.2 L175.6,401.2 L176.1,401.1 L176.6,401.1 L177.1,401.1 L177.6,401.0 L178.1,401.0 L178.6,401.0 L179.1,400.9 L179.6,400.9 L180.1,400.9 L180.6,400.9 L181.1,400.9 L181.6,400.9 L182.1,400.8 L182.6,400.8 L183.1,400.8 L183.6,400.8 L184.1,400.8 L184.6,400.8 L185.1,400.8 L185.6,400.8 L186.1,400.8 L186.6,400.8 L187.1,400.8 L187.6,400.8 L188.1,400.8 L188.6,400.8 L189.1,400.8 L189.6,400.8 L190.1,400.8 L190.6,400.8 L191.1,400.8 L191.6,400.8 L192.1,400.8 L192.6,400.8 L193.1,400.8 L193.6,400.8 L194.1,400.8 L194.6,400.8 L195.1,400.8 L195.6,400.7 L196.1,400.7 L196.6,400.7 L197.1,400.7 L197.6,400.7 L198.1,400.7 L198.6,400.7 L199.1,400.7 L199.6,400.7 L200.1,400.7 L200.6,400.7 L201.1,400.7 L201.6,400.7 L202.1,400.7 L202.6,400.7 L203.1,400.6 L203.6,400.6 L204.1,400.6 L204.6,400.6 L205.1,400.6 L205.6,400.6 L206.1,400.6 L206.6,400.6 L207.1,400.6 L207.6,400.6 L208.1,400.6 L208.6,400.6 L209.1,400.6 L209.6,400.5 L210.1,400.5 L210.6,400.6 L211.1,400.6 L211.6,400.6 L212.1,400.6 L212.6,400.6 L213.1,400.7 L213.6,400.7 L214.1,400.7 L214.6,400.7 L215.1,400.7 L215.6,400.8 L216.1,400.8 L216.6,400.8 L217.1,400.8 L217.6,400.8 L218.1,400.8 L218.6,400.9 L219.1,400.9 L219.6,400.9 L220.1,400.9 L220.6,400.9 L221.1,401.0 L221.6,401.0 L222.1,401.0 L222.6,401.0 L223.1,401.0 L223.6,401.0 L224.1,401.1 L224.6,401.1 L225.1,401.1 L225.6,401.1 L226.1,401.1 L226.6,401.2 L227.1,401.2 L227.6,401.2 L228.1,401.2 L228.6,401.2 L229.1,401.2 L229.6,401.3 L230.1,401.3 L230.6,401.3 L231.1,401.2 L231.6,401.2 L232.1,401.2 L232.6,401.2 L233.1,401.2 L233.6,401.2 L234.1,401.1" fill="none" stroke="#b070d0" stroke-width="1.1"/>
<path d="M150.1,404.1 L150.6,404.0 L151.1,404.0 L151.6,404.0 L152.1,403.9 L152.6,403.9 L153.1,403.8 L153.6,403.8 L154.1,403.7 L154.6,403.7 L155.1,403.6 L155.6,403.6 L156.1,403.6 L156.6,403.5 L157.1,403.5 L157.6,403.4 L158.1,403.4 L158.6,403.3 L159.1,403.3 L159.6,403.2 L160.1,403.2 L160.6,403.1 L161.1,403.1 L161.6,403.0 L162.1,403.0 L162.6,402.9 L163.1,402.9 L163.6,402.9 L164.1,402.8 L164.6,402.8 L165.1,402.7 L165.6,402.7 L166.1,402.6 L166.6,402.6 L167.1,402.5 L167.6,402.5 L168.1,402.4 L168.6,402.4 L169.1,402.3 L169.6,402.3 L170.1,402.2 L170.6,402.2 L171.1,402.1 L171.6,402.0 L172.1,402.0 L172.6,401.9 L173.1,401.8 L173.6,401.8 L174.1,401.7 L174.6,401.6 L175.1,401.6 L175.6,401.5 L176.1,401.5 L176.6,401.4 L177.1,401.3 L177.6,401.3 L178.1,401.2 L178.6,401.1 L179.1,401.0 L179.6,401.0 L180.1,400.9 L180.6,400.9 L181.1,400.8 L181.6,400.8 L182.1,400.8 L182.6,400.7 L183.1,400.7 L183.6,400.7 L184.1,400.6 L184.6,400.6 L185.1,400.5 L185.6,400.5 L186.1,400.4 L186.6,400.4 L187.1,400.3 L187.6,400.3 L188.1,400.2 L188.6,400.2 L189.1,400.1 L189.6,400.0 L190.1,399.9 L190.6,399.9 L191.1,399.8 L191.6,399.7 L192.1,399.6 L192.6,399.4 L193.1,399.3 L193.6,399.2 L194.1,399.0 L194.6,398.8 L195.1,398.6 L195.6,398.4 L196.1,398.1 L196.6,397.8 L197.1,397.5 L197.6,397.1 L198.1,396.7 L198.6,396.2 L199.1,395.7 L199.6,395.1 L200.1,394.4 L200.6,393.6 L201.1,392.8 L201.6,391.9 L202.1,390.8 L202.6,389.7 L203.1,388.4 L203.6,387.0 L204.1,385.5 L204.6,383.9 L205.1,382.1 L205.6,380.2 L206.1,378.1 L206.6,375.9 L207.1,373.5 L207.6,371.0 L208.1,368.3 L208.6,365.5 L209.1,362.6 L209.6,359.5 L210.1,356.3 L210.6,353.0 L211.1,349.7 L211.6,346.2 L212.1,342.8 L212.6,339.3 L213.1,335.7 L213.6,332.2 L214.1,328.8 L214.6,325.4 L215.1,322.1 L215.6,319.0 L216.1,316.0 L216.6,313.2 L217.1,310.6 L217.6,308.3 L218.1,306.3 L218.6,304.6 L219.1,303.2 L219.6,302.2 L220.1,301.6 L220.6,301.3 L221.1,301.5 L221.6,302.0 L222.1,302.9 L222.6,304.1 L223.1,305.7 L223.6,307.6 L224.1,309.9 L224.6,312.4 L225.1,315.1 L225.6,318.0 L226.1,321.2 L226.6,324.4 L227.1,327.8 L227.6,331.3 L228.1,334.8 L228.6,338.3 L229.1,341.9 L229.6,345.4 L230.1,348.9 L230.6,352.3 L231.1,355.6 L231.6,358.8 L232.1,361.8 L232.6,364.8 L233.1,367.6 L233.6,370.3 L234.1,372.9 L234.6,375.3 L235.1,377.5 L235.6,379.6 L236.1,381.6 L236.6,383.4 L237.1,385.1 L237.6,386.6 L238.1,388.0 L238.6,389.3 L239.1,390.4 L239.6,391.5 L240.1,392.4 L240.6,393.2 L241.1,394.0 L241.6,394.7 L242.1,395.3 L242.6,395.8 L243.1,396.3 L243.6,396.7 L244.1,397.1 L244.6,397.4 L245.1,397.6 L245.6,397.9 L246.1,398.1 L246.6,398.3 L247.1,398.5 L247.6,398.6 L248.1,398.7 L248.6,398.8 L249.1,398.9 L249.6,399.0 L250.1,399.1 L250.6,399.1 L251.1,399.2 L251.6,399.2 L252.1,399.3 L252.6,399.3 L253.1,399.3 L253.6,399.3 L254.1,399.4 L254.6,399.4 L255.1,399.4 L255.6,399.4 L256.1,399.4 L256.6,399.5 L257.1,399.5 L257.6,399.5 L258.1,399.5 L258.6,399.5 L259.1,399.5 L259.6,399.5 L260.1,399.5 L260.6,399.5 L261.1,399.5 L261.6,399.5 L262.1,399.5 L262.6,399.5 L263.1,399.5" fill="none" stroke="#30a060" stroke-width="0.8"/>
<path d="M55.6,407.8 L56.1,407.8 L56.6,407.8 L57.1,407.8 L57.6,407.8 L58.1,407.7 L58.6,407.7 L59.1,407.7 L59.6,407.7 L60.1,407.7 L60.6,407.7 L61.1,407.7 L61.6,407.7 L62.1,407.6 L62.6,407.6 L63.1,407.6 L63.6,407.6 L64.1,407.6 L64.6,407.6 L65.1,407.6 L65.6,407.6 L66.1,407.6 L66.6,407.5 L67.1,407.5 L67.6,407.5 L68.1,407.5 L68.6,407.5 L69.1,407.5 L69.6,407.5 L70.1,407.5 L70.6,407.5 L71.1,407.4 L71.6,407.4 L72.1,407.4 L72.6,407.4 L73.1,407.4 L73.6,407.4 L74.1,407.4 L74.6,407.4 L75.1,407.3 L75.6,407.3 L76.1,407.3 L76.6,407.3 L77.1,407.3 L77.6,407.3 L78.1,407.3 L78.6,407.3 L79.1,407.3 L79.6,407.2 L80.1,407.2 L80.6,407.2 L81.1,407.2 L81.6,407.2 L82.1,407.2 L82.6,407.2 L83.1,407.2 L83.6,407.1 L84.1,407.1 L84.6,407.1 L85.1,407.1 L85.6,407.1 L86.1,407.1 L86.6,407.1 L87.1,407.1 L87.6,407.1 L88.1,407.0 L88.6,407.0 L89.1,407.0 L89.6,407.0 L90.1,407.0 L90.6,407.0 L91.1,407.0 L91.6,407.0 L92.1,407.0 L92.6,406.9 L93.1,406.9 L93.6,406.9 L94.1,406.9 L94.6,406.9 L95.1,406.9 L95.6,406.9 L96.1,406.9 L96.6,406.8 L97.1,406.8 L97.6,406.8 L98.1,406.8 L98.6,406.8 L99.1,406.8 L99.6,406.8 L100.1,406.8 L100.6,406.8 L101.1,406.7 L101.6,406.7 L102.1,406.7 L102.6,406.7 L103.1,406.7 L103.6,406.7 L104.1,406.7 L104.6,406.7 L105.1,406.6 L105.6,406.6 L106.1,406.6 L106.6,406.6 L107.1,406.6 L107.6,406.6 L108.1,406.6 L108.6,406.6 L109.1,406.6 L109.6,406.5 L110.1,406.5 L110.6,406.5 L111.1,406.5 L111.6,406.5 L112.1,406.5 L112.6,406.5 L113.1,406.5 L113.6,406.4 L114.1,406.4 L114.6,406.4 L115.1,406.4 L115.6,406.4 L116.1,406.4 L116.6,406.4 L117.1,406.4 L117.6,406.4 L118.1,406.3 L118.6,406.3 L119.1,406.3 L119.6,406.3 L120.1,406.3 L120.6,406.3 L121.1,406.2 L121.6,406.2 L122.1,406.2 L122.6,406.1 L123.1,406.1 L123.6,406.1 L124.1,406.1 L124.6,406.0 L125.1,406.0 L125.6,406.0 L126.1,405.9 L126.6,405.9 L127.1,405.9 L127.6,405.8 L128.1,405.8 L128.6,405.8 L129.1,405.8 L129.6,405.7 L130.1,405.7 L130.6,405.7 L131.1,405.6 L131.6,405.6 L132.1,405.6 L132.6,405.5 L133.1,405.5 L133.6,405.5 L134.1,405.5 L134.6,405.4 L135.1,405.4 L135.6,405.4 L136.1,405.3 L136.6,405.3 L137.1,405.3 L137.6,405.2 L138.1,405.2 L138.6,405.2 L139.1,405.2 L139.6,405.1 L140.1,405.1 L140.6,405.1 L141.1,405.0 L141.6,405.0 L142.1,405.0 L142.6,404.9 L143.1,404.9 L143.6,404.9 L144.1,404.9 L144.6,404.8 L145.1,404.8 L145.6,404.8 L146.1,404.7 L146.6,404.7 L147.1,404.6 L147.6,404.6 L148.1,404.6 L148.6,404.5 L149.1,404.5 L149.6,404.4 L150.1,404.4 L150.6,404.4 L151.1,404.3 L151.6,404.3 L152.1,404.2 L152.6,404.2 L153.1,404.2 L153.6,404.1 L154.1,404.1 L154.6,404.0 L155.1,404.0 L155.6,404.0 L156.1,403.9 L156.6,403.9 L157.1,403.8 L157.6,403.8 L158.1,403.8 L158.6,403.7 L159.1,403.7 L159.6,403.6" fill="none" stroke="#20a88a" stroke-width="1.1"/>
<path d="M160.1,403.6 L160.6,403.6 L161.1,403.5 L161.6,403.5 L162.1,403.4 L162.6,403.4 L163.1,403.4 L163.6,403.3 L164.1,403.3 L164.6,403.2 L165.1,403.2 L165.6,403.2 L166.1,403.1 L166.6,403.1 L167.1,403.0 L167.6,403.0 L168.1,403.0 L168.6,402.9 L169.1,402.9 L169.6,402.8 L170.1,402.8 L170.6,402.7 L171.1,402.7 L171.6,402.6 L172.1,402.6 L172.6,402.5 L173.1,402.5 L173.6,402.4 L174.1,402.4 L174.6,402.3 L175.1,402.3 L175.6,402.2 L176.1,402.2 L176.6,402.1 L177.1,402.1 L177.6,402.0 L178.1,402.0 L178.6,401.9 L179.1,401.9 L179.6,401.8 L180.1,401.8 L180.6,401.8 L181.1,401.8 L181.6,401.8 L182.1,401.7 L182.6,401.7 L183.1,401.7 L183.6,401.7 L184.1,401.7 L184.6,401.7 L185.1,401.7 L185.6,401.7 L186.1,401.6 L186.6,401.6 L187.1,401.6 L187.6,401.6 L188.1,401.6 L188.6,401.6 L189.1,401.6 L189.6,401.5 L190.1,401.5 L190.6,401.5 L191.1,401.5 L191.6,401.5 L192.1,401.5 L192.6,401.5 L193.1,401.5 L193.6,401.4 L194.1,401.4 L194.6,401.4 L195.1,401.4 L195.6,401.4 L196.1,401.4 L196.6,401.4 L197.1,401.3 L197.6,401.3 L198.1,401.3 L198.6,401.3 L199.1,401.3 L199.6,401.3 L200.1,401.3 L200.6,401.3 L201.1,401.2 L201.6,401.2 L202.1,401.2 L202.6,401.2 L203.1,401.2 L203.6,401.2 L204.1,401.2 L204.6,401.1 L205.1,401.1 L205.6,401.1 L206.1,401.1 L206.6,401.1 L207.1,401.1 L207.6,401.1 L208.1,401.1 L208.6,401.0 L209.1,401.0 L209.6,401.0 L210.1,401.0 L210.6,401.0 L211.1,401.0 L211.6,401.0 L212.1,401.1 L212.6,401.1 L213.1,401.1 L213.6,401.1 L214.1,401.1 L214.6,401.1 L215.1,401.2 L215.6,401.2 L216.1,401.2 L216.6,401.2 L217.1,401.2 L217.6,401.2 L218.1,401.2 L218.6,401.3 L219.1,401.3 L219.6,401.3 L220.1,401.3 L220.6,401.3 L221.1,401.3 L221.6,401.3 L222.1,401.4 L222.6,401.4 L223.1,401.4 L223.6,401.4 L224.1,401.4 L224.6,401.4 L225.1,401.5 L225.6,401.5 L226.1,401.5 L226.6,401.5 L227.1,401.5 L227.6,401.5 L228.1,401.5 L228.6,401.6 L229.1,401.6 L229.6,401.6 L230.1,401.6 L230.6,401.6 L231.1,401.6 L231.6,401.5 L232.1,401.5 L232.6,401.5 L233.1,401.5 L233.6,401.5 L234.1,401.4 L234.6,401.4 L235.1,401.4 L235.6,401.4 L236.1,401.4 L236.6,401.3 L237.1,401.3 L237.6,401.3 L238.1,401.3 L238.6,401.3 L239.1,401.2 L239.6,401.2 L240.1,401.2 L240.6,401.2 L241.1,401.2 L241.6,401.2 L242.1,401.1 L242.6,401.1 L243.1,401.1 L243.6,401.1 L244.1,401.1 L244.6,401.0 L245.1,401.0 L245.6,401.0 L246.1,401.0 L246.6,401.0 L247.1,400.9 L247.6,400.9 L248.1,400.9 L248.6,400.9 L249.1,400.9 L249.6,400.8 L250.1,400.8 L250.6,400.8 L251.1,400.8 L251.6,400.8 L252.1,400.7 L252.6,400.7 L253.1,400.7 L253.6,400.7 L254.1,400.7 L254.6,400.6 L255.1,400.6 L255.6,400.6 L256.1,400.6 L256.6,400.6 L257.1,400.6 L257.6,400.5 L258.1,400.5 L258.6,400.5 L259.1,400.5 L259.6,400.5 L260.1,400.4 L260.6,400.4 L261.1,400.4 L261.6,400.4 L262.1,400.4 L262.6,400.3 L263.1,400.3" fill="none" stroke="#8068e0" stroke-width="1.1"/>
<path d="M31.0,408.1 L31.6,408.2 L32.2,408.4 L32.8,408.5 L33.4,408.5 L34.0,408.6 L34.6,407.8 L35.2,407.1 L35.8,406.7 L36.4,406.6 L37.0,406.5 L37.6,406.8 L38.2,407.1 L38.8,407.3 L39.4,407.4 L40.0,407.4 L40.6,407.6 L41.2,407.7 L41.8,407.4 L42.4,406.9 L43.0,406.3 L43.6,406.8 L44.2,407.4 L44.8,407.8 L45.4,408.1 L46.0,408.4 L46.6,408.4 L47.2,408.4 L47.8,408.4 L48.4,408.4 L49.0,408.5 L49.6,408.4 L50.2,408.4 L50.8,408.4 L51.4,408.5 L52.0,408.5 L52.6,407.5 L53.2,406.6 L53.8,406.6 L54.4,407.5 L55.0,407.7 L55.6,406.4 L56.2,406.0 L56.8,405.7 L57.4,405.7 L58.0,405.7 L58.6,405.8 L59.2,405.8 L59.8,406.1 L60.4,406.4 L61.0,406.8 L61.6,406.5 L62.2,406.1 L62.8,405.8 L63.4,405.5 L64.0,405.2 L64.6,405.2 L65.2,405.1 L65.8,405.3 L66.4,405.7 L67.0,406.0 L67.6,405.9 L68.2,405.7 L68.8,405.3 L69.4,404.7 L70.0,404.0 L70.6,404.0 L71.2,404.0 L71.8,404.0 L72.4,404.0 L73.0,404.0 L73.6,403.8 L74.2,403.6 L74.8,403.6 L75.4,403.7 L76.0,403.8 L76.6,403.4 L77.2,403.1 L77.8,402.9 L78.4,403.0 L79.0,403.1 L79.6,403.2 L80.2,403.2 L80.8,403.1 L81.4,402.8 L82.0,402.5 L82.6,401.9 L83.2,401.2 L83.8,400.8 L84.4,400.5 L85.0,400.3 L85.6,400.1 L86.2,399.8 L86.8,399.4 L87.4,399.0 L88.0,398.6 L88.6,397.9 L89.2,397.1 L89.8,396.3 L90.4,395.3 L91.0,394.3 L91.6,393.2 L92.2,391.9 L92.8,390.5 L93.4,388.8 L94.0,386.9 L94.6,384.9 L95.2,382.6 L95.8,380.0 L96.4,377.0 L97.0,373.8 L97.6,370.2 L98.2,366.3 L98.8,362.0 L99.4,357.5 L100.0,352.6 L100.6,347.4 L101.2,341.8 L101.8,335.9 L102.4,329.9 L103.0,323.6 L103.6,317.1 L104.2,310.6 L104.8,304.0 L105.4,297.6 L106.0,291.3 L106.6,285.2 L107.2,279.7 L107.8,274.6 L108.4,270.2 L109.0,266.5 L109.6,263.7 L110.2,262.1 L110.8,261.5 L111.4,261.5 L112.0,262.8 L112.6,265.2 L113.2,268.6 L113.8,272.8 L114.4,277.7 L115.0,283.1 L115.6,288.9 L116.2,295.1 L116.8,301.5 L117.4,308.1 L118.0,314.6 L118.6,321.0 L119.2,327.3 L119.8,333.4 L120.4,339.2 L121.0,344.5 L121.6,349.7 L122.2,354.4 L122.8,358.8 L123.4,362.9 L124.0,366.6 L124.6,369.8 L125.2,372.6 L125.8,375.0 L126.4,377.1 L127.0,378.9 L127.6,380.6 L128.2,382.0 L128.8,383.1 L129.4,384.1 L130.0,384.8 L130.6,386.2 L131.2,387.4 L131.8,388.5 L132.4,389.4 L133.0,390.3 L133.6,391.4 L134.2,392.5 L134.8,393.4 L135.4,394.1 L136.0,394.8 L136.6,395.1 L137.2,395.3 L137.8,395.6 L138.4,396.1 L139.0,396.4 L139.6,397.2 L140.2,398.1 L140.8,398.5 L141.4,398.6 L142.0,398.6 L142.6,398.7 L143.2,398.9 L143.8,399.1 L144.4,399.4 L145.0,399.8 L145.6,399.8 L146.2,399.8 L146.8,400.0 L147.4,400.5 L148.0,400.9 L148.6,401.2 L149.2,401.5 L149.8,401.6 L150.4,401.6 L151.0,401.5 L151.6,401.9 L152.2,402.3 L152.8,402.2 L153.4,401.6 L154.0,401.0 L154.6,401.6 L155.2,402.2 L155.8,402.7 L156.4,403.2 L157.0,403.7 L157.6,402.9 L158.2,402.1 L158.8,402.0 L159.4,402.4 L160.0,402.8 L160.6,403.0 L161.2,403.2 L161.8,403.2 L162.4,402.9 L163.0,402.7 L163.6,403.3 L164.2,404.0 L164.8,404.1 L165.4,403.6 L166.0,403.2 L166.6,403.2 L167.2,403.3 L167.8,403.5 L168.4,403.9 L169.0,404.3 L169.6,403.5 L170.2,402.7 L170.8,402.6 L171.4,403.2 L172.0,403.9 L172.6,403.1 L173.2,402.4 L173.8,402.0 L174.4,402.1 L175.0,402.2 L175.6,402.2 L176.2,402.2 L176.8,402.1 L177.4,402.0 L178.0,401.8 L178.6,401.3 L179.2,400.8 L179.8,400.6 L180.4,400.7 L181.0,400.9 L181.6,400.8 L182.2,400.8 L182.8,401.0 L183.4,401.5 L184.0,401.9 L184.6,401.8 L185.2,401.6 L185.8,401.4 L186.4,401.0 L187.0,400.5 L187.6,400.7 L188.2,400.9 L188.8,400.9 L189.4,400.7 L190.0,400.5 L190.6,400.0 L191.2,399.4 L191.8,399.0 L192.4,398.7 L193.0,398.4 L193.6,398.5 L194.2,398.6 L194.8,398.4 L195.4,398.0 L196.0,397.5 L196.6,397.0 L197.2,396.5 L197.8,396.2 L198.4,396.0 L199.0,395.6 L199.6,394.9 L200.2,394.0 L200.8,393.0 L201.4,391.8 L202.0,390.5 L202.6,389.2 L203.2,387.6 L203.8,386.0 L204.4,384.1 L205.0,382.0 L205.6,379.7 L206.2,377.3 L206.8,374.5 L207.4,371.5 L208.0,368.4 L208.6,365.0 L209.2,361.5 L209.8,357.7 L210.4,353.9 L211.0,349.8 L211.6,345.8 L212.2,341.6 L212.8,337.4 L213.4,333.2 L214.0,329.0 L214.6,324.9 L215.2,321.0 L215.8,317.3 L216.4,313.8 L217.0,310.6 L217.6,307.8 L218.2,305.5 L218.8,303.6 L219.4,302.3 L220.0,301.5 L220.6,301.1 L221.2,301.1 L221.8,301.9 L222.4,303.3 L223.0,305.2 L223.6,307.4 L224.2,310.1 L224.8,313.1 L225.4,316.5 L226.0,320.2 L226.6,324.0 L227.2,328.0 L227.8,332.1 L228.4,336.2 L229.0,340.3 L229.6,344.4 L230.2,348.5 L230.8,352.4 L231.4,356.3 L232.0,360.0 L232.6,363.5 L233.2,366.9 L233.8,370.0 L234.4,372.8 L235.0,375.4 L235.6,378.0 L236.2,380.3 L236.8,382.4 L237.4,384.2 L238.0,385.7 L238.6,387.2 L239.2,388.5 L239.8,389.6 L240.4,390.6 L241.0,391.4 L241.6,392.2 L242.2,392.9 L242.8,393.7 L243.4,394.3 L244.0,394.9 L244.6,395.6 L245.2,396.2 L245.8,396.6 L246.4,396.7 L247.0,396.7 L247.6,396.7 L248.2,396.7 L248.8,396.8 L249.4,397.1 L250.0,397.3 L250.6,397.2 L251.2,397.1 L251.8,397.1 L252.4,397.1 L253.0,397.2 L253.6,397.7 L254.2,398.1 L254.8,398.4 L255.4,398.6 L256.0,398.7 L256.6,398.5 L257.2,398.3 L257.8,398.3 L258.4,398.5 L259.0,398.7 L259.6,398.4 L260.2,398.2 L260.8,398.4 L261.4,399.0 L262.0,399.6 L262.6,399.4 L263.2,399.2" fill="none" stroke="#2a2a2a" stroke-width="0.9"/>
<rect x="30.5" y="240.5" width="233.1" height="183.6" fill="none" stroke="#1a1a1a" stroke-width="1.0"/>
<path d="M30.30,424.10 V427.30 M95.15,424.10 V427.30 M160.00,424.10 V427.30 M224.85,424.10 V427.30 M62.73,424.10 V426.30 M127.58,424.10 V426.30 M192.43,424.10 V426.30 M257.28,424.10 V426.30 " stroke="#333" stroke-width="1.2" fill="none"/>
<text x="30.3" y="438.3" font-size="9.9" font-weight="bold" fill="#111" text-anchor="middle">480</text>
<text x="95.15" y="438.3" font-size="9.9" font-weight="bold" fill="#111" text-anchor="middle">485</text>
<text x="160" y="438.3" font-size="9.9" font-weight="bold" fill="#111" text-anchor="middle">490</text>
<text x="224.85" y="438.3" font-size="9.9" font-weight="bold" fill="#111" text-anchor="middle">495</text>
<text x="147.2" y="450.3" font-size="9.7" font-weight="bold" fill="#111" text-anchor="middle">Binding energy (eV)</text>
<text transform="translate(16.2,328.9) rotate(-90)" x="0" y="0" font-size="9.7" font-weight="bold" fill="#111" text-anchor="middle">Intensity (a.u.)</text>
<text x="32.77" y="256.7" font-size="16.5" font-weight="bold" fill="#111" style="stroke-width:0.1px">(c)</text>
<text x="118.81" y="267.8" font-size="9.7" font-weight="bold" fill="#111">Sn 3d</text>
<text x="145.36" y="270.4" font-size="6.9" font-weight="bold" fill="#111">3/2</text>
<text x="203.01" y="296.9" font-size="9.7" font-weight="bold" fill="#111">Sn 3d</text>
<text x="229.56" y="299.5" font-size="6.9" font-weight="bold" fill="#111">3/2</text>
<clipPath id="cd_m"><path d="M342.0,416.4 L342.5,416.4 L343.0,416.4 L343.5,416.4 L344.0,416.4 L344.5,416.4 L345.0,416.3 L345.5,416.3 L346.0,416.3 L346.5,416.3 L347.0,416.3 L347.5,416.3 L348.0,416.2 L348.5,416.2 L349.0,416.2 L349.5,416.2 L350.0,416.1 L350.5,416.1 L351.0,416.1 L351.5,416.0 L352.0,416.0 L352.5,415.9 L353.0,415.9 L353.5,415.8 L354.0,415.8 L354.5,415.7 L355.0,415.7 L355.5,415.6 L356.0,415.5 L356.5,415.4 L357.0,415.3 L357.5,415.2 L358.0,415.1 L358.5,415.0 L359.0,414.9 L359.5,414.8 L360.0,414.6 L360.5,414.5 L361.0,414.3 L361.5,414.1 L362.0,413.9 L362.5,413.7 L363.0,413.5 L363.5,413.3 L364.0,413.1 L364.5,412.8 L365.0,412.5 L365.5,412.2 L366.0,411.9 L366.5,411.6 L367.0,411.3 L367.5,410.9 L368.0,410.5 L368.5,410.1 L369.0,409.7 L369.5,409.2 L370.0,408.7 L370.5,408.2 L371.0,407.7 L371.5,407.1 L372.0,406.6 L372.5,405.9 L373.0,405.3 L373.5,404.6 L374.0,403.9 L374.5,403.2 L375.0,402.4 L375.5,401.6 L376.0,400.8 L376.5,399.9 L377.0,399.1 L377.5,398.1 L378.0,397.2 L378.5,396.2 L379.0,395.2 L379.5,394.1 L380.0,393.0 L380.5,391.9 L381.0,390.7 L381.5,389.5 L382.0,388.3 L382.5,387.1 L383.0,385.8 L383.5,384.5 L384.0,383.1 L384.5,381.8 L385.0,380.4 L385.5,379.0 L386.0,377.5 L386.5,376.1 L387.0,374.6 L387.5,373.1 L388.0,371.6 L388.5,370.0 L389.0,368.5 L389.5,366.9 L390.0,365.4 L390.5,363.8 L391.0,362.3 L391.5,360.7 L392.0,359.1 L392.5,357.6 L393.0,356.1 L393.5,354.5 L394.0,353.0 L394.5,351.5 L395.0,350.0 L395.5,348.6 L396.0,347.1 L396.5,345.7 L397.0,344.4 L397.5,343.0 L398.0,341.7 L398.5,340.5 L399.0,339.3 L399.5,338.1 L400.0,337.0 L400.5,336.0 L401.0,334.9 L401.5,334.0 L402.0,333.1 L402.5,332.3 L403.0,331.5 L403.5,330.8 L404.0,330.2 L404.5,329.6 L405.0,329.1 L405.5,328.7 L406.0,328.4 L406.5,328.1 L407.0,327.9 L407.5,327.7 L408.0,327.7 L408.5,327.7 L409.0,327.8 L409.5,328.0 L410.0,328.2 L410.5,328.5 L411.0,328.9 L411.5,329.4 L412.0,329.9 L412.5,330.5 L413.0,331.2 L413.5,331.9 L414.0,332.7 L414.5,333.6 L415.0,334.5 L415.5,335.5 L416.0,336.5 L416.5,337.6 L417.0,338.7 L417.5,339.9 L418.0,341.2 L418.5,342.4 L419.0,343.7 L419.5,345.1 L420.0,346.5 L420.5,347.9 L421.0,349.3 L421.5,350.8 L422.0,352.3 L422.5,353.8 L423.0,355.3 L423.5,356.9 L424.0,358.4 L424.5,360.0 L425.0,361.5 L425.5,363.1 L426.0,364.6 L426.5,366.2 L427.0,367.7 L427.5,369.3 L428.0,370.8 L428.5,372.3 L429.0,373.8 L429.5,375.3 L430.0,376.8 L430.5,378.2 L431.0,379.6 L431.5,381.0 L432.0,382.4 L432.5,383.7 L433.0,385.1 L433.5,386.3 L434.0,387.6 L434.5,388.8 L435.0,390.0 L435.5,391.2 L436.0,392.3 L436.5,393.4 L437.0,394.5 L437.5,395.5 L438.0,396.5 L438.5,397.5 L439.0,398.4 L439.5,399.3 L440.0,400.2 L440.5,401.1 L441.0,401.9 L441.5,402.6 L442.0,403.4 L442.5,404.1 L443.0,404.8 L443.5,405.4 L444.0,406.0 L444.5,406.6 L445.0,407.2 L445.5,407.7 L446.0,408.2 L446.5,408.7 L447.0,409.2 L447.5,409.6 L448.0,410.0 L448.5,410.4 L449.0,410.8 L449.5,411.1 L450.0,411.5 L450.5,411.8 L451.0,412.1 L451.5,412.4 L452.0,412.6 L452.5,412.9 L453.0,413.1 L453.5,413.3 L454.0,413.5 L454.5,413.7 L455.0,413.9 L455.5,414.0 L456.0,414.2 L456.5,414.3 L457.0,414.4 L457.5,414.6 L458.0,414.7 L458.5,414.8 L459.0,414.9 L459.5,415.0 L460.0,415.1 L460.5,415.1 L461.0,415.2 L461.5,415.3 L462.0,415.3 L462.5,415.4 L463.0,415.4 L463.5,415.5 L464.0,415.5 L464.5,415.6 L465.0,415.6 L465.5,415.6 L466.0,415.7 L466.5,415.7 L467.0,415.7 L467.5,415.7 L468.0,415.7 L468.5,415.8 L469.0,415.8 L469.5,415.8 L470.0,415.8 L470.5,415.8 L471.0,415.8 L471.5,415.8 L472.0,415.8 L472.5,415.9 L473.0,415.9 L473.5,415.9 L474.0,415.9 L474.5,415.9 L474.5,417.9 L474.0,417.9 L473.5,417.9 L473.0,417.9 L472.5,417.9 L472.0,417.9 L471.5,417.9 L471.0,417.9 L470.5,417.9 L470.0,417.9 L469.5,417.9 L469.0,417.9 L468.5,418.0 L468.0,418.0 L467.5,418.0 L467.0,418.0 L466.5,418.0 L466.0,418.0 L465.5,418.0 L465.0,418.0 L464.5,418.0 L464.0,418.0 L463.5,418.0 L463.0,418.0 L462.5,418.0 L462.0,418.0 L461.5,418.0 L461.0,418.0 L460.5,418.0 L460.0,418.0 L459.5,418.0 L459.0,418.0 L458.5,418.0 L458.0,418.0 L457.5,418.0 L457.0,418.0 L456.5,418.0 L456.0,418.0 L455.5,418.0 L455.0,418.0 L454.5,418.0 L454.0,418.0 L453.5,418.0 L453.0,418.0 L452.5,418.0 L452.0,418.0 L451.5,418.0 L451.0,418.0 L450.5,418.0 L450.0,418.0 L449.5,418.0 L449.0,418.0 L448.5,418.0 L448.0,418.0 L447.5,418.0 L447.0,418.0 L446.5,418.0 L446.0,418.0 L445.5,418.0 L445.0,418.0 L444.5,418.0 L444.0,418.0 L443.5,418.1 L443.0,418.1 L442.5,418.1 L442.0,418.1 L441.5,418.1 L441.0,418.1 L440.5,418.1 L440.0,418.1 L439.5,418.1 L439.0,418.1 L438.5,418.1 L438.0,418.1 L437.5,418.1 L437.0,418.1 L436.5,418.1 L436.0,418.1 L435.5,418.1 L435.0,418.1 L434.5,418.1 L434.0,418.1 L433.5,418.1 L433.0,418.1 L432.5,418.1 L432.0,418.1 L431.5,418.1 L431.0,418.1 L430.5,418.1 L430.0,418.1 L429.5,418.1 L429.0,418.1 L428.5,418.1 L428.0,418.1 L427.5,418.1 L427.0,418.1 L426.5,418.1 L426.0,418.1 L425.5,418.1 L425.0,418.1 L424.5,418.1 L424.0,418.1 L423.5,418.1 L423.0,418.1 L422.5,418.1 L422.0,418.1 L421.5,418.1 L421.0,418.1 L420.5,418.1 L420.0,418.1 L419.5,418.1 L419.0,418.1 L418.5,418.2 L418.0,418.2 L417.5,418.2 L417.0,418.2 L416.5,418.2 L416.0,418.2 L415.5,418.2 L415.0,418.2 L414.5,418.2 L414.0,418.2 L413.5,418.2 L413.0,418.2 L412.5,418.2 L412.0,418.2 L411.5,418.2 L411.0,418.2 L410.5,418.2 L410.0,418.2 L409.5,418.2 L409.0,418.2 L408.5,418.2 L408.0,418.2 L407.5,418.2 L407.0,418.2 L406.5,418.2 L406.0,418.2 L405.5,418.2 L405.0,418.2 L404.5,418.2 L404.0,418.2 L403.5,418.2 L403.0,418.2 L402.5,418.2 L402.0,418.2 L401.5,418.2 L401.0,418.2 L400.5,418.2 L400.0,418.2 L399.5,418.2 L399.0,418.2 L398.5,418.2 L398.0,418.2 L397.5,418.2 L397.0,418.2 L396.5,418.2 L396.0,418.2 L395.5,418.2 L395.0,418.2 L394.5,418.2 L394.0,418.2 L393.5,418.2 L393.0,418.3 L392.5,418.3 L392.0,418.3 L391.5,418.3 L391.0,418.3 L390.5,418.3 L390.0,418.3 L389.5,418.3 L389.0,418.3 L388.5,418.3 L388.0,418.3 L387.5,418.3 L387.0,418.3 L386.5,418.3 L386.0,418.3 L385.5,418.3 L385.0,418.3 L384.5,418.3 L384.0,418.3 L383.5,418.3 L383.0,418.3 L382.5,418.3 L382.0,418.3 L381.5,418.3 L381.0,418.3 L380.5,418.3 L380.0,418.3 L379.5,418.3 L379.0,418.3 L378.5,418.3 L378.0,418.3 L377.5,418.3 L377.0,418.3 L376.5,418.3 L376.0,418.3 L375.5,418.3 L375.0,418.3 L374.5,418.3 L374.0,418.3 L373.5,418.3 L373.0,418.3 L372.5,418.3 L372.0,418.3 L371.5,418.3 L371.0,418.3 L370.5,418.3 L370.0,418.3 L369.5,418.3 L369.0,418.3 L368.5,418.4 L368.0,418.4 L367.5,418.4 L367.0,418.4 L366.5,418.4 L366.0,418.4 L365.5,418.4 L365.0,418.4 L364.5,418.4 L364.0,418.4 L363.5,418.4 L363.0,418.4 L362.5,418.4 L362.0,418.4 L361.5,418.4 L361.0,418.4 L360.5,418.4 L360.0,418.4 L359.5,418.4 L359.0,418.4 L358.5,418.4 L358.0,418.4 L357.5,418.4 L357.0,418.4 L356.5,418.4 L356.0,418.4 L355.5,418.4 L355.0,418.4 L354.5,418.4 L354.0,418.4 L353.5,418.4 L353.0,418.4 L352.5,418.4 L352.0,418.4 L351.5,418.4 L351.0,418.4 L350.5,418.4 L350.0,418.4 L349.5,418.4 L349.0,418.4 L348.5,418.4 L348.0,418.4 L347.5,418.4 L347.0,418.4 L346.5,418.4 L346.0,418.4 L345.5,418.4 L345.0,418.4 L344.5,418.4 L344.0,418.4 L343.5,418.5 L343.0,418.5 L342.5,418.5 L342.0,418.5 Z"/></clipPath>
<clipPath id="cd_g"><path d="M378.0,416.3 L378.5,416.3 L379.0,416.2 L379.5,416.2 L380.0,416.2 L380.5,416.2 L381.0,416.2 L381.5,416.2 L382.0,416.2 L382.5,416.1 L383.0,416.1 L383.5,416.1 L384.0,416.1 L384.5,416.0 L385.0,416.0 L385.5,416.0 L386.0,415.9 L386.5,415.9 L387.0,415.8 L387.5,415.8 L388.0,415.7 L388.5,415.6 L389.0,415.5 L389.5,415.5 L390.0,415.4 L390.5,415.3 L391.0,415.2 L391.5,415.0 L392.0,414.9 L392.5,414.8 L393.0,414.6 L393.5,414.4 L394.0,414.2 L394.5,414.0 L395.0,413.8 L395.5,413.6 L396.0,413.3 L396.5,413.0 L397.0,412.7 L397.5,412.4 L398.0,412.0 L398.5,411.7 L399.0,411.2 L399.5,410.8 L400.0,410.3 L400.5,409.8 L401.0,409.3 L401.5,408.7 L402.0,408.1 L402.5,407.5 L403.0,406.8 L403.5,406.0 L404.0,405.2 L404.5,404.4 L405.0,403.5 L405.5,402.6 L406.0,401.7 L406.5,400.6 L407.0,399.6 L407.5,398.4 L408.0,397.3 L408.5,396.0 L409.0,394.7 L409.5,393.4 L410.0,392.0 L410.5,390.5 L411.0,389.0 L411.5,387.5 L412.0,385.9 L412.5,384.2 L413.0,382.5 L413.5,380.7 L414.0,378.9 L414.5,377.0 L415.0,375.1 L415.5,373.1 L416.0,371.1 L416.5,369.1 L417.0,367.0 L417.5,364.9 L418.0,362.8 L418.5,360.6 L419.0,358.4 L419.5,356.3 L420.0,354.1 L420.5,351.8 L421.0,349.6 L421.5,347.4 L422.0,345.3 L422.5,343.1 L423.0,340.9 L423.5,338.8 L424.0,336.7 L424.5,334.7 L425.0,332.7 L425.5,330.7 L426.0,328.8 L426.5,327.0 L427.0,325.2 L427.5,323.5 L428.0,321.9 L428.5,320.4 L429.0,319.0 L429.5,317.6 L430.0,316.4 L430.5,315.2 L431.0,314.2 L431.5,313.3 L432.0,312.5 L432.5,311.8 L433.0,311.2 L433.5,310.7 L434.0,310.4 L434.5,310.2 L435.0,310.1 L435.5,310.1 L436.0,310.3 L436.5,310.6 L437.0,311.0 L437.5,311.5 L438.0,312.1 L438.5,312.9 L439.0,313.8 L439.5,314.8 L440.0,315.9 L440.5,317.1 L441.0,318.4 L441.5,319.8 L442.0,321.3 L442.5,322.8 L443.0,324.5 L443.5,326.2 L444.0,328.0 L444.5,329.9 L445.0,331.8 L445.5,333.8 L446.0,335.8 L446.5,337.9 L447.0,340.0 L447.5,342.1 L448.0,344.3 L448.5,346.5 L449.0,348.7 L449.5,350.9 L450.0,353.1 L450.5,355.2 L451.0,357.4 L451.5,359.6 L452.0,361.8 L452.5,363.9 L453.0,366.0 L453.5,368.1 L454.0,370.2 L454.5,372.2 L455.0,374.1 L455.5,376.1 L456.0,378.0 L456.5,379.8 L457.0,381.6 L457.5,383.3 L458.0,385.0 L458.5,386.6 L459.0,388.2 L459.5,389.8 L460.0,391.2 L460.5,392.6 L461.0,394.0 L461.5,395.3 L462.0,396.6 L462.5,397.8 L463.0,398.9 L463.5,400.0 L464.0,401.0 L464.5,402.0 L465.0,402.9 L465.5,403.8 L466.0,404.7 L466.5,405.5 L467.0,406.2 L467.5,406.9 L468.0,407.6 L468.5,408.2 L469.0,408.8 L469.5,409.3 L470.0,409.9 L470.5,410.3 L471.0,410.8 L471.5,411.2 L472.0,411.6 L472.5,411.9 L473.0,412.3 L473.5,412.6 L474.0,412.9 L474.5,413.1 L475.0,413.4 L475.5,413.6 L476.0,413.8 L476.5,414.0 L477.0,414.2 L477.5,414.4 L478.0,414.5 L478.5,414.6 L479.0,414.8 L479.5,414.9 L480.0,415.0 L480.5,415.1 L481.0,415.1 L481.5,415.2 L482.0,415.3 L482.5,415.3 L483.0,415.4 L483.5,415.5 L484.0,415.5 L484.5,415.5 L485.0,415.6 L485.5,415.6 L486.0,415.6 L486.5,415.7 L487.0,415.7 L487.5,415.7 L488.0,415.7 L488.5,415.7 L489.0,415.8 L489.5,415.8 L490.0,415.8 L490.5,415.8 L491.0,415.8 L491.5,415.8 L492.0,415.8 L492.0,417.9 L491.5,417.9 L491.0,417.9 L490.5,417.9 L490.0,417.9 L489.5,417.9 L489.0,417.9 L488.5,417.9 L488.0,417.9 L487.5,417.9 L487.0,417.9 L486.5,417.9 L486.0,417.9 L485.5,417.9 L485.0,417.9 L484.5,417.9 L484.0,417.9 L483.5,417.9 L483.0,417.9 L482.5,417.9 L482.0,417.9 L481.5,417.9 L481.0,417.9 L480.5,417.9 L480.0,417.9 L479.5,417.9 L479.0,417.9 L478.5,417.9 L478.0,417.9 L477.5,417.9 L477.0,417.9 L476.5,417.9 L476.0,417.9 L475.5,417.9 L475.0,417.9 L474.5,417.9 L474.0,417.9 L473.5,417.9 L473.0,417.9 L472.5,417.9 L472.0,417.9 L471.5,417.9 L471.0,417.9 L470.5,417.9 L470.0,417.9 L469.5,417.9 L469.0,417.9 L468.5,418.0 L468.0,418.0 L467.5,418.0 L467.0,418.0 L466.5,418.0 L466.0,418.0 L465.5,418.0 L465.0,418.0 L464.5,418.0 L464.0,418.0 L463.5,418.0 L463.0,418.0 L462.5,418.0 L462.0,418.0 L461.5,418.0 L461.0,418.0 L460.5,418.0 L460.0,418.0 L459.5,418.0 L459.0,418.0 L458.5,418.0 L458.0,418.0 L457.5,418.0 L457.0,418.0 L456.5,418.0 L456.0,418.0 L455.5,418.0 L455.0,418.0 L454.5,418.0 L454.0,418.0 L453.5,418.0 L453.0,418.0 L452.5,418.0 L452.0,418.0 L451.5,418.0 L451.0,418.0 L450.5,418.0 L450.0,418.0 L449.5,418.0 L449.0,418.0 L448.5,418.0 L448.0,418.0 L447.5,418.0 L447.0,418.0 L446.5,418.0 L446.0,418.0 L445.5,418.0 L445.0,418.0 L444.5,418.0 L444.0,418.0 L443.5,418.1 L443.0,418.1 L442.5,418.1 L442.0,418.1 L441.5,418.1 L441.0,418.1 L440.5,418.1 L440.0,418.1 L439.5,418.1 L439.0,418.1 L438.5,418.1 L438.0,418.1 L437.5,418.1 L437.0,418.1 L436.5,418.1 L436.0,418.1 L435.5,418.1 L435.0,418.1 L434.5,418.1 L434.0,418.1 L433.5,418.1 L433.0,418.1 L432.5,418.1 L432.0,418.1 L431.5,418.1 L431.0,418.1 L430.5,418.1 L430.0,418.1 L429.5,418.1 L429.0,418.1 L428.5,418.1 L428.0,418.1 L427.5,418.1 L427.0,418.1 L426.5,418.1 L426.0,418.1 L425.5,418.1 L425.0,418.1 L424.5,418.1 L424.0,418.1 L423.5,418.1 L423.0,418.1 L422.5,418.1 L422.0,418.1 L421.5,418.1 L421.0,418.1 L420.5,418.1 L420.0,418.1 L419.5,418.1 L419.0,418.1 L418.5,418.2 L418.0,418.2 L417.5,418.2 L417.0,418.2 L416.5,418.2 L416.0,418.2 L415.5,418.2 L415.0,418.2 L414.5,418.2 L414.0,418.2 L413.5,418.2 L413.0,418.2 L412.5,418.2 L412.0,418.2 L411.5,418.2 L411.0,418.2 L410.5,418.2 L410.0,418.2 L409.5,418.2 L409.0,418.2 L408.5,418.2 L408.0,418.2 L407.5,418.2 L407.0,418.2 L406.5,418.2 L406.0,418.2 L405.5,418.2 L405.0,418.2 L404.5,418.2 L404.0,418.2 L403.5,418.2 L403.0,418.2 L402.5,418.2 L402.0,418.2 L401.5,418.2 L401.0,418.2 L400.5,418.2 L400.0,418.2 L399.5,418.2 L399.0,418.2 L398.5,418.2 L398.0,418.2 L397.5,418.2 L397.0,418.2 L396.5,418.2 L396.0,418.2 L395.5,418.2 L395.0,418.2 L394.5,418.2 L394.0,418.2 L393.5,418.2 L393.0,418.3 L392.5,418.3 L392.0,418.3 L391.5,418.3 L391.0,418.3 L390.5,418.3 L390.0,418.3 L389.5,418.3 L389.0,418.3 L388.5,418.3 L388.0,418.3 L387.5,418.3 L387.0,418.3 L386.5,418.3 L386.0,418.3 L385.5,418.3 L385.0,418.3 L384.5,418.3 L384.0,418.3 L383.5,418.3 L383.0,418.3 L382.5,418.3 L382.0,418.3 L381.5,418.3 L381.0,418.3 L380.5,418.3 L380.0,418.3 L379.5,418.3 L379.0,418.3 L378.5,418.3 L378.0,418.3 Z"/></clipPath>
<path d="M342.0,416.4 L342.5,416.4 L343.0,416.4 L343.5,416.4 L344.0,416.4 L344.5,416.4 L345.0,416.3 L345.5,416.3 L346.0,416.3 L346.5,416.3 L347.0,416.3 L347.5,416.3 L348.0,416.2 L348.5,416.2 L349.0,416.2 L349.5,416.2 L350.0,416.1 L350.5,416.1 L351.0,416.1 L351.5,416.0 L352.0,416.0 L352.5,415.9 L353.0,415.9 L353.5,415.8 L354.0,415.8 L354.5,415.7 L355.0,415.7 L355.5,415.6 L356.0,415.5 L356.5,415.4 L357.0,415.3 L357.5,415.2 L358.0,415.1 L358.5,415.0 L359.0,414.9 L359.5,414.8 L360.0,414.6 L360.5,414.5 L361.0,414.3 L361.5,414.1 L362.0,413.9 L362.5,413.7 L363.0,413.5 L363.5,413.3 L364.0,413.1 L364.5,412.8 L365.0,412.5 L365.5,412.2 L366.0,411.9 L366.5,411.6 L367.0,411.3 L367.5,410.9 L368.0,410.5 L368.5,410.1 L369.0,409.7 L369.5,409.2 L370.0,408.7 L370.5,408.2 L371.0,407.7 L371.5,407.1 L372.0,406.6 L372.5,405.9 L373.0,405.3 L373.5,404.6 L374.0,403.9 L374.5,403.2 L375.0,402.4 L375.5,401.6 L376.0,400.8 L376.5,399.9 L377.0,399.1 L377.5,398.1 L378.0,397.2 L378.5,396.2 L379.0,395.2 L379.5,394.1 L380.0,393.0 L380.5,391.9 L381.0,390.7 L381.5,389.5 L382.0,388.3 L382.5,387.1 L383.0,385.8 L383.5,384.5 L384.0,383.1 L384.5,381.8 L385.0,380.4 L385.5,379.0 L386.0,377.5 L386.5,376.1 L387.0,374.6 L387.5,373.1 L388.0,371.6 L388.5,370.0 L389.0,368.5 L389.5,366.9 L390.0,365.4 L390.5,363.8 L391.0,362.3 L391.5,360.7 L392.0,359.1 L392.5,357.6 L393.0,356.1 L393.5,354.5 L394.0,353.0 L394.5,351.5 L395.0,350.0 L395.5,348.6 L396.0,347.1 L396.5,345.7 L397.0,344.4 L397.5,343.0 L398.0,341.7 L398.5,340.5 L399.0,339.3 L399.5,338.1 L400.0,337.0 L400.5,336.0 L401.0,334.9 L401.5,334.0 L402.0,333.1 L402.5,332.3 L403.0,331.5 L403.5,330.8 L404.0,330.2 L404.5,329.6 L405.0,329.1 L405.5,328.7 L406.0,328.4 L406.5,328.1 L407.0,327.9 L407.5,327.7 L408.0,327.7 L408.5,327.7 L409.0,327.8 L409.5,328.0 L410.0,328.2 L410.5,328.5 L411.0,328.9 L411.5,329.4 L412.0,329.9 L412.5,330.5 L413.0,331.2 L413.5,331.9 L414.0,332.7 L414.5,333.6 L415.0,334.5 L415.5,335.5 L416.0,336.5 L416.5,337.6 L417.0,338.7 L417.5,339.9 L418.0,341.2 L418.5,342.4 L419.0,343.7 L419.5,345.1 L420.0,346.5 L420.5,347.9 L421.0,349.3 L421.5,350.8 L422.0,352.3 L422.5,353.8 L423.0,355.3 L423.5,356.9 L424.0,358.4 L424.5,360.0 L425.0,361.5 L425.5,363.1 L426.0,364.6 L426.5,366.2 L427.0,367.7 L427.5,369.3 L428.0,370.8 L428.5,372.3 L429.0,373.8 L429.5,375.3 L430.0,376.8 L430.5,378.2 L431.0,379.6 L431.5,381.0 L432.0,382.4 L432.5,383.7 L433.0,385.1 L433.5,386.3 L434.0,387.6 L434.5,388.8 L435.0,390.0 L435.5,391.2 L436.0,392.3 L436.5,393.4 L437.0,394.5 L437.5,395.5 L438.0,396.5 L438.5,397.5 L439.0,398.4 L439.5,399.3 L440.0,400.2 L440.5,401.1 L441.0,401.9 L441.5,402.6 L442.0,403.4 L442.5,404.1 L443.0,404.8 L443.5,405.4 L444.0,406.0 L444.5,406.6 L445.0,407.2 L445.5,407.7 L446.0,408.2 L446.5,408.7 L447.0,409.2 L447.5,409.6 L448.0,410.0 L448.5,410.4 L449.0,410.8 L449.5,411.1 L450.0,411.5 L450.5,411.8 L451.0,412.1 L451.5,412.4 L452.0,412.6 L452.5,412.9 L453.0,413.1 L453.5,413.3 L454.0,413.5 L454.5,413.7 L455.0,413.9 L455.5,414.0 L456.0,414.2 L456.5,414.3 L457.0,414.4 L457.5,414.6 L458.0,414.7 L458.5,414.8 L459.0,414.9 L459.5,415.0 L460.0,415.1 L460.5,415.1 L461.0,415.2 L461.5,415.3 L462.0,415.3 L462.5,415.4 L463.0,415.4 L463.5,415.5 L464.0,415.5 L464.5,415.6 L465.0,415.6 L465.5,415.6 L466.0,415.7 L466.5,415.7 L467.0,415.7 L467.5,415.7 L468.0,415.7 L468.5,415.8 L469.0,415.8 L469.5,415.8 L470.0,415.8 L470.5,415.8 L471.0,415.8 L471.5,415.8 L472.0,415.8 L472.5,415.9 L473.0,415.9 L473.5,415.9 L474.0,415.9 L474.5,415.9 L474.5,415.9 L474.0,415.9 L473.5,415.9 L473.0,415.9 L472.5,415.9 L472.0,415.9 L471.5,415.9 L471.0,415.9 L470.5,415.9 L470.0,415.9 L469.5,415.9 L469.0,415.9 L468.5,416.0 L468.0,416.0 L467.5,416.0 L467.0,416.0 L466.5,416.0 L466.0,416.0 L465.5,416.0 L465.0,416.0 L464.5,416.0 L464.0,416.0 L463.5,416.0 L463.0,416.0 L462.5,416.0 L462.0,416.0 L461.5,416.0 L461.0,416.0 L460.5,416.0 L460.0,416.0 L459.5,416.0 L459.0,416.0 L458.5,416.0 L458.0,416.0 L457.5,416.0 L457.0,416.0 L456.5,416.0 L456.0,416.0 L455.5,416.0 L455.0,416.0 L454.5,416.0 L454.0,416.0 L453.5,416.0 L453.0,416.0 L452.5,416.0 L452.0,416.0 L451.5,416.0 L451.0,416.0 L450.5,416.0 L450.0,416.0 L449.5,416.0 L449.0,416.0 L448.5,416.0 L448.0,416.0 L447.5,416.0 L447.0,416.0 L446.5,416.0 L446.0,416.0 L445.5,416.0 L445.0,416.0 L444.5,416.0 L444.0,416.0 L443.5,416.1 L443.0,416.1 L442.5,416.1 L442.0,416.1 L441.5,416.1 L441.0,416.1 L440.5,416.1 L440.0,416.1 L439.5,416.1 L439.0,416.1 L438.5,416.1 L438.0,416.1 L437.5,416.1 L437.0,416.1 L436.5,416.1 L436.0,416.1 L435.5,416.1 L435.0,416.1 L434.5,416.1 L434.0,416.1 L433.5,416.1 L433.0,416.1 L432.5,416.1 L432.0,416.1 L431.5,416.1 L431.0,416.1 L430.5,416.1 L430.0,416.1 L429.5,416.1 L429.0,416.1 L428.5,416.1 L428.0,416.1 L427.5,416.1 L427.0,416.1 L426.5,416.1 L426.0,416.1 L425.5,416.1 L425.0,416.1 L424.5,416.1 L424.0,416.1 L423.5,416.1 L423.0,416.1 L422.5,416.1 L422.0,416.1 L421.5,416.1 L421.0,416.1 L420.5,416.1 L420.0,416.1 L419.5,416.1 L419.0,416.1 L418.5,416.2 L418.0,416.2 L417.5,416.2 L417.0,416.2 L416.5,416.2 L416.0,416.2 L415.5,416.2 L415.0,416.2 L414.5,416.2 L414.0,416.2 L413.5,416.2 L413.0,416.2 L412.5,416.2 L412.0,416.2 L411.5,416.2 L411.0,416.2 L410.5,416.2 L410.0,416.2 L409.5,416.2 L409.0,416.2 L408.5,416.2 L408.0,416.2 L407.5,416.2 L407.0,416.2 L406.5,416.2 L406.0,416.2 L405.5,416.2 L405.0,416.2 L404.5,416.2 L404.0,416.2 L403.5,416.2 L403.0,416.2 L402.5,416.2 L402.0,416.2 L401.5,416.2 L401.0,416.2 L400.5,416.2 L400.0,416.2 L399.5,416.2 L399.0,416.2 L398.5,416.2 L398.0,416.2 L397.5,416.2 L397.0,416.2 L396.5,416.2 L396.0,416.2 L395.5,416.2 L395.0,416.2 L394.5,416.2 L394.0,416.2 L393.5,416.2 L393.0,416.3 L392.5,416.3 L392.0,416.3 L391.5,416.3 L391.0,416.3 L390.5,416.3 L390.0,416.3 L389.5,416.3 L389.0,416.3 L388.5,416.3 L388.0,416.3 L387.5,416.3 L387.0,416.3 L386.5,416.3 L386.0,416.3 L385.5,416.3 L385.0,416.3 L384.5,416.3 L384.0,416.3 L383.5,416.3 L383.0,416.3 L382.5,416.3 L382.0,416.3 L381.5,416.3 L381.0,416.3 L380.5,416.3 L380.0,416.3 L379.5,416.3 L379.0,416.3 L378.5,416.3 L378.0,416.3 L377.5,416.3 L377.0,416.3 L376.5,416.3 L376.0,416.3 L375.5,416.3 L375.0,416.3 L374.5,416.3 L374.0,416.3 L373.5,416.3 L373.0,416.3 L372.5,416.3 L372.0,416.3 L371.5,416.3 L371.0,416.3 L370.5,416.3 L370.0,416.3 L369.5,416.3 L369.0,416.3 L368.5,416.4 L368.0,416.4 L367.5,416.4 L367.0,416.4 L366.5,416.4 L366.0,416.4 L365.5,416.4 L365.0,416.4 L364.5,416.4 L364.0,416.4 L363.5,416.4 L363.0,416.4 L362.5,416.4 L362.0,416.4 L361.5,416.4 L361.0,416.4 L360.5,416.4 L360.0,416.4 L359.5,416.4 L359.0,416.4 L358.5,416.4 L358.0,416.4 L357.5,416.4 L357.0,416.4 L356.5,416.4 L356.0,416.4 L355.5,416.4 L355.0,416.4 L354.5,416.4 L354.0,416.4 L353.5,416.4 L353.0,416.4 L352.5,416.4 L352.0,416.4 L351.5,416.4 L351.0,416.4 L350.5,416.4 L350.0,416.4 L349.5,416.4 L349.0,416.4 L348.5,416.4 L348.0,416.4 L347.5,416.4 L347.0,416.4 L346.5,416.4 L346.0,416.4 L345.5,416.4 L345.0,416.4 L344.5,416.4 L344.0,416.4 L343.5,416.5 L343.0,416.5 L342.5,416.5 L342.0,416.5 Z" fill="#ff62fe"/>
<path d="M378.0,416.3 L378.5,416.3 L379.0,416.2 L379.5,416.2 L380.0,416.2 L380.5,416.2 L381.0,416.2 L381.5,416.2 L382.0,416.2 L382.5,416.1 L383.0,416.1 L383.5,416.1 L384.0,416.1 L384.5,416.0 L385.0,416.0 L385.5,416.0 L386.0,415.9 L386.5,415.9 L387.0,415.8 L387.5,415.8 L388.0,415.7 L388.5,415.6 L389.0,415.5 L389.5,415.5 L390.0,415.4 L390.5,415.3 L391.0,415.2 L391.5,415.0 L392.0,414.9 L392.5,414.8 L393.0,414.6 L393.5,414.4 L394.0,414.2 L394.5,414.0 L395.0,413.8 L395.5,413.6 L396.0,413.3 L396.5,413.0 L397.0,412.7 L397.5,412.4 L398.0,412.0 L398.5,411.7 L399.0,411.2 L399.5,410.8 L400.0,410.3 L400.5,409.8 L401.0,409.3 L401.5,408.7 L402.0,408.1 L402.5,407.5 L403.0,406.8 L403.5,406.0 L404.0,405.2 L404.5,404.4 L405.0,403.5 L405.5,402.6 L406.0,401.7 L406.5,400.6 L407.0,399.6 L407.5,398.4 L408.0,397.3 L408.5,396.0 L409.0,394.7 L409.5,393.4 L410.0,392.0 L410.5,390.5 L411.0,389.0 L411.5,387.5 L412.0,385.9 L412.5,384.2 L413.0,382.5 L413.5,380.7 L414.0,378.9 L414.5,377.0 L415.0,375.1 L415.5,373.1 L416.0,371.1 L416.5,369.1 L417.0,367.0 L417.5,364.9 L418.0,362.8 L418.5,360.6 L419.0,358.4 L419.5,356.3 L420.0,354.1 L420.5,351.8 L421.0,349.6 L421.5,347.4 L422.0,345.3 L422.5,343.1 L423.0,340.9 L423.5,338.8 L424.0,336.7 L424.5,334.7 L425.0,332.7 L425.5,330.7 L426.0,328.8 L426.5,327.0 L427.0,325.2 L427.5,323.5 L428.0,321.9 L428.5,320.4 L429.0,319.0 L429.5,317.6 L430.0,316.4 L430.5,315.2 L431.0,314.2 L431.5,313.3 L432.0,312.5 L432.5,311.8 L433.0,311.2 L433.5,310.7 L434.0,310.4 L434.5,310.2 L435.0,310.1 L435.5,310.1 L436.0,310.3 L436.5,310.6 L437.0,311.0 L437.5,311.5 L438.0,312.1 L438.5,312.9 L439.0,313.8 L439.5,314.8 L440.0,315.9 L440.5,317.1 L441.0,318.4 L441.5,319.8 L442.0,321.3 L442.5,322.8 L443.0,324.5 L443.5,326.2 L444.0,328.0 L444.5,329.9 L445.0,331.8 L445.5,333.8 L446.0,335.8 L446.5,337.9 L447.0,340.0 L447.5,342.1 L448.0,344.3 L448.5,346.5 L449.0,348.7 L449.5,350.9 L450.0,353.1 L450.5,355.2 L451.0,357.4 L451.5,359.6 L452.0,361.8 L452.5,363.9 L453.0,366.0 L453.5,368.1 L454.0,370.2 L454.5,372.2 L455.0,374.1 L455.5,376.1 L456.0,378.0 L456.5,379.8 L457.0,381.6 L457.5,383.3 L458.0,385.0 L458.5,386.6 L459.0,388.2 L459.5,389.8 L460.0,391.2 L460.5,392.6 L461.0,394.0 L461.5,395.3 L462.0,396.6 L462.5,397.8 L463.0,398.9 L463.5,400.0 L464.0,401.0 L464.5,402.0 L465.0,402.9 L465.5,403.8 L466.0,404.7 L466.5,405.5 L467.0,406.2 L467.5,406.9 L468.0,407.6 L468.5,408.2 L469.0,408.8 L469.5,409.3 L470.0,409.9 L470.5,410.3 L471.0,410.8 L471.5,411.2 L472.0,411.6 L472.5,411.9 L473.0,412.3 L473.5,412.6 L474.0,412.9 L474.5,413.1 L475.0,413.4 L475.5,413.6 L476.0,413.8 L476.5,414.0 L477.0,414.2 L477.5,414.4 L478.0,414.5 L478.5,414.6 L479.0,414.8 L479.5,414.9 L480.0,415.0 L480.5,415.1 L481.0,415.1 L481.5,415.2 L482.0,415.3 L482.5,415.3 L483.0,415.4 L483.5,415.5 L484.0,415.5 L484.5,415.5 L485.0,415.6 L485.5,415.6 L486.0,415.6 L486.5,415.7 L487.0,415.7 L487.5,415.7 L488.0,415.7 L488.5,415.7 L489.0,415.8 L489.5,415.8 L490.0,415.8 L490.5,415.8 L491.0,415.8 L491.5,415.8 L492.0,415.8 L492.0,415.9 L491.5,415.9 L491.0,415.9 L490.5,415.9 L490.0,415.9 L489.5,415.9 L489.0,415.9 L488.5,415.9 L488.0,415.9 L487.5,415.9 L487.0,415.9 L486.5,415.9 L486.0,415.9 L485.5,415.9 L485.0,415.9 L484.5,415.9 L484.0,415.9 L483.5,415.9 L483.0,415.9 L482.5,415.9 L482.0,415.9 L481.5,415.9 L481.0,415.9 L480.5,415.9 L480.0,415.9 L479.5,415.9 L479.0,415.9 L478.5,415.9 L478.0,415.9 L477.5,415.9 L477.0,415.9 L476.5,415.9 L476.0,415.9 L475.5,415.9 L475.0,415.9 L474.5,415.9 L474.0,415.9 L473.5,415.9 L473.0,415.9 L472.5,415.9 L472.0,415.9 L471.5,415.9 L471.0,415.9 L470.5,415.9 L470.0,415.9 L469.5,415.9 L469.0,415.9 L468.5,416.0 L468.0,416.0 L467.5,416.0 L467.0,416.0 L466.5,416.0 L466.0,416.0 L465.5,416.0 L465.0,416.0 L464.5,416.0 L464.0,416.0 L463.5,416.0 L463.0,416.0 L462.5,416.0 L462.0,416.0 L461.5,416.0 L461.0,416.0 L460.5,416.0 L460.0,416.0 L459.5,416.0 L459.0,416.0 L458.5,416.0 L458.0,416.0 L457.5,416.0 L457.0,416.0 L456.5,416.0 L456.0,416.0 L455.5,416.0 L455.0,416.0 L454.5,416.0 L454.0,416.0 L453.5,416.0 L453.0,416.0 L452.5,416.0 L452.0,416.0 L451.5,416.0 L451.0,416.0 L450.5,416.0 L450.0,416.0 L449.5,416.0 L449.0,416.0 L448.5,416.0 L448.0,416.0 L447.5,416.0 L447.0,416.0 L446.5,416.0 L446.0,416.0 L445.5,416.0 L445.0,416.0 L444.5,416.0 L444.0,416.0 L443.5,416.1 L443.0,416.1 L442.5,416.1 L442.0,416.1 L441.5,416.1 L441.0,416.1 L440.5,416.1 L440.0,416.1 L439.5,416.1 L439.0,416.1 L438.5,416.1 L438.0,416.1 L437.5,416.1 L437.0,416.1 L436.5,416.1 L436.0,416.1 L435.5,416.1 L435.0,416.1 L434.5,416.1 L434.0,416.1 L433.5,416.1 L433.0,416.1 L432.5,416.1 L432.0,416.1 L431.5,416.1 L431.0,416.1 L430.5,416.1 L430.0,416.1 L429.5,416.1 L429.0,416.1 L428.5,416.1 L428.0,416.1 L427.5,416.1 L427.0,416.1 L426.5,416.1 L426.0,416.1 L425.5,416.1 L425.0,416.1 L424.5,416.1 L424.0,416.1 L423.5,416.1 L423.0,416.1 L422.5,416.1 L422.0,416.1 L421.5,416.1 L421.0,416.1 L420.5,416.1 L420.0,416.1 L419.5,416.1 L419.0,416.1 L418.5,416.2 L418.0,416.2 L417.5,416.2 L417.0,416.2 L416.5,416.2 L416.0,416.2 L415.5,416.2 L415.0,416.2 L414.5,416.2 L414.0,416.2 L413.5,416.2 L413.0,416.2 L412.5,416.2 L412.0,416.2 L411.5,416.2 L411.0,416.2 L410.5,416.2 L410.0,416.2 L409.5,416.2 L409.0,416.2 L408.5,416.2 L408.0,416.2 L407.5,416.2 L407.0,416.2 L406.5,416.2 L406.0,416.2 L405.5,416.2 L405.0,416.2 L404.5,416.2 L404.0,416.2 L403.5,416.2 L403.0,416.2 L402.5,416.2 L402.0,416.2 L401.5,416.2 L401.0,416.2 L400.5,416.2 L400.0,416.2 L399.5,416.2 L399.0,416.2 L398.5,416.2 L398.0,416.2 L397.5,416.2 L397.0,416.2 L396.5,416.2 L396.0,416.2 L395.5,416.2 L395.0,416.2 L394.5,416.2 L394.0,416.2 L393.5,416.2 L393.0,416.3 L392.5,416.3 L392.0,416.3 L391.5,416.3 L391.0,416.3 L390.5,416.3 L390.0,416.3 L389.5,416.3 L389.0,416.3 L388.5,416.3 L388.0,416.3 L387.5,416.3 L387.0,416.3 L386.5,416.3 L386.0,416.3 L385.5,416.3 L385.0,416.3 L384.5,416.3 L384.0,416.3 L383.5,416.3 L383.0,416.3 L382.5,416.3 L382.0,416.3 L381.5,416.3 L381.0,416.3 L380.5,416.3 L380.0,416.3 L379.5,416.3 L379.0,416.3 L378.5,416.3 L378.0,416.3 Z" fill="#00fc58"/>
<path d="M378.0,416.3 L378.5,416.3 L379.0,416.2 L379.5,416.2 L380.0,416.2 L380.5,416.2 L381.0,416.2 L381.5,416.2 L382.0,416.2 L382.5,416.1 L383.0,416.1 L383.5,416.1 L384.0,416.1 L384.5,416.0 L385.0,416.0 L385.5,416.0 L386.0,415.9 L386.5,415.9 L387.0,415.8 L387.5,415.8 L388.0,415.7 L388.5,415.6 L389.0,415.5 L389.5,415.5 L390.0,415.4 L390.5,415.3 L391.0,415.2 L391.5,415.0 L392.0,414.9 L392.5,414.8 L393.0,414.6 L393.5,414.4 L394.0,414.2 L394.5,414.0 L395.0,413.8 L395.5,413.6 L396.0,413.3 L396.5,413.0 L397.0,412.7 L397.5,412.4 L398.0,412.0 L398.5,411.7 L399.0,411.2 L399.5,410.8 L400.0,410.3 L400.5,409.8 L401.0,409.3 L401.5,408.7 L402.0,408.1 L402.5,407.5 L403.0,406.8 L403.5,406.0 L404.0,405.2 L404.5,404.4 L405.0,403.5 L405.5,402.6 L406.0,401.7 L406.5,400.6 L407.0,399.6 L407.5,398.4 L408.0,397.3 L408.5,396.0 L409.0,394.7 L409.5,393.4 L410.0,392.0 L410.5,390.5 L411.0,389.0 L411.5,387.5 L412.0,385.9 L412.5,384.2 L413.0,382.5 L413.5,380.7 L414.0,378.9 L414.5,377.0 L415.0,375.1 L415.5,373.1 L416.0,371.1 L416.5,369.1 L417.0,367.0 L417.5,364.9 L418.0,362.8 L418.5,360.6 L419.0,358.4 L419.5,356.3 L420.0,354.1 L420.5,351.8 L421.0,349.6 L421.5,347.4 L422.0,345.3 L422.5,343.1 L423.0,340.9 L423.5,338.8 L424.0,336.7 L424.5,334.7 L425.0,332.7 L425.5,330.7 L426.0,328.8 L426.5,327.0 L427.0,325.2 L427.5,323.5 L428.0,321.9 L428.5,320.4 L429.0,319.0 L429.5,317.6 L430.0,316.4 L430.5,315.2 L431.0,314.2 L431.5,313.3 L432.0,312.5 L432.5,311.8 L433.0,311.2 L433.5,310.7 L434.0,310.4 L434.5,310.2 L435.0,310.1 L435.5,310.1 L436.0,310.3 L436.5,310.6 L437.0,311.0 L437.5,311.5 L438.0,312.1 L438.5,312.9 L439.0,313.8 L439.5,314.8 L440.0,315.9 L440.5,317.1 L441.0,318.4 L441.5,319.8 L442.0,321.3 L442.5,322.8 L443.0,324.5 L443.5,326.2 L444.0,328.0 L444.5,329.9 L445.0,331.8 L445.5,333.8 L446.0,335.8 L446.5,337.9 L447.0,340.0 L447.5,342.1 L448.0,344.3 L448.5,346.5 L449.0,348.7 L449.5,350.9 L450.0,353.1 L450.5,355.2 L451.0,357.4 L451.5,359.6 L452.0,361.8 L452.5,363.9 L453.0,366.0 L453.5,368.1 L454.0,370.2 L454.5,372.2 L455.0,374.1 L455.5,376.1 L456.0,378.0 L456.5,379.8 L457.0,381.6 L457.5,383.3 L458.0,385.0 L458.5,386.6 L459.0,388.2 L459.5,389.8 L460.0,391.2 L460.5,392.6 L461.0,394.0 L461.5,395.3 L462.0,396.6 L462.5,397.8 L463.0,398.9 L463.5,400.0 L464.0,401.0 L464.5,402.0 L465.0,402.9 L465.5,403.8 L466.0,404.7 L466.5,405.5 L467.0,406.2 L467.5,406.9 L468.0,407.6 L468.5,408.2 L469.0,408.8 L469.5,409.3 L470.0,409.9 L470.5,410.3 L471.0,410.8 L471.5,411.2 L472.0,411.6 L472.5,411.9 L473.0,412.3 L473.5,412.6 L474.0,412.9 L474.5,413.1 L475.0,413.4 L475.5,413.6 L476.0,413.8 L476.5,414.0 L477.0,414.2 L477.5,414.4 L478.0,414.5 L478.5,414.6 L479.0,414.8 L479.5,414.9 L480.0,415.0 L480.5,415.1 L481.0,415.1 L481.5,415.2 L482.0,415.3 L482.5,415.3 L483.0,415.4 L483.5,415.5 L484.0,415.5 L484.5,415.5 L485.0,415.6 L485.5,415.6 L486.0,415.6 L486.5,415.7 L487.0,415.7 L487.5,415.7 L488.0,415.7 L488.5,415.7 L489.0,415.8 L489.5,415.8 L490.0,415.8 L490.5,415.8 L491.0,415.8 L491.5,415.8 L492.0,415.8 L492.0,415.9 L491.5,415.9 L491.0,415.9 L490.5,415.9 L490.0,415.9 L489.5,415.9 L489.0,415.9 L488.5,415.9 L488.0,415.9 L487.5,415.9 L487.0,415.9 L486.5,415.9 L486.0,415.9 L485.5,415.9 L485.0,415.9 L484.5,415.9 L484.0,415.9 L483.5,415.9 L483.0,415.9 L482.5,415.9 L482.0,415.9 L481.5,415.9 L481.0,415.9 L480.5,415.9 L480.0,415.9 L479.5,415.9 L479.0,415.9 L478.5,415.9 L478.0,415.9 L477.5,415.9 L477.0,415.9 L476.5,415.9 L476.0,415.9 L475.5,415.9 L475.0,415.9 L474.5,415.9 L474.0,415.9 L473.5,415.9 L473.0,415.9 L472.5,415.9 L472.0,415.9 L471.5,415.9 L471.0,415.9 L470.5,415.9 L470.0,415.9 L469.5,415.9 L469.0,415.9 L468.5,416.0 L468.0,416.0 L467.5,416.0 L467.0,416.0 L466.5,416.0 L466.0,416.0 L465.5,416.0 L465.0,416.0 L464.5,416.0 L464.0,416.0 L463.5,416.0 L463.0,416.0 L462.5,416.0 L462.0,416.0 L461.5,416.0 L461.0,416.0 L460.5,416.0 L460.0,416.0 L459.5,416.0 L459.0,416.0 L458.5,416.0 L458.0,416.0 L457.5,416.0 L457.0,416.0 L456.5,416.0 L456.0,416.0 L455.5,416.0 L455.0,416.0 L454.5,416.0 L454.0,416.0 L453.5,416.0 L453.0,416.0 L452.5,416.0 L452.0,416.0 L451.5,416.0 L451.0,416.0 L450.5,416.0 L450.0,416.0 L449.5,416.0 L449.0,416.0 L448.5,416.0 L448.0,416.0 L447.5,416.0 L447.0,416.0 L446.5,416.0 L446.0,416.0 L445.5,416.0 L445.0,416.0 L444.5,416.0 L444.0,416.0 L443.5,416.1 L443.0,416.1 L442.5,416.1 L442.0,416.1 L441.5,416.1 L441.0,416.1 L440.5,416.1 L440.0,416.1 L439.5,416.1 L439.0,416.1 L438.5,416.1 L438.0,416.1 L437.5,416.1 L437.0,416.1 L436.5,416.1 L436.0,416.1 L435.5,416.1 L435.0,416.1 L434.5,416.1 L434.0,416.1 L433.5,416.1 L433.0,416.1 L432.5,416.1 L432.0,416.1 L431.5,416.1 L431.0,416.1 L430.5,416.1 L430.0,416.1 L429.5,416.1 L429.0,416.1 L428.5,416.1 L428.0,416.1 L427.5,416.1 L427.0,416.1 L426.5,416.1 L426.0,416.1 L425.5,416.1 L425.0,416.1 L424.5,416.1 L424.0,416.1 L423.5,416.1 L423.0,416.1 L422.5,416.1 L422.0,416.1 L421.5,416.1 L421.0,416.1 L420.5,416.1 L420.0,416.1 L419.5,416.1 L419.0,416.1 L418.5,416.2 L418.0,416.2 L417.5,416.2 L417.0,416.2 L416.5,416.2 L416.0,416.2 L415.5,416.2 L415.0,416.2 L414.5,416.2 L414.0,416.2 L413.5,416.2 L413.0,416.2 L412.5,416.2 L412.0,416.2 L411.5,416.2 L411.0,416.2 L410.5,416.2 L410.0,416.2 L409.5,416.2 L409.0,416.2 L408.5,416.2 L408.0,416.2 L407.5,416.2 L407.0,416.2 L406.5,416.2 L406.0,416.2 L405.5,416.2 L405.0,416.2 L404.5,416.2 L404.0,416.2 L403.5,416.2 L403.0,416.2 L402.5,416.2 L402.0,416.2 L401.5,416.2 L401.0,416.2 L400.5,416.2 L400.0,416.2 L399.5,416.2 L399.0,416.2 L398.5,416.2 L398.0,416.2 L397.5,416.2 L397.0,416.2 L396.5,416.2 L396.0,416.2 L395.5,416.2 L395.0,416.2 L394.5,416.2 L394.0,416.2 L393.5,416.2 L393.0,416.3 L392.5,416.3 L392.0,416.3 L391.5,416.3 L391.0,416.3 L390.5,416.3 L390.0,416.3 L389.5,416.3 L389.0,416.3 L388.5,416.3 L388.0,416.3 L387.5,416.3 L387.0,416.3 L386.5,416.3 L386.0,416.3 L385.5,416.3 L385.0,416.3 L384.5,416.3 L384.0,416.3 L383.5,416.3 L383.0,416.3 L382.5,416.3 L382.0,416.3 L381.5,416.3 L381.0,416.3 L380.5,416.3 L380.0,416.3 L379.5,416.3 L379.0,416.3 L378.5,416.3 L378.0,416.3 Z" fill="#05c65c" clip-path="url(#cd_m)"/>
<path d="M419.0,416.1 L419.5,416.1 L420.0,416.1 L420.5,416.1 L421.0,416.1 L421.5,416.0 L422.0,416.0 L422.5,416.0 L423.0,416.0 L423.5,416.0 L424.0,416.0 L424.5,416.0 L425.0,415.9 L425.5,415.9 L426.0,415.9 L426.5,415.9 L427.0,415.8 L427.5,415.8 L428.0,415.8 L428.5,415.7 L429.0,415.7 L429.5,415.6 L430.0,415.6 L430.5,415.6 L431.0,415.5 L431.5,415.4 L432.0,415.4 L432.5,415.3 L433.0,415.2 L433.5,415.2 L434.0,415.1 L434.5,415.0 L435.0,414.9 L435.5,414.8 L436.0,414.7 L436.5,414.6 L437.0,414.5 L437.5,414.4 L438.0,414.3 L438.5,414.1 L439.0,414.0 L439.5,413.8 L440.0,413.7 L440.5,413.5 L441.0,413.4 L441.5,413.2 L442.0,413.0 L442.5,412.8 L443.0,412.6 L443.5,412.4 L444.0,412.2 L444.5,412.0 L445.0,411.8 L445.5,411.5 L446.0,411.3 L446.5,411.1 L447.0,410.8 L447.5,410.6 L448.0,410.3 L448.5,410.0 L449.0,409.8 L449.5,409.5 L450.0,409.3 L450.5,409.0 L451.0,408.7 L451.5,408.4 L452.0,408.2 L452.5,407.9 L453.0,407.6 L453.5,407.4 L454.0,407.1 L454.5,406.8 L455.0,406.6 L455.5,406.3 L456.0,406.1 L456.5,405.8 L457.0,405.6 L457.5,405.4 L458.0,405.2 L458.5,405.0 L459.0,404.8 L459.5,404.6 L460.0,404.4 L460.5,404.3 L461.0,404.1 L461.5,404.0 L462.0,403.9 L462.5,403.8 L463.0,403.7 L463.5,403.6 L464.0,403.5 L464.5,403.5 L465.0,403.5 L465.5,403.5 L466.0,403.5 L466.5,403.5 L467.0,403.5 L467.5,403.5 L468.0,403.5 L468.5,403.5 L469.0,403.6 L469.5,403.6 L470.0,403.7 L470.5,403.7 L471.0,403.8 L471.5,403.8 L472.0,403.9 L472.5,404.0 L473.0,404.0 L473.5,404.1 L474.0,404.2 L474.5,404.3 L475.0,404.4 L475.5,404.5 L476.0,404.6 L476.5,404.7 L477.0,404.8 L477.5,404.9 L478.0,405.0 L478.5,405.1 L479.0,405.2 L479.5,405.4 L480.0,405.5 L480.5,405.6 L481.0,405.8 L481.5,405.9 L482.0,406.0 L482.5,406.2 L483.0,406.3 L483.5,406.5 L484.0,406.6 L484.5,406.7 L485.0,406.9 L485.5,407.0 L486.0,407.2 L486.5,407.4 L487.0,407.5 L487.5,407.7 L488.0,407.8 L488.5,408.0 L489.0,408.1 L489.5,408.3 L490.0,408.4 L490.5,408.6 L491.0,408.8 L491.5,408.9 L492.0,409.1 L492.5,409.2 L493.0,409.4 L493.5,409.5 L494.0,409.7 L494.5,409.8 L495.0,410.0 L495.5,410.1 L496.0,410.3 L496.5,410.4 L497.0,410.6 L497.5,410.7 L498.0,410.8 L498.5,411.0 L499.0,411.1 L499.5,411.2 L500.0,411.4 L500.5,411.5 L501.0,411.6 L501.5,411.8 L502.0,411.9 L502.5,412.0 L503.0,412.1 L503.5,412.2 L504.0,412.4 L504.5,412.5 L505.0,412.6 L505.5,412.7 L506.0,412.8 L506.5,412.9 L507.0,413.0 L507.5,413.1 L508.0,413.2 L508.5,413.3 L509.0,413.4 L509.5,413.5 L510.0,413.5 L510.5,413.6 L511.0,413.7 L511.5,413.8 L512.0,413.9 L512.5,413.9 L513.0,414.0 L513.5,414.1 L514.0,414.1 L514.5,414.2 L515.0,414.3 L515.5,414.3 L516.0,414.4 L516.5,414.5 L517.0,414.5 L517.5,414.6 L518.0,414.6 L518.5,414.7 L519.0,414.7 L519.5,414.8 L520.0,414.8 L520.5,414.8 L521.0,414.9 L521.5,414.9 L522.0,415.0 L522.5,415.0 L523.0,415.0 L523.5,415.1 L524.0,415.1 L524.5,415.1 L525.0,415.1 L525.5,415.2 L526.0,415.2 L526.5,415.2 L527.0,415.2 L527.5,415.3 L528.0,415.3 L528.5,415.3 L529.0,415.3 L529.5,415.3 L530.0,415.4 L530.5,415.4 L531.0,415.4 L531.5,415.4 L532.0,415.4 L532.0,415.7 L531.5,415.7 L531.0,415.7 L530.5,415.7 L530.0,415.7 L529.5,415.7 L529.0,415.7 L528.5,415.7 L528.0,415.7 L527.5,415.7 L527.0,415.7 L526.5,415.7 L526.0,415.7 L525.5,415.7 L525.0,415.7 L524.5,415.7 L524.0,415.7 L523.5,415.7 L523.0,415.7 L522.5,415.7 L522.0,415.7 L521.5,415.7 L521.0,415.7 L520.5,415.7 L520.0,415.7 L519.5,415.7 L519.0,415.7 L518.5,415.8 L518.0,415.8 L517.5,415.8 L517.0,415.8 L516.5,415.8 L516.0,415.8 L515.5,415.8 L515.0,415.8 L514.5,415.8 L514.0,415.8 L513.5,415.8 L513.0,415.8 L512.5,415.8 L512.0,415.8 L511.5,415.8 L511.0,415.8 L510.5,415.8 L510.0,415.8 L509.5,415.8 L509.0,415.8 L508.5,415.8 L508.0,415.8 L507.5,415.8 L507.0,415.8 L506.5,415.8 L506.0,415.8 L505.5,415.8 L505.0,415.8 L504.5,415.8 L504.0,415.8 L503.5,415.8 L503.0,415.8 L502.5,415.8 L502.0,415.8 L501.5,415.8 L501.0,415.8 L500.5,415.8 L500.0,415.8 L499.5,415.8 L499.0,415.8 L498.5,415.8 L498.0,415.8 L497.5,415.8 L497.0,415.8 L496.5,415.8 L496.0,415.8 L495.5,415.8 L495.0,415.8 L494.5,415.8 L494.0,415.8 L493.5,415.9 L493.0,415.9 L492.5,415.9 L492.0,415.9 L491.5,415.9 L491.0,415.9 L490.5,415.9 L490.0,415.9 L489.5,415.9 L489.0,415.9 L488.5,415.9 L488.0,415.9 L487.5,415.9 L487.0,415.9 L486.5,415.9 L486.0,415.9 L485.5,415.9 L485.0,415.9 L484.5,415.9 L484.0,415.9 L483.5,415.9 L483.0,415.9 L482.5,415.9 L482.0,415.9 L481.5,415.9 L481.0,415.9 L480.5,415.9 L480.0,415.9 L479.5,415.9 L479.0,415.9 L478.5,415.9 L478.0,415.9 L477.5,415.9 L477.0,415.9 L476.5,415.9 L476.0,415.9 L475.5,415.9 L475.0,415.9 L474.5,415.9 L474.0,415.9 L473.5,415.9 L473.0,415.9 L472.5,415.9 L472.0,415.9 L471.5,415.9 L471.0,415.9 L470.5,415.9 L470.0,415.9 L469.5,415.9 L469.0,415.9 L468.5,416.0 L468.0,416.0 L467.5,416.0 L467.0,416.0 L466.5,416.0 L466.0,416.0 L465.5,416.0 L465.0,416.0 L464.5,416.0 L464.0,416.0 L463.5,416.0 L463.0,416.0 L462.5,416.0 L462.0,416.0 L461.5,416.0 L461.0,416.0 L460.5,416.0 L460.0,416.0 L459.5,416.0 L459.0,416.0 L458.5,416.0 L458.0,416.0 L457.5,416.0 L457.0,416.0 L456.5,416.0 L456.0,416.0 L455.5,416.0 L455.0,416.0 L454.5,416.0 L454.0,416.0 L453.5,416.0 L453.0,416.0 L452.5,416.0 L452.0,416.0 L451.5,416.0 L451.0,416.0 L450.5,416.0 L450.0,416.0 L449.5,416.0 L449.0,416.0 L448.5,416.0 L448.0,416.0 L447.5,416.0 L447.0,416.0 L446.5,416.0 L446.0,416.0 L445.5,416.0 L445.0,416.0 L444.5,416.0 L444.0,416.0 L443.5,416.1 L443.0,416.1 L442.5,416.1 L442.0,416.1 L441.5,416.1 L441.0,416.1 L440.5,416.1 L440.0,416.1 L439.5,416.1 L439.0,416.1 L438.5,416.1 L438.0,416.1 L437.5,416.1 L437.0,416.1 L436.5,416.1 L436.0,416.1 L435.5,416.1 L435.0,416.1 L434.5,416.1 L434.0,416.1 L433.5,416.1 L433.0,416.1 L432.5,416.1 L432.0,416.1 L431.5,416.1 L431.0,416.1 L430.5,416.1 L430.0,416.1 L429.5,416.1 L429.0,416.1 L428.5,416.1 L428.0,416.1 L427.5,416.1 L427.0,416.1 L426.5,416.1 L426.0,416.1 L425.5,416.1 L425.0,416.1 L424.5,416.1 L424.0,416.1 L423.5,416.1 L423.0,416.1 L422.5,416.1 L422.0,416.1 L421.5,416.1 L421.0,416.1 L420.5,416.1 L420.0,416.1 L419.5,416.1 L419.0,416.1 Z" fill="#c8956e"/>
<path d="M419.0,416.1 L419.5,416.1 L420.0,416.1 L420.5,416.1 L421.0,416.1 L421.5,416.0 L422.0,416.0 L422.5,416.0 L423.0,416.0 L423.5,416.0 L424.0,416.0 L424.5,416.0 L425.0,415.9 L425.5,415.9 L426.0,415.9 L426.5,415.9 L427.0,415.8 L427.5,415.8 L428.0,415.8 L428.5,415.7 L429.0,415.7 L429.5,415.6 L430.0,415.6 L430.5,415.6 L431.0,415.5 L431.5,415.4 L432.0,415.4 L432.5,415.3 L433.0,415.2 L433.5,415.2 L434.0,415.1 L434.5,415.0 L435.0,414.9 L435.5,414.8 L436.0,414.7 L436.5,414.6 L437.0,414.5 L437.5,414.4 L438.0,414.3 L438.5,414.1 L439.0,414.0 L439.5,413.8 L440.0,413.7 L440.5,413.5 L441.0,413.4 L441.5,413.2 L442.0,413.0 L442.5,412.8 L443.0,412.6 L443.5,412.4 L444.0,412.2 L444.5,412.0 L445.0,411.8 L445.5,411.5 L446.0,411.3 L446.5,411.1 L447.0,410.8 L447.5,410.6 L448.0,410.3 L448.5,410.0 L449.0,409.8 L449.5,409.5 L450.0,409.3 L450.5,409.0 L451.0,408.7 L451.5,408.4 L452.0,408.2 L452.5,407.9 L453.0,407.6 L453.5,407.4 L454.0,407.1 L454.5,406.8 L455.0,406.6 L455.5,406.3 L456.0,406.1 L456.5,405.8 L457.0,405.6 L457.5,405.4 L458.0,405.2 L458.5,405.0 L459.0,404.8 L459.5,404.6 L460.0,404.4 L460.5,404.3 L461.0,404.1 L461.5,404.0 L462.0,403.9 L462.5,403.8 L463.0,403.7 L463.5,403.6 L464.0,403.5 L464.5,403.5 L465.0,403.5 L465.5,403.5 L466.0,403.5 L466.5,403.5 L467.0,403.5 L467.5,403.5 L468.0,403.5 L468.5,403.5 L469.0,403.6 L469.5,403.6 L470.0,403.7 L470.5,403.7 L471.0,403.8 L471.5,403.8 L472.0,403.9 L472.5,404.0 L473.0,404.0 L473.5,404.1 L474.0,404.2 L474.5,404.3 L475.0,404.4 L475.5,404.5 L476.0,404.6 L476.5,404.7 L477.0,404.8 L477.5,404.9 L478.0,405.0 L478.5,405.1 L479.0,405.2 L479.5,405.4 L480.0,405.5 L480.5,405.6 L481.0,405.8 L481.5,405.9 L482.0,406.0 L482.5,406.2 L483.0,406.3 L483.5,406.5 L484.0,406.6 L484.5,406.7 L485.0,406.9 L485.5,407.0 L486.0,407.2 L486.5,407.4 L487.0,407.5 L487.5,407.7 L488.0,407.8 L488.5,408.0 L489.0,408.1 L489.5,408.3 L490.0,408.4 L490.5,408.6 L491.0,408.8 L491.5,408.9 L492.0,409.1 L492.5,409.2 L493.0,409.4 L493.5,409.5 L494.0,409.7 L494.5,409.8 L495.0,410.0 L495.5,410.1 L496.0,410.3 L496.5,410.4 L497.0,410.6 L497.5,410.7 L498.0,410.8 L498.5,411.0 L499.0,411.1 L499.5,411.2 L500.0,411.4 L500.5,411.5 L501.0,411.6 L501.5,411.8 L502.0,411.9 L502.5,412.0 L503.0,412.1 L503.5,412.2 L504.0,412.4 L504.5,412.5 L505.0,412.6 L505.5,412.7 L506.0,412.8 L506.5,412.9 L507.0,413.0 L507.5,413.1 L508.0,413.2 L508.5,413.3 L509.0,413.4 L509.5,413.5 L510.0,413.5 L510.5,413.6 L511.0,413.7 L511.5,413.8 L512.0,413.9 L512.5,413.9 L513.0,414.0 L513.5,414.1 L514.0,414.1 L514.5,414.2 L515.0,414.3 L515.5,414.3 L516.0,414.4 L516.5,414.5 L517.0,414.5 L517.5,414.6 L518.0,414.6 L518.5,414.7 L519.0,414.7 L519.5,414.8 L520.0,414.8 L520.5,414.8 L521.0,414.9 L521.5,414.9 L522.0,415.0 L522.5,415.0 L523.0,415.0 L523.5,415.1 L524.0,415.1 L524.5,415.1 L525.0,415.1 L525.5,415.2 L526.0,415.2 L526.5,415.2 L527.0,415.2 L527.5,415.3 L528.0,415.3 L528.5,415.3 L529.0,415.3 L529.5,415.3 L530.0,415.4 L530.5,415.4 L531.0,415.4 L531.5,415.4 L532.0,415.4 L532.0,415.7 L531.5,415.7 L531.0,415.7 L530.5,415.7 L530.0,415.7 L529.5,415.7 L529.0,415.7 L528.5,415.7 L528.0,415.7 L527.5,415.7 L527.0,415.7 L526.5,415.7 L526.0,415.7 L525.5,415.7 L525.0,415.7 L524.5,415.7 L524.0,415.7 L523.5,415.7 L523.0,415.7 L522.5,415.7 L522.0,415.7 L521.5,415.7 L521.0,415.7 L520.5,415.7 L520.0,415.7 L519.5,415.7 L519.0,415.7 L518.5,415.8 L518.0,415.8 L517.5,415.8 L517.0,415.8 L516.5,415.8 L516.0,415.8 L515.5,415.8 L515.0,415.8 L514.5,415.8 L514.0,415.8 L513.5,415.8 L513.0,415.8 L512.5,415.8 L512.0,415.8 L511.5,415.8 L511.0,415.8 L510.5,415.8 L510.0,415.8 L509.5,415.8 L509.0,415.8 L508.5,415.8 L508.0,415.8 L507.5,415.8 L507.0,415.8 L506.5,415.8 L506.0,415.8 L505.5,415.8 L505.0,415.8 L504.5,415.8 L504.0,415.8 L503.5,415.8 L503.0,415.8 L502.5,415.8 L502.0,415.8 L501.5,415.8 L501.0,415.8 L500.5,415.8 L500.0,415.8 L499.5,415.8 L499.0,415.8 L498.5,415.8 L498.0,415.8 L497.5,415.8 L497.0,415.8 L496.5,415.8 L496.0,415.8 L495.5,415.8 L495.0,415.8 L494.5,415.8 L494.0,415.8 L493.5,415.9 L493.0,415.9 L492.5,415.9 L492.0,415.9 L491.5,415.9 L491.0,415.9 L490.5,415.9 L490.0,415.9 L489.5,415.9 L489.0,415.9 L488.5,415.9 L488.0,415.9 L487.5,415.9 L487.0,415.9 L486.5,415.9 L486.0,415.9 L485.5,415.9 L485.0,415.9 L484.5,415.9 L484.0,415.9 L483.5,415.9 L483.0,415.9 L482.5,415.9 L482.0,415.9 L481.5,415.9 L481.0,415.9 L480.5,415.9 L480.0,415.9 L479.5,415.9 L479.0,415.9 L478.5,415.9 L478.0,415.9 L477.5,415.9 L477.0,415.9 L476.5,415.9 L476.0,415.9 L475.5,415.9 L475.0,415.9 L474.5,415.9 L474.0,415.9 L473.5,415.9 L473.0,415.9 L472.5,415.9 L472.0,415.9 L471.5,415.9 L471.0,415.9 L470.5,415.9 L470.0,415.9 L469.5,415.9 L469.0,415.9 L468.5,416.0 L468.0,416.0 L467.5,416.0 L467.0,416.0 L466.5,416.0 L466.0,416.0 L465.5,416.0 L465.0,416.0 L464.5,416.0 L464.0,416.0 L463.5,416.0 L463.0,416.0 L462.5,416.0 L462.0,416.0 L461.5,416.0 L461.0,416.0 L460.5,416.0 L460.0,416.0 L459.5,416.0 L459.0,416.0 L458.5,416.0 L458.0,416.0 L457.5,416.0 L457.0,416.0 L456.5,416.0 L456.0,416.0 L455.5,416.0 L455.0,416.0 L454.5,416.0 L454.0,416.0 L453.5,416.0 L453.0,416.0 L452.5,416.0 L452.0,416.0 L451.5,416.0 L451.0,416.0 L450.5,416.0 L450.0,416.0 L449.5,416.0 L449.0,416.0 L448.5,416.0 L448.0,416.0 L447.5,416.0 L447.0,416.0 L446.5,416.0 L446.0,416.0 L445.5,416.0 L445.0,416.0 L444.5,416.0 L444.0,416.0 L443.5,416.1 L443.0,416.1 L442.5,416.1 L442.0,416.1 L441.5,416.1 L441.0,416.1 L440.5,416.1 L440.0,416.1 L439.5,416.1 L439.0,416.1 L438.5,416.1 L438.0,416.1 L437.5,416.1 L437.0,416.1 L436.5,416.1 L436.0,416.1 L435.5,416.1 L435.0,416.1 L434.5,416.1 L434.0,416.1 L433.5,416.1 L433.0,416.1 L432.5,416.1 L432.0,416.1 L431.5,416.1 L431.0,416.1 L430.5,416.1 L430.0,416.1 L429.5,416.1 L429.0,416.1 L428.5,416.1 L428.0,416.1 L427.5,416.1 L427.0,416.1 L426.5,416.1 L426.0,416.1 L425.5,416.1 L425.0,416.1 L424.5,416.1 L424.0,416.1 L423.5,416.1 L423.0,416.1 L422.5,416.1 L422.0,416.1 L421.5,416.1 L421.0,416.1 L420.5,416.1 L420.0,416.1 L419.5,416.1 L419.0,416.1 Z" fill="#6a8e2a" clip-path="url(#cd_g)"/>
<path d="M350.5,416.1 L351.0,416.1 L351.5,416.0 L352.0,416.0 L352.5,415.9 L353.0,415.9 L353.5,415.8 L354.0,415.8 L354.5,415.7 L355.0,415.7 L355.5,415.6 L356.0,415.5 L356.5,415.4 L357.0,415.3 L357.5,415.2 L358.0,415.1 L358.5,415.0 L359.0,414.9 L359.5,414.8 L360.0,414.6 L360.5,414.5 L361.0,414.3 L361.5,414.1 L362.0,413.9 L362.5,413.7 L363.0,413.5 L363.5,413.3 L364.0,413.1 L364.5,412.8 L365.0,412.5 L365.5,412.2 L366.0,411.9 L366.5,411.6 L367.0,411.3 L367.5,410.9 L368.0,410.5 L368.5,410.1 L369.0,409.7 L369.5,409.2 L370.0,408.7 L370.5,408.2 L371.0,407.7 L371.5,407.1 L372.0,406.6 L372.5,405.9 L373.0,405.3 L373.5,404.6 L374.0,403.9 L374.5,403.2 L375.0,402.4 L375.5,401.6 L376.0,400.8 L376.5,399.9 L377.0,399.1 L377.5,398.1 L378.0,397.2 L378.5,396.2 L379.0,395.2 L379.5,394.1 L380.0,393.0 L380.5,391.9 L381.0,390.7 L381.5,389.5 L382.0,388.3 L382.5,387.1 L383.0,385.8 L383.5,384.5 L384.0,383.1 L384.5,381.8 L385.0,380.4 L385.5,379.0 L386.0,377.5 L386.5,376.1 L387.0,374.6 L387.5,373.1 L388.0,371.6 L388.5,370.0 L389.0,368.5 L389.5,366.9 L390.0,365.4 L390.5,363.8 L391.0,362.3 L391.5,360.7 L392.0,359.1 L392.5,357.6 L393.0,356.1 L393.5,354.5 L394.0,353.0 L394.5,351.5 L395.0,350.0 L395.5,348.6 L396.0,347.1 L396.5,345.7 L397.0,344.4 L397.5,343.0 L398.0,341.7 L398.5,340.5 L399.0,339.3 L399.5,338.1 L400.0,337.0 L400.5,336.0 L401.0,334.9 L401.5,334.0 L402.0,333.1 L402.5,332.3 L403.0,331.5 L403.5,330.8 L404.0,330.2 L404.5,329.6 L405.0,329.1 L405.5,328.7 L406.0,328.4 L406.5,328.1 L407.0,327.9 L407.5,327.7 L408.0,327.7 L408.5,327.7 L409.0,327.8 L409.5,328.0 L410.0,328.2 L410.5,328.5 L411.0,328.9 L411.5,329.4 L412.0,329.9 L412.5,330.5 L413.0,331.2 L413.5,331.9 L414.0,332.7 L414.5,333.6 L415.0,334.5 L415.5,335.5 L416.0,336.5 L416.5,337.6 L417.0,338.7 L417.5,339.9 L418.0,341.2 L418.5,342.4 L419.0,343.7 L419.5,345.1 L420.0,346.5 L420.5,347.9 L421.0,349.3 L421.5,350.8 L422.0,352.3 L422.5,353.8 L423.0,355.3 L423.5,356.9 L424.0,358.4 L424.5,360.0 L425.0,361.5 L425.5,363.1 L426.0,364.6 L426.5,366.2 L427.0,367.7 L427.5,369.3 L428.0,370.8 L428.5,372.3 L429.0,373.8 L429.5,375.3 L430.0,376.8 L430.5,378.2 L431.0,379.6 L431.5,381.0 L432.0,382.4 L432.5,383.7 L433.0,385.1 L433.5,386.3 L434.0,387.6 L434.5,388.8 L435.0,390.0 L435.5,391.2 L436.0,392.3 L436.5,393.4 L437.0,394.5 L437.5,395.5 L438.0,396.5 L438.5,397.5 L439.0,398.4 L439.5,399.3 L440.0,400.2 L440.5,401.1 L441.0,401.9 L441.5,402.6 L442.0,403.4 L442.5,404.1 L443.0,404.8 L443.5,405.4 L444.0,406.0 L444.5,406.6 L445.0,407.2 L445.5,407.7 L446.0,408.2 L446.5,408.7 L447.0,409.2 L447.5,409.6 L448.0,410.0 L448.5,410.4 L449.0,410.8 L449.5,411.1 L450.0,411.5 L450.5,411.8 L451.0,412.1 L451.5,412.4 L452.0,412.6 L452.5,412.9 L453.0,413.1 L453.5,413.3 L454.0,413.5 L454.5,413.7 L455.0,413.9 L455.5,414.0 L456.0,414.2 L456.5,414.3 L457.0,414.4 L457.5,414.6 L458.0,414.7 L458.5,414.8 L459.0,414.9 L459.5,415.0 L460.0,415.1 L460.5,415.1 L461.0,415.2 L461.5,415.3 L462.0,415.3 L462.5,415.4 L463.0,415.4 L463.5,415.5 L464.0,415.5 L464.5,415.6 L465.0,415.6 L465.5,415.6 L466.0,415.7" fill="none" stroke="#c080d0" stroke-width="0.9"/>
<path d="M385.5,416.0 L386.0,415.9 L386.5,415.9 L387.0,415.8 L387.5,415.8 L388.0,415.7 L388.5,415.6 L389.0,415.5 L389.5,415.5 L390.0,415.4 L390.5,415.3 L391.0,415.2 L391.5,415.0 L392.0,414.9 L392.5,414.8 L393.0,414.6 L393.5,414.4 L394.0,414.2 L394.5,414.0 L395.0,413.8 L395.5,413.6 L396.0,413.3 L396.5,413.0 L397.0,412.7 L397.5,412.4 L398.0,412.0 L398.5,411.7 L399.0,411.2 L399.5,410.8 L400.0,410.3 L400.5,409.8 L401.0,409.3 L401.5,408.7 L402.0,408.1 L402.5,407.5 L403.0,406.8 L403.5,406.0 L404.0,405.2 L404.5,404.4 L405.0,403.5 L405.5,402.6 L406.0,401.7 L406.5,400.6 L407.0,399.6 L407.5,398.4 L408.0,397.3 L408.5,396.0 L409.0,394.7 L409.5,393.4 L410.0,392.0 L410.5,390.5 L411.0,389.0 L411.5,387.5 L412.0,385.9 L412.5,384.2 L413.0,382.5 L413.5,380.7 L414.0,378.9 L414.5,377.0 L415.0,375.1 L415.5,373.1 L416.0,371.1 L416.5,369.1 L417.0,367.0 L417.5,364.9 L418.0,362.8 L418.5,360.6 L419.0,358.4 L419.5,356.3 L420.0,354.1 L420.5,351.8 L421.0,349.6 L421.5,347.4 L422.0,345.3 L422.5,343.1 L423.0,340.9 L423.5,338.8 L424.0,336.7 L424.5,334.7 L425.0,332.7 L425.5,330.7 L426.0,328.8 L426.5,327.0 L427.0,325.2 L427.5,323.5 L428.0,321.9 L428.5,320.4 L429.0,319.0 L429.5,317.6 L430.0,316.4 L430.5,315.2 L431.0,314.2 L431.5,313.3 L432.0,312.5 L432.5,311.8 L433.0,311.2 L433.5,310.7 L434.0,310.4 L434.5,310.2 L435.0,310.1 L435.5,310.1 L436.0,310.3 L436.5,310.6 L437.0,311.0 L437.5,311.5 L438.0,312.1 L438.5,312.9 L439.0,313.8 L439.5,314.8 L440.0,315.9 L440.5,317.1 L441.0,318.4 L441.5,319.8 L442.0,321.3 L442.5,322.8 L443.0,324.5 L443.5,326.2 L444.0,328.0 L444.5,329.9 L445.0,331.8 L445.5,333.8 L446.0,335.8 L446.5,337.9 L447.0,340.0 L447.5,342.1 L448.0,344.3 L448.5,346.5 L449.0,348.7 L449.5,350.9 L450.0,353.1 L450.5,355.2 L451.0,357.4 L451.5,359.6 L452.0,361.8 L452.5,363.9 L453.0,366.0 L453.5,368.1 L454.0,370.2 L454.5,372.2 L455.0,374.1 L455.5,376.1 L456.0,378.0 L456.5,379.8 L457.0,381.6 L457.5,383.3 L458.0,385.0 L458.5,386.6 L459.0,388.2 L459.5,389.8 L460.0,391.2 L460.5,392.6 L461.0,394.0 L461.5,395.3 L462.0,396.6 L462.5,397.8 L463.0,398.9 L463.5,400.0 L464.0,401.0 L464.5,402.0 L465.0,402.9 L465.5,403.8 L466.0,404.7 L466.5,405.5 L467.0,406.2 L467.5,406.9 L468.0,407.6 L468.5,408.2 L469.0,408.8 L469.5,409.3 L470.0,409.9 L470.5,410.3 L471.0,410.8 L471.5,411.2 L472.0,411.6 L472.5,411.9 L473.0,412.3 L473.5,412.6 L474.0,412.9 L474.5,413.1 L475.0,413.4 L475.5,413.6 L476.0,413.8 L476.5,414.0 L477.0,414.2 L477.5,414.4 L478.0,414.5 L478.5,414.6 L479.0,414.8 L479.5,414.9 L480.0,415.0 L480.5,415.1 L481.0,415.1 L481.5,415.2 L482.0,415.3 L482.5,415.3 L483.0,415.4 L483.5,415.5 L484.0,415.5 L484.5,415.5 L485.0,415.6" fill="none" stroke="#20b050" stroke-width="0.7"/>
<path d="M427.5,415.8 L428.0,415.8 L428.5,415.7 L429.0,415.7 L429.5,415.6 L430.0,415.6 L430.5,415.6 L431.0,415.5 L431.5,415.4 L432.0,415.4 L432.5,415.3 L433.0,415.2 L433.5,415.2 L434.0,415.1 L434.5,415.0 L435.0,414.9 L435.5,414.8 L436.0,414.7 L436.5,414.6 L437.0,414.5 L437.5,414.4 L438.0,414.3 L438.5,414.1 L439.0,414.0 L439.5,413.8 L440.0,413.7 L440.5,413.5 L441.0,413.4 L441.5,413.2 L442.0,413.0 L442.5,412.8 L443.0,412.6 L443.5,412.4 L444.0,412.2 L444.5,412.0 L445.0,411.8 L445.5,411.5 L446.0,411.3 L446.5,411.1 L447.0,410.8 L447.5,410.6 L448.0,410.3 L448.5,410.0 L449.0,409.8 L449.5,409.5 L450.0,409.3 L450.5,409.0 L451.0,408.7 L451.5,408.4 L452.0,408.2 L452.5,407.9 L453.0,407.6 L453.5,407.4 L454.0,407.1 L454.5,406.8 L455.0,406.6 L455.5,406.3 L456.0,406.1 L456.5,405.8 L457.0,405.6 L457.5,405.4 L458.0,405.2 L458.5,405.0 L459.0,404.8 L459.5,404.6 L460.0,404.4 L460.5,404.3 L461.0,404.1 L461.5,404.0 L462.0,403.9 L462.5,403.8 L463.0,403.7 L463.5,403.6 L464.0,403.5 L464.5,403.5 L465.0,403.5 L465.5,403.5 L466.0,403.5 L466.5,403.5 L467.0,403.5 L467.5,403.5 L468.0,403.5 L468.5,403.5 L469.0,403.6 L469.5,403.6 L470.0,403.7 L470.5,403.7 L471.0,403.8 L471.5,403.8 L472.0,403.9 L472.5,404.0 L473.0,404.0 L473.5,404.1 L474.0,404.2 L474.5,404.3 L475.0,404.4 L475.5,404.5 L476.0,404.6 L476.5,404.7 L477.0,404.8 L477.5,404.9 L478.0,405.0 L478.5,405.1 L479.0,405.2 L479.5,405.4 L480.0,405.5 L480.5,405.6 L481.0,405.8 L481.5,405.9 L482.0,406.0 L482.5,406.2 L483.0,406.3 L483.5,406.5 L484.0,406.6 L484.5,406.7 L485.0,406.9 L485.5,407.0 L486.0,407.2 L486.5,407.4 L487.0,407.5 L487.5,407.7 L488.0,407.8 L488.5,408.0 L489.0,408.1 L489.5,408.3 L490.0,408.4 L490.5,408.6 L491.0,408.8 L491.5,408.9 L492.0,409.1 L492.5,409.2 L493.0,409.4 L493.5,409.5 L494.0,409.7 L494.5,409.8 L495.0,410.0 L495.5,410.1 L496.0,410.3 L496.5,410.4 L497.0,410.6 L497.5,410.7 L498.0,410.8 L498.5,411.0 L499.0,411.1 L499.5,411.2 L500.0,411.4 L500.5,411.5 L501.0,411.6 L501.5,411.8 L502.0,411.9 L502.5,412.0 L503.0,412.1 L503.5,412.2 L504.0,412.4 L504.5,412.5 L505.0,412.6 L505.5,412.7 L506.0,412.8 L506.5,412.9 L507.0,413.0 L507.5,413.1 L508.0,413.2 L508.5,413.3 L509.0,413.4 L509.5,413.5 L510.0,413.5 L510.5,413.6 L511.0,413.7 L511.5,413.8 L512.0,413.9 L512.5,413.9 L513.0,414.0 L513.5,414.1 L514.0,414.1 L514.5,414.2 L515.0,414.3 L515.5,414.3 L516.0,414.4 L516.5,414.5 L517.0,414.5 L517.5,414.6 L518.0,414.6 L518.5,414.7 L519.0,414.7 L519.5,414.8 L520.0,414.8 L520.5,414.8 L521.0,414.9 L521.5,414.9 L522.0,415.0 L522.5,415.0 L523.0,415.0 L523.5,415.1 L524.0,415.1 L524.5,415.1 L525.0,415.1 L525.5,415.2 L526.0,415.2 L526.5,415.2 L527.0,415.2 L527.5,415.3 L528.0,415.3 L528.5,415.3 L529.0,415.3 L529.5,415.3 L530.0,415.4 L530.5,415.4 L531.0,415.4" fill="none" stroke="#d09000" stroke-width="0.9"/>
<path d="M306.5,417.50 L532.4,416.60" stroke="#2a7ee0" stroke-width="1.3"/>
<path d="M306.5,416.3 L307.0,416.3 L307.5,416.2 L308.0,416.2 L308.5,416.2 L309.0,416.2 L309.5,416.1 L310.0,416.1 L310.5,416.1 L311.0,416.1 L311.5,416.0 L312.0,416.0 L312.5,416.0 L313.0,416.0 L313.5,415.9 L314.0,415.9 L314.5,415.9 L315.0,415.9 L315.5,415.8 L316.0,415.8 L316.5,415.8 L317.0,415.7 L317.5,415.7 L318.0,415.7 L318.5,415.7 L319.0,415.6 L319.5,415.6 L320.0,415.6 L320.5,415.6 L321.0,415.5 L321.5,415.5 L322.0,415.5 L322.5,415.5 L323.0,415.4 L323.5,415.4 L324.0,415.4 L324.5,415.4 L325.0,415.3 L325.5,415.3 L326.0,415.3 L326.5,415.2 L327.0,415.2 L327.5,415.2 L328.0,415.2 L328.5,415.1 L329.0,415.1 L329.5,415.1 L330.0,415.1 L330.5,415.0 L331.0,415.0 L331.5,415.0 L332.0,415.0 L332.5,414.9 L333.0,414.9 L333.5,414.9 L334.0,414.8 L334.5,414.8 L335.0,414.8 L335.5,414.8 L336.0,414.7 L336.5,414.7 L337.0,414.7 L337.5,414.6 L338.0,414.6 L338.5,414.6 L339.0,414.6 L339.5,414.5 L340.0,414.5 L340.5,414.5 L341.0,414.4 L341.5,414.4 L342.0,414.3 L342.5,414.3 L343.0,414.3 L343.5,414.2 L344.0,414.2 L344.5,414.1 L345.0,414.1 L345.5,414.0 L346.0,414.0 L346.5,413.9 L347.0,413.9 L347.5,413.8 L348.0,413.8 L348.5,413.7 L349.0,413.6 L349.5,413.6 L350.0,413.5 L350.5,413.5 L351.0,413.4 L351.5,413.3 L352.0,413.2 L352.5,413.2 L353.0,413.1 L353.5,413.0 L354.0,412.9 L354.5,412.8 L355.0,412.7 L355.5,412.6 L356.0,412.5 L356.5,412.4 L357.0,412.3 L357.5,412.2 L358.0,412.0 L358.5,411.9 L359.0,411.7 L359.5,411.6 L360.0,411.4 L360.5,411.2 L361.0,411.0 L361.5,410.8 L362.0,410.6 L362.5,410.5 L363.0,410.3 L363.5,410.2 L364.0,410.0 L364.5,409.8 L365.0,409.5 L365.5,409.3 L366.0,409.1 L366.5,408.8 L367.0,408.5 L367.5,408.2 L368.0,407.8 L368.5,407.5 L369.0,407.1 L369.5,406.7 L370.0,406.3 L370.5,405.8 L371.0,405.3 L371.5,404.8 L372.0,404.3 L372.5,403.7 L373.0,403.1 L373.5,402.5 L374.0,401.9 L374.5,401.2 L375.0,400.5 L375.5,399.7 L376.0,398.9 L376.5,398.1 L377.0,397.3 L377.5,396.4 L378.0,395.5 L378.5,394.5 L379.0,393.6 L379.5,392.6 L380.0,391.5 L380.5,390.4 L381.0,389.3 L381.5,388.2 L382.0,386.9 L382.5,385.6 L383.0,384.3 L383.5,383.0 L384.0,381.6 L384.5,380.2 L385.0,378.8 L385.5,377.3 L386.0,375.8 L386.5,374.3 L387.0,372.7 L387.5,371.1 L388.0,369.5 L388.5,367.9 L389.0,366.2 L389.5,364.6 L390.0,362.9 L390.5,361.2 L391.0,359.6 L391.5,358.0 L392.0,356.3 L392.5,354.7 L393.0,353.1 L393.5,351.4 L394.0,349.8 L394.5,348.1 L395.0,345.9 L395.5,343.8 L396.0,341.6 L396.5,339.5 L397.0,337.4 L397.5,335.3 L398.0,333.2 L398.5,331.1 L399.0,329.0 L399.5,327.0 L400.0,324.9 L400.5,322.9 L401.0,321.2 L401.5,319.6 L402.0,318.0 L402.5,316.4 L403.0,314.8 L403.5,313.3 L404.0,311.8 L404.5,310.3 L405.0,308.8 L405.5,307.4 L406.0,306.0 L406.5,304.6 L407.0,303.3 L407.5,302.1 L408.0,300.9 L408.5,299.7 L409.0,298.6 L409.5,297.4 L410.0,296.3 L410.5,295.2 L411.0,294.1 L411.5,293.1 L412.0,292.0 L412.5,291.0 L413.0,290.1 L413.5,289.3 L414.0,288.4 L414.5,287.6 L415.0,286.8 L415.5,286.0 L416.0,285.2 L416.5,284.5 L417.0,283.7 L417.5,283.0 L418.0,282.3 L418.5,281.6 L419.0,280.9 L419.5,280.3 L420.0,279.6 L420.5,279.0 L421.0,278.5 L421.5,277.9 L422.0,277.4 L422.5,276.9 L423.0,276.5 L423.5,276.1 L424.0,275.7 L424.5,275.4 L425.0,275.2 L425.5,275.0 L426.0,274.8 L426.5,274.7 L427.0,274.6 L427.5,274.7 L428.0,274.7 L428.5,274.9 L429.0,274.8 L429.5,274.8 L430.0,274.8 L430.5,275.0 L431.0,275.2 L431.5,275.5 L432.0,275.8 L432.5,276.3 L433.0,276.8 L433.5,277.5 L434.0,278.2 L434.5,279.0 L435.0,279.8 L435.5,280.8 L436.0,281.8 L436.5,283.0 L437.0,284.2 L437.5,285.5 L438.0,286.8 L438.5,288.3 L439.0,289.9 L439.5,291.6 L440.0,293.4 L440.5,295.2 L441.0,297.1 L441.5,299.0 L442.0,301.0 L442.5,303.1 L443.0,305.2 L443.5,307.4 L444.0,309.6 L444.5,311.9 L445.0,314.2 L445.5,316.6 L446.0,318.9 L446.5,321.3 L447.0,323.6 L447.5,326.0 L448.0,328.5 L448.5,331.0 L449.0,333.4 L449.5,335.9 L450.0,338.3 L450.5,340.7 L451.0,343.1 L451.5,345.2 L452.0,347.3 L452.5,349.2 L453.0,351.2 L453.5,353.1 L454.0,355.0 L454.5,356.8 L455.0,358.5 L455.5,360.2 L456.0,361.9 L456.5,363.5 L457.0,365.1 L457.5,366.6 L458.0,368.1 L458.5,369.5 L459.0,370.9 L459.5,372.2 L460.0,373.4 L460.5,374.6 L461.0,375.8 L461.5,376.9 L462.0,378.0 L462.5,379.0 L463.0,380.0 L463.5,380.9 L464.0,381.8 L464.5,382.7 L465.0,383.5 L465.5,384.6 L466.0,385.7 L466.5,386.7 L467.0,387.7 L467.5,388.7 L468.0,389.6 L468.5,390.5 L469.0,391.3 L469.5,392.1 L470.0,392.9 L470.5,393.6 L471.0,394.4 L471.5,395.0 L472.0,395.7 L472.5,396.4 L473.0,397.0 L473.5,397.6 L474.0,398.2 L474.5,398.7 L475.0,399.3 L475.5,399.8 L476.0,400.3 L476.5,400.8 L477.0,401.3 L477.5,401.8 L478.0,402.3 L478.5,402.7 L479.0,403.2 L479.5,403.6 L480.0,404.0 L480.5,404.5 L481.0,404.9 L481.5,405.3 L482.0,405.5 L482.5,405.7 L483.0,405.9 L483.5,406.1 L484.0,406.2 L484.5,406.4 L485.0,406.5 L485.5,406.7 L486.0,406.9 L486.5,407.0 L487.0,407.2 L487.5,407.3 L488.0,407.4 L488.5,407.6 L489.0,407.7 L489.5,407.9 L490.0,408.0 L490.5,408.2 L491.0,408.3 L491.5,408.4 L492.0,408.5 L492.5,408.7 L493.0,408.8 L493.5,408.9 L494.0,409.0 L494.5,409.1 L495.0,409.2 L495.5,409.3 L496.0,409.4 L496.5,409.5 L497.0,409.5 L497.5,409.6 L498.0,409.7 L498.5,409.8 L499.0,409.9 L499.5,410.0 L500.0,410.1 L500.5,410.1 L501.0,410.2 L501.5,410.3 L502.0,410.4 L502.5,410.4 L503.0,410.5 L503.5,410.6 L504.0,410.6 L504.5,410.7 L505.0,410.7 L505.5,410.8 L506.0,410.8 L506.5,410.9 L507.0,410.9 L507.5,411.0 L508.0,411.0 L508.5,411.1 L509.0,411.1 L509.5,411.2 L510.0,411.3 L510.5,411.4 L511.0,411.5 L511.5,411.6 L512.0,411.7 L512.5,411.7 L513.0,411.8 L513.5,411.9 L514.0,412.0 L514.5,412.1 L515.0,412.1 L515.5,412.2 L516.0,412.3 L516.5,412.4 L517.0,412.4 L517.5,412.5 L518.0,412.5 L518.5,412.6 L519.0,412.7 L519.5,412.7 L520.0,412.8 L520.5,412.8 L521.0,412.9 L521.5,412.9 L522.0,413.0 L522.5,413.0 L523.0,413.1 L523.5,413.1 L524.0,413.2 L524.5,413.2 L525.0,413.2 L525.5,413.3 L526.0,413.3 L526.5,413.4 L527.0,413.4 L527.5,413.4 L528.0,413.5 L528.5,413.5 L529.0,413.5 L529.5,413.6 L530.0,413.6 L530.5,413.6 L531.0,413.6 L531.5,413.7 L532.0,413.7" fill="none" stroke="#ee3030" stroke-width="1.1"/>
<path d="M306.5,415.9 L307.1,415.9 L307.7,416.0 L308.3,416.0 L308.9,415.8 L309.5,415.7 L310.1,416.2 L310.7,416.8 L311.3,416.9 L311.9,416.4 L312.5,416.0 L313.1,416.6 L313.7,417.1 L314.3,417.2 L314.9,416.7 L315.5,416.2 L316.1,416.0 L316.7,415.8 L317.3,415.9 L317.9,416.4 L318.5,416.9 L319.1,416.9 L319.7,416.9 L320.3,417.0 L320.9,417.1 L321.5,417.2 L322.1,416.6 L322.7,415.9 L323.3,415.9 L323.9,416.4 L324.5,417.0 L325.1,417.0 L325.7,417.1 L326.3,416.9 L326.9,416.4 L327.5,415.9 L328.1,416.0 L328.7,416.2 L329.3,416.3 L329.9,416.4 L330.5,416.6 L331.1,416.2 L331.7,415.9 L332.3,416.0 L332.9,416.6 L333.5,417.1 L334.1,416.9 L334.7,416.8 L335.3,416.8 L335.9,416.9 L336.5,417.0 L337.1,416.7 L337.7,416.3 L338.3,416.2 L338.9,416.2 L339.5,416.3 L340.1,416.0 L340.7,415.7 L341.3,415.6 L341.9,415.7 L342.5,415.8 L343.1,416.2 L343.7,416.5 L344.3,416.8 L344.9,416.8 L345.5,416.4 L346.1,415.6 L346.7,414.8 L347.3,414.2 L347.9,413.8 L348.5,413.3 L349.1,412.9 L349.7,412.5 L350.3,412.2 L350.9,412.2 L351.5,412.1 L352.1,412.1 L352.7,412.0 L353.3,411.7 L353.9,411.2 L354.5,410.6 L355.1,410.5 L355.7,410.4 L356.3,410.2 L356.9,409.8 L357.5,409.3 L358.1,409.0 L358.7,408.6 L359.3,408.0 L359.9,407.3 L360.5,406.5 L361.1,406.0 L361.7,405.4 L362.3,405.1 L362.9,404.9 L363.5,404.8 L364.1,404.3 L364.7,403.9 L365.3,403.5 L365.9,403.1 L366.5,402.7 L367.1,402.5 L367.7,402.3 L368.3,401.9 L368.9,401.5 L369.5,401.3 L370.1,401.0 L370.7,400.7 L371.3,400.7 L371.9,401.0 L372.5,400.6 L373.1,400.1 L373.7,399.6 L374.3,399.1 L374.9,398.5 L375.5,397.8 L376.1,396.9 L376.7,395.9 L377.3,395.2 L377.9,394.7 L378.5,394.1 L379.1,392.9 L379.7,391.8 L380.3,390.8 L380.9,389.9 L381.5,389.1 L382.1,387.5 L382.7,386.0 L383.3,384.5 L383.9,383.0 L384.5,381.5 L385.1,379.9 L385.7,378.3 L386.3,376.4 L386.9,374.3 L387.5,372.2 L388.1,370.4 L388.7,368.5 L389.3,366.5 L389.9,364.5 L390.5,362.8 L391.1,361.6 L391.7,360.5 L392.3,359.3 L392.9,357.8 L393.5,356.4 L394.1,355.3 L394.7,354.1 L395.3,352.9 L395.9,351.7 L396.5,350.6 L397.1,349.2 L397.7,347.9 L398.3,345.9 L398.9,343.7 L399.5,341.6 L400.1,339.4 L400.7,337.2 L401.3,335.0 L401.9,332.8 L402.5,330.6 L403.1,328.4 L403.7,326.3 L404.3,324.0 L404.9,321.8 L405.5,319.6 L406.1,317.4 L406.7,315.2 L407.3,313.1 L407.9,311.0 L408.5,308.9 L409.1,306.8 L409.7,304.7 L410.3,302.6 L410.9,300.4 L411.5,298.0 L412.1,295.5 L412.7,293.0 L413.3,290.4 L413.9,287.8 L414.5,285.2 L415.1,282.6 L415.7,280.1 L416.3,277.1 L416.9,274.1 L417.5,272.6 L418.1,272.3 L418.7,271.8 L419.3,271.3 L419.9,270.6 L420.5,269.5 L421.1,267.9 L421.7,266.3 L422.3,264.8 L422.9,263.7 L423.5,262.9 L424.1,261.9 L424.7,260.8 L425.3,259.8 L425.9,258.7 L426.5,258.3 L427.1,259.1 L427.7,259.7 L428.3,260.4 L428.9,261.7 L429.5,263.4 L430.1,264.8 L430.7,266.2 L431.3,267.7 L431.9,269.4 L432.5,271.1 L433.1,272.6 L433.7,274.0 L434.3,276.4 L434.9,279.1 L435.5,281.8 L436.1,284.5 L436.7,287.3 L437.3,290.3 L437.9,293.2 L438.5,296.1 L439.1,299.2 L439.7,302.3 L440.3,305.0 L440.9,307.8 L441.5,310.5 L442.1,313.2 L442.7,315.7 L443.3,318.0 L443.9,320.3 L444.5,322.6 L445.1,324.9 L445.7,327.1 L446.3,329.1 L446.9,331.1 L447.5,333.0 L448.1,335.1 L448.7,337.1 L449.3,339.2 L449.9,341.2 L450.5,343.1 L451.1,345.1 L451.7,347.2 L452.3,349.1 L452.9,351.0 L453.5,352.9 L454.1,355.0 L454.7,357.1 L455.3,359.2 L455.9,361.3 L456.5,363.4 L457.1,365.4 L457.7,367.4 L458.3,369.3 L458.9,371.2 L459.5,373.0 L460.1,375.0 L460.7,377.0 L461.3,378.6 L461.9,379.6 L462.5,380.5 L463.1,381.4 L463.7,382.3 L464.3,383.3 L464.9,384.2 L465.5,385.1 L466.1,385.9 L466.7,386.6 L467.3,387.4 L467.9,388.2 L468.5,389.0 L469.1,389.5 L469.7,390.1 L470.3,390.7 L470.9,391.3 L471.5,392.0 L472.1,392.7 L472.7,393.4 L473.3,394.0 L473.9,394.6 L474.5,395.2 L475.1,395.9 L475.7,396.6 L476.3,397.1 L476.9,397.5 L477.5,397.9 L478.1,398.6 L478.7,399.2 L479.3,399.8 L479.9,400.2 L480.5,400.7 L481.1,400.9 L481.7,401.2 L482.3,401.5 L482.9,402.0 L483.5,402.4 L484.1,402.9 L484.7,403.5 L485.3,403.9 L485.9,404.1 L486.5,404.3 L487.1,404.3 L487.7,404.3 L488.3,404.7 L488.9,405.3 L489.5,405.9 L490.1,406.1 L490.7,406.2 L491.3,406.5 L491.9,407.0 L492.5,407.5 L493.1,407.7 L493.7,407.9 L494.3,408.2 L494.9,408.6 L495.5,408.9 L496.1,409.1 L496.7,409.2 L497.3,409.4 L497.9,409.7 L498.5,409.9 L499.1,409.5 L499.7,409.0 L500.3,408.9 L500.9,409.0 L501.5,409.1 L502.1,408.9 L502.7,408.7 L503.3,409.0 L503.9,409.6 L504.5,410.3 L505.1,409.8 L505.7,409.4 L506.3,409.4 L506.9,409.8 L507.5,410.2 L508.1,410.2 L508.7,410.3 L509.3,410.5 L509.9,410.9 L510.5,411.2 L511.1,411.0 L511.7,410.8 L512.3,410.7 L512.9,410.7 L513.5,410.6 L514.1,410.9 L514.7,411.2 L515.3,411.2 L515.9,411.0 L516.5,410.7 L517.1,411.0 L517.7,411.2 L518.3,411.5 L518.9,411.8 L519.5,412.1 L520.1,411.7 L520.7,411.4 L521.3,411.5 L521.9,412.3 L522.5,413.1 L523.1,412.8 L523.7,412.5 L524.3,412.3 L524.9,412.1 L525.5,412.0 L526.1,412.5 L526.7,413.0 L527.3,412.9 L527.9,412.4 L528.5,412.0 L529.1,412.2 L529.7,412.3 L530.3,412.7 L530.9,413.2 L531.5,413.8 L532.1,413.3" fill="none" stroke="#2a2a2a" stroke-width="0.9"/>
<rect x="306" y="239.5" width="226.7" height="182.4" fill="none" stroke="#333" stroke-width="1.4"/>
<path d="M306.00,421.90 V425.10 M351.34,421.90 V425.10 M396.68,421.90 V425.10 M442.02,421.90 V425.10 M487.36,421.90 V425.10 M532.70,421.90 V425.10 M328.67,421.90 V424.10 M374.01,421.90 V424.10 M419.35,421.90 V424.10 M464.69,421.90 V424.10 M510.03,421.90 V424.10 " stroke="#333" stroke-width="1.2" fill="none"/>
<text x="306" y="435.8" font-size="9.3" font-weight="bold" fill="#111" text-anchor="middle">526</text>
<text x="351.34" y="435.8" font-size="9.3" font-weight="bold" fill="#111" text-anchor="middle">528</text>
<text x="396.68" y="435.8" font-size="9.3" font-weight="bold" fill="#111" text-anchor="middle">530</text>
<text x="442.02" y="435.8" font-size="9.3" font-weight="bold" fill="#111" text-anchor="middle">532</text>
<text x="487.36" y="435.8" font-size="9.3" font-weight="bold" fill="#111" text-anchor="middle">534</text>
<text x="532.7" y="435.8" font-size="9.3" font-weight="bold" fill="#111" text-anchor="middle">536</text>
<text x="419.25" y="448.6" font-size="9.5" font-weight="bold" fill="#111" text-anchor="middle">Binding energy (eV)</text>
<text transform="translate(292.3,327.2) rotate(-90)" x="0" y="0" font-size="9.6" font-weight="bold" fill="#111" text-anchor="middle">Intensity (a.u.)</text>
<text x="308.21" y="254.4" font-size="15.7" font-weight="bold" fill="#111" style="stroke-width:0.1px">(d)</text>
<text x="441.96" y="268.9" font-size="9.5" font-weight="bold" fill="#111">46.1%</text>
<text x="449.22" y="311.9" font-size="9.5" font-weight="bold" fill="#111">OVs</text>
<text x="384.72" y="329.8" font-size="9.5" font-weight="bold" fill="#111">O</text>
<text x="392.2" y="332.1" font-size="6.3" font-weight="bold" fill="#111">L</text>
<text x="477.42" y="400.2" font-size="9.5" font-weight="bold" fill="#111">O</text>
<text x="485.05" y="402.5" font-size="6.3" font-weight="bold" fill="#111">C</text>
<line x1="436.80" y1="308.90" x2="453.79" y2="276.33" stroke="#222" stroke-width="1.0"/>
<path d="M456.10,271.90 L455.74,277.35 L451.84,275.32 Z" fill="#222"/>
<clipPath id="ce_p"><path d="M206.5,602.5 L207.0,602.5 L207.5,602.5 L208.0,602.4 L208.5,602.4 L209.0,602.4 L209.5,602.3 L210.0,602.3 L210.5,602.3 L211.0,602.2 L211.5,602.1 L212.0,602.0 L212.5,602.0 L213.0,601.8 L213.5,601.7 L214.0,601.6 L214.5,601.4 L215.0,601.2 L215.5,601.0 L216.0,600.7 L216.5,600.4 L217.0,600.0 L217.5,599.6 L218.0,599.2 L218.5,598.7 L219.0,598.1 L219.5,597.5 L220.0,596.7 L220.5,595.9 L221.0,595.0 L221.5,594.0 L222.0,592.9 L222.5,591.7 L223.0,590.3 L223.5,588.8 L224.0,587.2 L224.5,585.5 L225.0,583.6 L225.5,581.5 L226.0,579.3 L226.5,577.0 L227.0,574.5 L227.5,571.8 L228.0,569.0 L228.5,566.0 L229.0,562.9 L229.5,559.6 L230.0,556.2 L230.5,552.7 L231.0,549.1 L231.5,545.4 L232.0,541.7 L232.5,537.8 L233.0,534.0 L233.5,530.1 L234.0,526.2 L234.5,522.3 L235.0,518.5 L235.5,514.8 L236.0,511.2 L236.5,507.8 L237.0,504.5 L237.5,501.3 L238.0,498.4 L238.5,495.8 L239.0,493.3 L239.5,491.2 L240.0,489.4 L240.5,487.8 L241.0,486.6 L241.5,485.7 L242.0,485.2 L242.5,485.0 L243.0,485.2 L243.5,485.7 L244.0,486.5 L244.5,487.7 L245.0,489.2 L245.5,491.0 L246.0,493.0 L246.5,495.4 L247.0,497.9 L247.5,500.8 L248.0,503.8 L248.5,507.0 L249.0,510.4 L249.5,513.9 L250.0,517.5 L250.5,521.2 L251.0,525.0 L251.5,528.8 L252.0,532.6 L252.5,536.4 L253.0,540.2 L253.5,543.9 L254.0,547.6 L254.5,551.2 L255.0,554.6 L255.5,558.0 L256.0,561.3 L256.5,564.4 L257.0,567.4 L257.5,570.2 L258.0,572.9 L258.5,575.4 L259.0,577.8 L259.5,580.0 L260.0,582.1 L260.5,584.1 L261.0,585.9 L261.5,587.5 L262.0,589.1 L262.5,590.5 L263.0,591.7 L263.5,592.9 L264.0,594.0 L264.5,594.9 L265.0,595.8 L265.5,596.5 L266.0,597.2 L266.5,597.8 L267.0,598.4 L267.5,598.9 L268.0,599.3 L268.5,599.7 L269.0,600.0 L269.5,600.3 L270.0,600.5 L270.5,600.7 L271.0,600.9 L271.5,601.1 L272.0,601.2 L272.5,601.3 L273.0,601.4 L273.5,601.5 L274.0,601.6 L274.5,601.7 L275.0,601.7 L275.5,601.7 L276.0,601.8 L276.5,601.8 L277.0,601.8 L277.5,601.8 L278.0,601.9 L278.5,601.9 L279.0,601.9 L279.0,603.9 L278.5,603.9 L278.0,603.9 L277.5,603.9 L277.0,603.9 L276.5,603.9 L276.0,604.0 L275.5,604.0 L275.0,604.0 L274.5,604.0 L274.0,604.0 L273.5,604.0 L273.0,604.0 L272.5,604.0 L272.0,604.0 L271.5,604.0 L271.0,604.0 L270.5,604.0 L270.0,604.0 L269.5,604.0 L269.0,604.0 L268.5,604.0 L268.0,604.0 L267.5,604.0 L267.0,604.0 L266.5,604.0 L266.0,604.0 L265.5,604.0 L265.0,604.0 L264.5,604.1 L264.0,604.1 L263.5,604.1 L263.0,604.1 L262.5,604.1 L262.0,604.1 L261.5,604.1 L261.0,604.1 L260.5,604.1 L260.0,604.1 L259.5,604.1 L259.0,604.1 L258.5,604.1 L258.0,604.1 L257.5,604.1 L257.0,604.1 L256.5,604.1 L256.0,604.1 L255.5,604.1 L255.0,604.1 L254.5,604.1 L254.0,604.1 L253.5,604.1 L253.0,604.1 L252.5,604.2 L252.0,604.2 L251.5,604.2 L251.0,604.2 L250.5,604.2 L250.0,604.2 L249.5,604.2 L249.0,604.2 L248.5,604.2 L248.0,604.2 L247.5,604.2 L247.0,604.2 L246.5,604.2 L246.0,604.2 L245.5,604.2 L245.0,604.2 L244.5,604.2 L244.0,604.2 L243.5,604.2 L243.0,604.2 L242.5,604.2 L242.0,604.2 L241.5,604.2 L241.0,604.3 L240.5,604.3 L240.0,604.3 L239.5,604.3 L239.0,604.3 L238.5,604.3 L238.0,604.3 L237.5,604.3 L237.0,604.3 L236.5,604.3 L236.0,604.3 L235.5,604.3 L235.0,604.3 L234.5,604.3 L234.0,604.3 L233.5,604.3 L233.0,604.3 L232.5,604.3 L232.0,604.3 L231.5,604.3 L231.0,604.3 L230.5,604.3 L230.0,604.3 L229.5,604.3 L229.0,604.4 L228.5,604.4 L228.0,604.4 L227.5,604.4 L227.0,604.4 L226.5,604.4 L226.0,604.4 L225.5,604.4 L225.0,604.4 L224.5,604.4 L224.0,604.4 L223.5,604.4 L223.0,604.4 L222.5,604.4 L222.0,604.4 L221.5,604.4 L221.0,604.4 L220.5,604.4 L220.0,604.4 L219.5,604.4 L219.0,604.4 L218.5,604.4 L218.0,604.4 L217.5,604.5 L217.0,604.5 L216.5,604.5 L216.0,604.5 L215.5,604.5 L215.0,604.5 L214.5,604.5 L214.0,604.5 L213.5,604.5 L213.0,604.5 L212.5,604.5 L212.0,604.5 L211.5,604.5 L211.0,604.5 L210.5,604.5 L210.0,604.5 L209.5,604.5 L209.0,604.5 L208.5,604.5 L208.0,604.5 L207.5,604.5 L207.0,604.5 L206.5,604.5 Z"/></clipPath>
<clipPath id="ce_g"><path d="M242.5,602.2 L243.0,602.2 L243.5,602.2 L244.0,602.1 L244.5,602.1 L245.0,602.1 L245.5,602.1 L246.0,602.0 L246.5,602.0 L247.0,602.0 L247.5,601.9 L248.0,601.9 L248.5,601.8 L249.0,601.7 L249.5,601.6 L250.0,601.6 L250.5,601.5 L251.0,601.3 L251.5,601.2 L252.0,601.1 L252.5,600.9 L253.0,600.7 L253.5,600.6 L254.0,600.3 L254.5,600.1 L255.0,599.9 L255.5,599.6 L256.0,599.3 L256.5,598.9 L257.0,598.6 L257.5,598.2 L258.0,597.8 L258.5,597.3 L259.0,596.9 L259.5,596.4 L260.0,595.8 L260.5,595.3 L261.0,594.7 L261.5,594.1 L262.0,593.4 L262.5,592.7 L263.0,592.1 L263.5,591.4 L264.0,590.6 L264.5,589.9 L265.0,589.1 L265.5,588.4 L266.0,587.6 L266.5,586.9 L267.0,586.1 L267.5,585.4 L268.0,584.7 L268.5,584.0 L269.0,583.3 L269.5,582.7 L270.0,582.1 L270.5,581.5 L271.0,581.0 L271.5,580.6 L272.0,580.2 L272.5,579.8 L273.0,579.5 L273.5,579.3 L274.0,579.1 L274.5,579.0 L275.0,579.0 L275.5,579.0 L276.0,579.1 L276.5,579.3 L277.0,579.6 L277.5,579.9 L278.0,580.3 L278.5,580.8 L279.0,581.3 L279.5,581.9 L280.0,582.5 L280.5,583.2 L281.0,583.9 L281.5,584.6 L282.0,585.4 L282.5,586.2 L283.0,587.0 L283.5,587.8 L284.0,588.6 L284.5,589.4 L285.0,590.2 L285.5,591.0 L286.0,591.7 L286.5,592.5 L287.0,593.2 L287.5,593.9 L288.0,594.5 L288.5,595.1 L289.0,595.7 L289.5,596.3 L290.0,596.8 L290.5,597.3 L291.0,597.8 L291.5,598.2 L292.0,598.6 L292.5,598.9 L293.0,599.2 L293.5,599.5 L294.0,599.8 L294.5,600.0 L295.0,600.3 L295.5,600.4 L296.0,600.6 L296.5,600.8 L297.0,600.9 L297.5,601.0 L298.0,601.1 L298.5,601.2 L299.0,601.3 L299.5,601.4 L300.0,601.4 L300.5,601.5 L301.0,601.5 L301.5,601.5 L302.0,601.6 L302.5,601.6 L303.0,601.6 L303.5,601.6 L304.0,601.6 L304.5,601.6 L305.0,601.7 L305.0,603.7 L304.5,603.7 L304.0,603.7 L303.5,603.7 L303.0,603.7 L302.5,603.7 L302.0,603.7 L301.5,603.7 L301.0,603.7 L300.5,603.7 L300.0,603.8 L299.5,603.8 L299.0,603.8 L298.5,603.8 L298.0,603.8 L297.5,603.8 L297.0,603.8 L296.5,603.8 L296.0,603.8 L295.5,603.8 L295.0,603.8 L294.5,603.8 L294.0,603.8 L293.5,603.8 L293.0,603.8 L292.5,603.8 L292.0,603.8 L291.5,603.8 L291.0,603.8 L290.5,603.8 L290.0,603.8 L289.5,603.8 L289.0,603.8 L288.5,603.8 L288.0,603.9 L287.5,603.9 L287.0,603.9 L286.5,603.9 L286.0,603.9 L285.5,603.9 L285.0,603.9 L284.5,603.9 L284.0,603.9 L283.5,603.9 L283.0,603.9 L282.5,603.9 L282.0,603.9 L281.5,603.9 L281.0,603.9 L280.5,603.9 L280.0,603.9 L279.5,603.9 L279.0,603.9 L278.5,603.9 L278.0,603.9 L277.5,603.9 L277.0,603.9 L276.5,603.9 L276.0,604.0 L275.5,604.0 L275.0,604.0 L274.5,604.0 L274.0,604.0 L273.5,604.0 L273.0,604.0 L272.5,604.0 L272.0,604.0 L271.5,604.0 L271.0,604.0 L270.5,604.0 L270.0,604.0 L269.5,604.0 L269.0,604.0 L268.5,604.0 L268.0,604.0 L267.5,604.0 L267.0,604.0 L266.5,604.0 L266.0,604.0 L265.5,604.0 L265.0,604.0 L264.5,604.1 L264.0,604.1 L263.5,604.1 L263.0,604.1 L262.5,604.1 L262.0,604.1 L261.5,604.1 L261.0,604.1 L260.5,604.1 L260.0,604.1 L259.5,604.1 L259.0,604.1 L258.5,604.1 L258.0,604.1 L257.5,604.1 L257.0,604.1 L256.5,604.1 L256.0,604.1 L255.5,604.1 L255.0,604.1 L254.5,604.1 L254.0,604.1 L253.5,604.1 L253.0,604.1 L252.5,604.2 L252.0,604.2 L251.5,604.2 L251.0,604.2 L250.5,604.2 L250.0,604.2 L249.5,604.2 L249.0,604.2 L248.5,604.2 L248.0,604.2 L247.5,604.2 L247.0,604.2 L246.5,604.2 L246.0,604.2 L245.5,604.2 L245.0,604.2 L244.5,604.2 L244.0,604.2 L243.5,604.2 L243.0,604.2 L242.5,604.2 Z"/></clipPath>
<path d="M206.5,602.5 L207.0,602.5 L207.5,602.5 L208.0,602.4 L208.5,602.4 L209.0,602.4 L209.5,602.3 L210.0,602.3 L210.5,602.3 L211.0,602.2 L211.5,602.1 L212.0,602.0 L212.5,602.0 L213.0,601.8 L213.5,601.7 L214.0,601.6 L214.5,601.4 L215.0,601.2 L215.5,601.0 L216.0,600.7 L216.5,600.4 L217.0,600.0 L217.5,599.6 L218.0,599.2 L218.5,598.7 L219.0,598.1 L219.5,597.5 L220.0,596.7 L220.5,595.9 L221.0,595.0 L221.5,594.0 L222.0,592.9 L222.5,591.7 L223.0,590.3 L223.5,588.8 L224.0,587.2 L224.5,585.5 L225.0,583.6 L225.5,581.5 L226.0,579.3 L226.5,577.0 L227.0,574.5 L227.5,571.8 L228.0,569.0 L228.5,566.0 L229.0,562.9 L229.5,559.6 L230.0,556.2 L230.5,552.7 L231.0,549.1 L231.5,545.4 L232.0,541.7 L232.5,537.8 L233.0,534.0 L233.5,530.1 L234.0,526.2 L234.5,522.3 L235.0,518.5 L235.5,514.8 L236.0,511.2 L236.5,507.8 L237.0,504.5 L237.5,501.3 L238.0,498.4 L238.5,495.8 L239.0,493.3 L239.5,491.2 L240.0,489.4 L240.5,487.8 L241.0,486.6 L241.5,485.7 L242.0,485.2 L242.5,485.0 L243.0,485.2 L243.5,485.7 L244.0,486.5 L244.5,487.7 L245.0,489.2 L245.5,491.0 L246.0,493.0 L246.5,495.4 L247.0,497.9 L247.5,500.8 L248.0,503.8 L248.5,507.0 L249.0,510.4 L249.5,513.9 L250.0,517.5 L250.5,521.2 L251.0,525.0 L251.5,528.8 L252.0,532.6 L252.5,536.4 L253.0,540.2 L253.5,543.9 L254.0,547.6 L254.5,551.2 L255.0,554.6 L255.5,558.0 L256.0,561.3 L256.5,564.4 L257.0,567.4 L257.5,570.2 L258.0,572.9 L258.5,575.4 L259.0,577.8 L259.5,580.0 L260.0,582.1 L260.5,584.1 L261.0,585.9 L261.5,587.5 L262.0,589.1 L262.5,590.5 L263.0,591.7 L263.5,592.9 L264.0,594.0 L264.5,594.9 L265.0,595.8 L265.5,596.5 L266.0,597.2 L266.5,597.8 L267.0,598.4 L267.5,598.9 L268.0,599.3 L268.5,599.7 L269.0,600.0 L269.5,600.3 L270.0,600.5 L270.5,600.7 L271.0,600.9 L271.5,601.1 L272.0,601.2 L272.5,601.3 L273.0,601.4 L273.5,601.5 L274.0,601.6 L274.5,601.7 L275.0,601.7 L275.5,601.7 L276.0,601.8 L276.5,601.8 L277.0,601.8 L277.5,601.8 L278.0,601.9 L278.5,601.9 L279.0,601.9 L279.0,601.9 L278.5,601.9 L278.0,601.9 L277.5,601.9 L277.0,601.9 L276.5,601.9 L276.0,602.0 L275.5,602.0 L275.0,602.0 L274.5,602.0 L274.0,602.0 L273.5,602.0 L273.0,602.0 L272.5,602.0 L272.0,602.0 L271.5,602.0 L271.0,602.0 L270.5,602.0 L270.0,602.0 L269.5,602.0 L269.0,602.0 L268.5,602.0 L268.0,602.0 L267.5,602.0 L267.0,602.0 L266.5,602.0 L266.0,602.0 L265.5,602.0 L265.0,602.0 L264.5,602.1 L264.0,602.1 L263.5,602.1 L263.0,602.1 L262.5,602.1 L262.0,602.1 L261.5,602.1 L261.0,602.1 L260.5,602.1 L260.0,602.1 L259.5,602.1 L259.0,602.1 L258.5,602.1 L258.0,602.1 L257.5,602.1 L257.0,602.1 L256.5,602.1 L256.0,602.1 L255.5,602.1 L255.0,602.1 L254.5,602.1 L254.0,602.1 L253.5,602.1 L253.0,602.1 L252.5,602.2 L252.0,602.2 L251.5,602.2 L251.0,602.2 L250.5,602.2 L250.0,602.2 L249.5,602.2 L249.0,602.2 L248.5,602.2 L248.0,602.2 L247.5,602.2 L247.0,602.2 L246.5,602.2 L246.0,602.2 L245.5,602.2 L245.0,602.2 L244.5,602.2 L244.0,602.2 L243.5,602.2 L243.0,602.2 L242.5,602.2 L242.0,602.2 L241.5,602.2 L241.0,602.3 L240.5,602.3 L240.0,602.3 L239.5,602.3 L239.0,602.3 L238.5,602.3 L238.0,602.3 L237.5,602.3 L237.0,602.3 L236.5,602.3 L236.0,602.3 L235.5,602.3 L235.0,602.3 L234.5,602.3 L234.0,602.3 L233.5,602.3 L233.0,602.3 L232.5,602.3 L232.0,602.3 L231.5,602.3 L231.0,602.3 L230.5,602.3 L230.0,602.3 L229.5,602.3 L229.0,602.4 L228.5,602.4 L228.0,602.4 L227.5,602.4 L227.0,602.4 L226.5,602.4 L226.0,602.4 L225.5,602.4 L225.0,602.4 L224.5,602.4 L224.0,602.4 L223.5,602.4 L223.0,602.4 L222.5,602.4 L222.0,602.4 L221.5,602.4 L221.0,602.4 L220.5,602.4 L220.0,602.4 L219.5,602.4 L219.0,602.4 L218.5,602.4 L218.0,602.4 L217.5,602.5 L217.0,602.5 L216.5,602.5 L216.0,602.5 L215.5,602.5 L215.0,602.5 L214.5,602.5 L214.0,602.5 L213.5,602.5 L213.0,602.5 L212.5,602.5 L212.0,602.5 L211.5,602.5 L211.0,602.5 L210.5,602.5 L210.0,602.5 L209.5,602.5 L209.0,602.5 L208.5,602.5 L208.0,602.5 L207.5,602.5 L207.0,602.5 L206.5,602.5 Z" fill="#ff94f8"/>
<path d="M255.0,602.1 L255.5,602.1 L256.0,602.1 L256.5,602.0 L257.0,602.0 L257.5,602.0 L258.0,602.0 L258.5,602.0 L259.0,601.9 L259.5,601.9 L260.0,601.9 L260.5,601.8 L261.0,601.8 L261.5,601.8 L262.0,601.7 L262.5,601.7 L263.0,601.6 L263.5,601.6 L264.0,601.5 L264.5,601.4 L265.0,601.3 L265.5,601.2 L266.0,601.1 L266.5,601.0 L267.0,600.9 L267.5,600.8 L268.0,600.7 L268.5,600.5 L269.0,600.4 L269.5,600.2 L270.0,600.0 L270.5,599.8 L271.0,599.6 L271.5,599.4 L272.0,599.1 L272.5,598.9 L273.0,598.6 L273.5,598.3 L274.0,598.0 L274.5,597.7 L275.0,597.4 L275.5,597.0 L276.0,596.7 L276.5,596.3 L277.0,595.9 L277.5,595.5 L278.0,595.0 L278.5,594.6 L279.0,594.1 L279.5,593.7 L280.0,593.2 L280.5,592.7 L281.0,592.2 L281.5,591.7 L282.0,591.2 L282.5,590.7 L283.0,590.2 L283.5,589.7 L284.0,589.2 L284.5,588.7 L285.0,588.2 L285.5,587.7 L286.0,587.2 L286.5,586.7 L287.0,586.3 L287.5,585.8 L288.0,585.4 L288.5,585.0 L289.0,584.6 L289.5,584.3 L290.0,584.0 L290.5,583.7 L291.0,583.4 L291.5,583.2 L292.0,583.0 L292.5,582.8 L293.0,582.7 L293.5,582.6 L294.0,582.5 L294.5,582.5 L295.0,582.5 L295.5,582.5 L296.0,582.6 L296.5,582.7 L297.0,582.7 L297.5,582.9 L298.0,583.0 L298.5,583.1 L299.0,583.3 L299.5,583.5 L300.0,583.7 L300.5,583.9 L301.0,584.2 L301.5,584.4 L302.0,584.7 L302.5,585.0 L303.0,585.3 L303.5,585.6 L304.0,585.9 L304.5,586.3 L305.0,586.6 L305.5,587.0 L306.0,587.3 L306.5,587.7 L307.0,588.1 L307.5,588.4 L308.0,588.8 L308.5,589.2 L309.0,589.6 L309.5,590.0 L310.0,590.3 L310.5,590.7 L311.0,591.1 L311.5,591.5 L312.0,591.9 L312.5,592.2 L313.0,592.6 L313.5,593.0 L314.0,593.3 L314.5,593.7 L315.0,594.0 L315.5,594.4 L316.0,594.7 L316.5,595.0 L317.0,595.3 L317.5,595.6 L318.0,595.9 L318.5,596.2 L319.0,596.5 L319.5,596.8 L320.0,597.0 L320.5,597.3 L321.0,597.5 L321.5,597.7 L322.0,598.0 L322.5,598.2 L323.0,598.4 L323.5,598.6 L324.0,598.8 L324.5,598.9 L325.0,599.1 L325.5,599.3 L326.0,599.4 L326.5,599.5 L327.0,599.7 L327.5,599.8 L328.0,599.9 L328.5,600.0 L329.0,600.1 L329.5,600.2 L330.0,600.3 L330.5,600.4 L331.0,600.5 L331.5,600.6 L332.0,600.6 L332.5,600.7 L333.0,600.8 L333.5,600.8 L334.0,600.9 L334.5,600.9 L335.0,600.9 L335.5,601.0 L336.0,601.0 L336.5,601.1 L337.0,601.1 L337.5,601.1 L338.0,601.1 L338.5,601.2 L339.0,601.2 L339.5,601.2 L340.0,601.2 L340.5,601.2 L341.0,601.2 L341.5,601.3 L342.0,601.3 L342.5,601.3 L343.0,601.3 L343.5,601.3 L344.0,601.3 L344.5,601.3 L345.0,601.3 L345.5,601.3 L346.0,601.3 L346.0,601.4 L345.5,601.4 L345.0,601.4 L344.5,601.4 L344.0,601.4 L343.5,601.4 L343.0,601.4 L342.5,601.4 L342.0,601.4 L341.5,601.4 L341.0,601.4 L340.5,601.4 L340.0,601.4 L339.5,601.4 L339.0,601.4 L338.5,601.4 L338.0,601.4 L337.5,601.4 L337.0,601.4 L336.5,601.4 L336.0,601.4 L335.5,601.4 L335.0,601.5 L334.5,601.5 L334.0,601.5 L333.5,601.5 L333.0,601.5 L332.5,601.5 L332.0,601.5 L331.5,601.5 L331.0,601.5 L330.5,601.5 L330.0,601.5 L329.5,601.5 L329.0,601.5 L328.5,601.5 L328.0,601.5 L327.5,601.5 L327.0,601.5 L326.5,601.5 L326.0,601.5 L325.5,601.5 L325.0,601.5 L324.5,601.5 L324.0,601.5 L323.5,601.6 L323.0,601.6 L322.5,601.6 L322.0,601.6 L321.5,601.6 L321.0,601.6 L320.5,601.6 L320.0,601.6 L319.5,601.6 L319.0,601.6 L318.5,601.6 L318.0,601.6 L317.5,601.6 L317.0,601.6 L316.5,601.6 L316.0,601.6 L315.5,601.6 L315.0,601.6 L314.5,601.6 L314.0,601.6 L313.5,601.6 L313.0,601.6 L312.5,601.6 L312.0,601.6 L311.5,601.7 L311.0,601.7 L310.5,601.7 L310.0,601.7 L309.5,601.7 L309.0,601.7 L308.5,601.7 L308.0,601.7 L307.5,601.7 L307.0,601.7 L306.5,601.7 L306.0,601.7 L305.5,601.7 L305.0,601.7 L304.5,601.7 L304.0,601.7 L303.5,601.7 L303.0,601.7 L302.5,601.7 L302.0,601.7 L301.5,601.7 L301.0,601.7 L300.5,601.7 L300.0,601.8 L299.5,601.8 L299.0,601.8 L298.5,601.8 L298.0,601.8 L297.5,601.8 L297.0,601.8 L296.5,601.8 L296.0,601.8 L295.5,601.8 L295.0,601.8 L294.5,601.8 L294.0,601.8 L293.5,601.8 L293.0,601.8 L292.5,601.8 L292.0,601.8 L291.5,601.8 L291.0,601.8 L290.5,601.8 L290.0,601.8 L289.5,601.8 L289.0,601.8 L288.5,601.8 L288.0,601.9 L287.5,601.9 L287.0,601.9 L286.5,601.9 L286.0,601.9 L285.5,601.9 L285.0,601.9 L284.5,601.9 L284.0,601.9 L283.5,601.9 L283.0,601.9 L282.5,601.9 L282.0,601.9 L281.5,601.9 L281.0,601.9 L280.5,601.9 L280.0,601.9 L279.5,601.9 L279.0,601.9 L278.5,601.9 L278.0,601.9 L277.5,601.9 L277.0,601.9 L276.5,601.9 L276.0,602.0 L275.5,602.0 L275.0,602.0 L274.5,602.0 L274.0,602.0 L273.5,602.0 L273.0,602.0 L272.5,602.0 L272.0,602.0 L271.5,602.0 L271.0,602.0 L270.5,602.0 L270.0,602.0 L269.5,602.0 L269.0,602.0 L268.5,602.0 L268.0,602.0 L267.5,602.0 L267.0,602.0 L266.5,602.0 L266.0,602.0 L265.5,602.0 L265.0,602.0 L264.5,602.1 L264.0,602.1 L263.5,602.1 L263.0,602.1 L262.5,602.1 L262.0,602.1 L261.5,602.1 L261.0,602.1 L260.5,602.1 L260.0,602.1 L259.5,602.1 L259.0,602.1 L258.5,602.1 L258.0,602.1 L257.5,602.1 L257.0,602.1 L256.5,602.1 L256.0,602.1 L255.5,602.1 L255.0,602.1 Z" fill="#e89c6c"/>
<path d="M242.5,602.2 L243.0,602.2 L243.5,602.2 L244.0,602.1 L244.5,602.1 L245.0,602.1 L245.5,602.1 L246.0,602.0 L246.5,602.0 L247.0,602.0 L247.5,601.9 L248.0,601.9 L248.5,601.8 L249.0,601.7 L249.5,601.6 L250.0,601.6 L250.5,601.5 L251.0,601.3 L251.5,601.2 L252.0,601.1 L252.5,600.9 L253.0,600.7 L253.5,600.6 L254.0,600.3 L254.5,600.1 L255.0,599.9 L255.5,599.6 L256.0,599.3 L256.5,598.9 L257.0,598.6 L257.5,598.2 L258.0,597.8 L258.5,597.3 L259.0,596.9 L259.5,596.4 L260.0,595.8 L260.5,595.3 L261.0,594.7 L261.5,594.1 L262.0,593.4 L262.5,592.7 L263.0,592.1 L263.5,591.4 L264.0,590.6 L264.5,589.9 L265.0,589.1 L265.5,588.4 L266.0,587.6 L266.5,586.9 L267.0,586.1 L267.5,585.4 L268.0,584.7 L268.5,584.0 L269.0,583.3 L269.5,582.7 L270.0,582.1 L270.5,581.5 L271.0,581.0 L271.5,580.6 L272.0,580.2 L272.5,579.8 L273.0,579.5 L273.5,579.3 L274.0,579.1 L274.5,579.0 L275.0,579.0 L275.5,579.0 L276.0,579.1 L276.5,579.3 L277.0,579.6 L277.5,579.9 L278.0,580.3 L278.5,580.8 L279.0,581.3 L279.5,581.9 L280.0,582.5 L280.5,583.2 L281.0,583.9 L281.5,584.6 L282.0,585.4 L282.5,586.2 L283.0,587.0 L283.5,587.8 L284.0,588.6 L284.5,589.4 L285.0,590.2 L285.5,591.0 L286.0,591.7 L286.5,592.5 L287.0,593.2 L287.5,593.9 L288.0,594.5 L288.5,595.1 L289.0,595.7 L289.5,596.3 L290.0,596.8 L290.5,597.3 L291.0,597.8 L291.5,598.2 L292.0,598.6 L292.5,598.9 L293.0,599.2 L293.5,599.5 L294.0,599.8 L294.5,600.0 L295.0,600.3 L295.5,600.4 L296.0,600.6 L296.5,600.8 L297.0,600.9 L297.5,601.0 L298.0,601.1 L298.5,601.2 L299.0,601.3 L299.5,601.4 L300.0,601.4 L300.5,601.5 L301.0,601.5 L301.5,601.5 L302.0,601.6 L302.5,601.6 L303.0,601.6 L303.5,601.6 L304.0,601.6 L304.5,601.6 L305.0,601.7 L305.0,601.7 L304.5,601.7 L304.0,601.7 L303.5,601.7 L303.0,601.7 L302.5,601.7 L302.0,601.7 L301.5,601.7 L301.0,601.7 L300.5,601.7 L300.0,601.8 L299.5,601.8 L299.0,601.8 L298.5,601.8 L298.0,601.8 L297.5,601.8 L297.0,601.8 L296.5,601.8 L296.0,601.8 L295.5,601.8 L295.0,601.8 L294.5,601.8 L294.0,601.8 L293.5,601.8 L293.0,601.8 L292.5,601.8 L292.0,601.8 L291.5,601.8 L291.0,601.8 L290.5,601.8 L290.0,601.8 L289.5,601.8 L289.0,601.8 L288.5,601.8 L288.0,601.9 L287.5,601.9 L287.0,601.9 L286.5,601.9 L286.0,601.9 L285.5,601.9 L285.0,601.9 L284.5,601.9 L284.0,601.9 L283.5,601.9 L283.0,601.9 L282.5,601.9 L282.0,601.9 L281.5,601.9 L281.0,601.9 L280.5,601.9 L280.0,601.9 L279.5,601.9 L279.0,601.9 L278.5,601.9 L278.0,601.9 L277.5,601.9 L277.0,601.9 L276.5,601.9 L276.0,602.0 L275.5,602.0 L275.0,602.0 L274.5,602.0 L274.0,602.0 L273.5,602.0 L273.0,602.0 L272.5,602.0 L272.0,602.0 L271.5,602.0 L271.0,602.0 L270.5,602.0 L270.0,602.0 L269.5,602.0 L269.0,602.0 L268.5,602.0 L268.0,602.0 L267.5,602.0 L267.0,602.0 L266.5,602.0 L266.0,602.0 L265.5,602.0 L265.0,602.0 L264.5,602.1 L264.0,602.1 L263.5,602.1 L263.0,602.1 L262.5,602.1 L262.0,602.1 L261.5,602.1 L261.0,602.1 L260.5,602.1 L260.0,602.1 L259.5,602.1 L259.0,602.1 L258.5,602.1 L258.0,602.1 L257.5,602.1 L257.0,602.1 L256.5,602.1 L256.0,602.1 L255.5,602.1 L255.0,602.1 L254.5,602.1 L254.0,602.1 L253.5,602.1 L253.0,602.1 L252.5,602.2 L252.0,602.2 L251.5,602.2 L251.0,602.2 L250.5,602.2 L250.0,602.2 L249.5,602.2 L249.0,602.2 L248.5,602.2 L248.0,602.2 L247.5,602.2 L247.0,602.2 L246.5,602.2 L246.0,602.2 L245.5,602.2 L245.0,602.2 L244.5,602.2 L244.0,602.2 L243.5,602.2 L243.0,602.2 L242.5,602.2 Z" fill="#00f85a"/>
<path d="M242.5,602.2 L243.0,602.2 L243.5,602.2 L244.0,602.1 L244.5,602.1 L245.0,602.1 L245.5,602.1 L246.0,602.0 L246.5,602.0 L247.0,602.0 L247.5,601.9 L248.0,601.9 L248.5,601.8 L249.0,601.7 L249.5,601.6 L250.0,601.6 L250.5,601.5 L251.0,601.3 L251.5,601.2 L252.0,601.1 L252.5,600.9 L253.0,600.7 L253.5,600.6 L254.0,600.3 L254.5,600.1 L255.0,599.9 L255.5,599.6 L256.0,599.3 L256.5,598.9 L257.0,598.6 L257.5,598.2 L258.0,597.8 L258.5,597.3 L259.0,596.9 L259.5,596.4 L260.0,595.8 L260.5,595.3 L261.0,594.7 L261.5,594.1 L262.0,593.4 L262.5,592.7 L263.0,592.1 L263.5,591.4 L264.0,590.6 L264.5,589.9 L265.0,589.1 L265.5,588.4 L266.0,587.6 L266.5,586.9 L267.0,586.1 L267.5,585.4 L268.0,584.7 L268.5,584.0 L269.0,583.3 L269.5,582.7 L270.0,582.1 L270.5,581.5 L271.0,581.0 L271.5,580.6 L272.0,580.2 L272.5,579.8 L273.0,579.5 L273.5,579.3 L274.0,579.1 L274.5,579.0 L275.0,579.0 L275.5,579.0 L276.0,579.1 L276.5,579.3 L277.0,579.6 L277.5,579.9 L278.0,580.3 L278.5,580.8 L279.0,581.3 L279.5,581.9 L280.0,582.5 L280.5,583.2 L281.0,583.9 L281.5,584.6 L282.0,585.4 L282.5,586.2 L283.0,587.0 L283.5,587.8 L284.0,588.6 L284.5,589.4 L285.0,590.2 L285.5,591.0 L286.0,591.7 L286.5,592.5 L287.0,593.2 L287.5,593.9 L288.0,594.5 L288.5,595.1 L289.0,595.7 L289.5,596.3 L290.0,596.8 L290.5,597.3 L291.0,597.8 L291.5,598.2 L292.0,598.6 L292.5,598.9 L293.0,599.2 L293.5,599.5 L294.0,599.8 L294.5,600.0 L295.0,600.3 L295.5,600.4 L296.0,600.6 L296.5,600.8 L297.0,600.9 L297.5,601.0 L298.0,601.1 L298.5,601.2 L299.0,601.3 L299.5,601.4 L300.0,601.4 L300.5,601.5 L301.0,601.5 L301.5,601.5 L302.0,601.6 L302.5,601.6 L303.0,601.6 L303.5,601.6 L304.0,601.6 L304.5,601.6 L305.0,601.7 L305.0,601.7 L304.5,601.7 L304.0,601.7 L303.5,601.7 L303.0,601.7 L302.5,601.7 L302.0,601.7 L301.5,601.7 L301.0,601.7 L300.5,601.7 L300.0,601.8 L299.5,601.8 L299.0,601.8 L298.5,601.8 L298.0,601.8 L297.5,601.8 L297.0,601.8 L296.5,601.8 L296.0,601.8 L295.5,601.8 L295.0,601.8 L294.5,601.8 L294.0,601.8 L293.5,601.8 L293.0,601.8 L292.5,601.8 L292.0,601.8 L291.5,601.8 L291.0,601.8 L290.5,601.8 L290.0,601.8 L289.5,601.8 L289.0,601.8 L288.5,601.8 L288.0,601.9 L287.5,601.9 L287.0,601.9 L286.5,601.9 L286.0,601.9 L285.5,601.9 L285.0,601.9 L284.5,601.9 L284.0,601.9 L283.5,601.9 L283.0,601.9 L282.5,601.9 L282.0,601.9 L281.5,601.9 L281.0,601.9 L280.5,601.9 L280.0,601.9 L279.5,601.9 L279.0,601.9 L278.5,601.9 L278.0,601.9 L277.5,601.9 L277.0,601.9 L276.5,601.9 L276.0,602.0 L275.5,602.0 L275.0,602.0 L274.5,602.0 L274.0,602.0 L273.5,602.0 L273.0,602.0 L272.5,602.0 L272.0,602.0 L271.5,602.0 L271.0,602.0 L270.5,602.0 L270.0,602.0 L269.5,602.0 L269.0,602.0 L268.5,602.0 L268.0,602.0 L267.5,602.0 L267.0,602.0 L266.5,602.0 L266.0,602.0 L265.5,602.0 L265.0,602.0 L264.5,602.1 L264.0,602.1 L263.5,602.1 L263.0,602.1 L262.5,602.1 L262.0,602.1 L261.5,602.1 L261.0,602.1 L260.5,602.1 L260.0,602.1 L259.5,602.1 L259.0,602.1 L258.5,602.1 L258.0,602.1 L257.5,602.1 L257.0,602.1 L256.5,602.1 L256.0,602.1 L255.5,602.1 L255.0,602.1 L254.5,602.1 L254.0,602.1 L253.5,602.1 L253.0,602.1 L252.5,602.2 L252.0,602.2 L251.5,602.2 L251.0,602.2 L250.5,602.2 L250.0,602.2 L249.5,602.2 L249.0,602.2 L248.5,602.2 L248.0,602.2 L247.5,602.2 L247.0,602.2 L246.5,602.2 L246.0,602.2 L245.5,602.2 L245.0,602.2 L244.5,602.2 L244.0,602.2 L243.5,602.2 L243.0,602.2 L242.5,602.2 Z" fill="#10e060" clip-path="url(#ce_p)"/>
<path d="M255.0,602.1 L255.5,602.1 L256.0,602.1 L256.5,602.0 L257.0,602.0 L257.5,602.0 L258.0,602.0 L258.5,602.0 L259.0,601.9 L259.5,601.9 L260.0,601.9 L260.5,601.8 L261.0,601.8 L261.5,601.8 L262.0,601.7 L262.5,601.7 L263.0,601.6 L263.5,601.6 L264.0,601.5 L264.5,601.4 L265.0,601.3 L265.5,601.2 L266.0,601.1 L266.5,601.0 L267.0,600.9 L267.5,600.8 L268.0,600.7 L268.5,600.5 L269.0,600.4 L269.5,600.2 L270.0,600.0 L270.5,599.8 L271.0,599.6 L271.5,599.4 L272.0,599.1 L272.5,598.9 L273.0,598.6 L273.5,598.3 L274.0,598.0 L274.5,597.7 L275.0,597.4 L275.5,597.0 L276.0,596.7 L276.5,596.3 L277.0,595.9 L277.5,595.5 L278.0,595.0 L278.5,594.6 L279.0,594.1 L279.5,593.7 L280.0,593.2 L280.5,592.7 L281.0,592.2 L281.5,591.7 L282.0,591.2 L282.5,590.7 L283.0,590.2 L283.5,589.7 L284.0,589.2 L284.5,588.7 L285.0,588.2 L285.5,587.7 L286.0,587.2 L286.5,586.7 L287.0,586.3 L287.5,585.8 L288.0,585.4 L288.5,585.0 L289.0,584.6 L289.5,584.3 L290.0,584.0 L290.5,583.7 L291.0,583.4 L291.5,583.2 L292.0,583.0 L292.5,582.8 L293.0,582.7 L293.5,582.6 L294.0,582.5 L294.5,582.5 L295.0,582.5 L295.5,582.5 L296.0,582.6 L296.5,582.7 L297.0,582.7 L297.5,582.9 L298.0,583.0 L298.5,583.1 L299.0,583.3 L299.5,583.5 L300.0,583.7 L300.5,583.9 L301.0,584.2 L301.5,584.4 L302.0,584.7 L302.5,585.0 L303.0,585.3 L303.5,585.6 L304.0,585.9 L304.5,586.3 L305.0,586.6 L305.5,587.0 L306.0,587.3 L306.5,587.7 L307.0,588.1 L307.5,588.4 L308.0,588.8 L308.5,589.2 L309.0,589.6 L309.5,590.0 L310.0,590.3 L310.5,590.7 L311.0,591.1 L311.5,591.5 L312.0,591.9 L312.5,592.2 L313.0,592.6 L313.5,593.0 L314.0,593.3 L314.5,593.7 L315.0,594.0 L315.5,594.4 L316.0,594.7 L316.5,595.0 L317.0,595.3 L317.5,595.6 L318.0,595.9 L318.5,596.2 L319.0,596.5 L319.5,596.8 L320.0,597.0 L320.5,597.3 L321.0,597.5 L321.5,597.7 L322.0,598.0 L322.5,598.2 L323.0,598.4 L323.5,598.6 L324.0,598.8 L324.5,598.9 L325.0,599.1 L325.5,599.3 L326.0,599.4 L326.5,599.5 L327.0,599.7 L327.5,599.8 L328.0,599.9 L328.5,600.0 L329.0,600.1 L329.5,600.2 L330.0,600.3 L330.5,600.4 L331.0,600.5 L331.5,600.6 L332.0,600.6 L332.5,600.7 L333.0,600.8 L333.5,600.8 L334.0,600.9 L334.5,600.9 L335.0,600.9 L335.5,601.0 L336.0,601.0 L336.5,601.1 L337.0,601.1 L337.5,601.1 L338.0,601.1 L338.5,601.2 L339.0,601.2 L339.5,601.2 L340.0,601.2 L340.5,601.2 L341.0,601.2 L341.5,601.3 L342.0,601.3 L342.5,601.3 L343.0,601.3 L343.5,601.3 L344.0,601.3 L344.5,601.3 L345.0,601.3 L345.5,601.3 L346.0,601.3 L346.0,601.4 L345.5,601.4 L345.0,601.4 L344.5,601.4 L344.0,601.4 L343.5,601.4 L343.0,601.4 L342.5,601.4 L342.0,601.4 L341.5,601.4 L341.0,601.4 L340.5,601.4 L340.0,601.4 L339.5,601.4 L339.0,601.4 L338.5,601.4 L338.0,601.4 L337.5,601.4 L337.0,601.4 L336.5,601.4 L336.0,601.4 L335.5,601.4 L335.0,601.5 L334.5,601.5 L334.0,601.5 L333.5,601.5 L333.0,601.5 L332.5,601.5 L332.0,601.5 L331.5,601.5 L331.0,601.5 L330.5,601.5 L330.0,601.5 L329.5,601.5 L329.0,601.5 L328.5,601.5 L328.0,601.5 L327.5,601.5 L327.0,601.5 L326.5,601.5 L326.0,601.5 L325.5,601.5 L325.0,601.5 L324.5,601.5 L324.0,601.5 L323.5,601.6 L323.0,601.6 L322.5,601.6 L322.0,601.6 L321.5,601.6 L321.0,601.6 L320.5,601.6 L320.0,601.6 L319.5,601.6 L319.0,601.6 L318.5,601.6 L318.0,601.6 L317.5,601.6 L317.0,601.6 L316.5,601.6 L316.0,601.6 L315.5,601.6 L315.0,601.6 L314.5,601.6 L314.0,601.6 L313.5,601.6 L313.0,601.6 L312.5,601.6 L312.0,601.6 L311.5,601.7 L311.0,601.7 L310.5,601.7 L310.0,601.7 L309.5,601.7 L309.0,601.7 L308.5,601.7 L308.0,601.7 L307.5,601.7 L307.0,601.7 L306.5,601.7 L306.0,601.7 L305.5,601.7 L305.0,601.7 L304.5,601.7 L304.0,601.7 L303.5,601.7 L303.0,601.7 L302.5,601.7 L302.0,601.7 L301.5,601.7 L301.0,601.7 L300.5,601.7 L300.0,601.8 L299.5,601.8 L299.0,601.8 L298.5,601.8 L298.0,601.8 L297.5,601.8 L297.0,601.8 L296.5,601.8 L296.0,601.8 L295.5,601.8 L295.0,601.8 L294.5,601.8 L294.0,601.8 L293.5,601.8 L293.0,601.8 L292.5,601.8 L292.0,601.8 L291.5,601.8 L291.0,601.8 L290.5,601.8 L290.0,601.8 L289.5,601.8 L289.0,601.8 L288.5,601.8 L288.0,601.9 L287.5,601.9 L287.0,601.9 L286.5,601.9 L286.0,601.9 L285.5,601.9 L285.0,601.9 L284.5,601.9 L284.0,601.9 L283.5,601.9 L283.0,601.9 L282.5,601.9 L282.0,601.9 L281.5,601.9 L281.0,601.9 L280.5,601.9 L280.0,601.9 L279.5,601.9 L279.0,601.9 L278.5,601.9 L278.0,601.9 L277.5,601.9 L277.0,601.9 L276.5,601.9 L276.0,602.0 L275.5,602.0 L275.0,602.0 L274.5,602.0 L274.0,602.0 L273.5,602.0 L273.0,602.0 L272.5,602.0 L272.0,602.0 L271.5,602.0 L271.0,602.0 L270.5,602.0 L270.0,602.0 L269.5,602.0 L269.0,602.0 L268.5,602.0 L268.0,602.0 L267.5,602.0 L267.0,602.0 L266.5,602.0 L266.0,602.0 L265.5,602.0 L265.0,602.0 L264.5,602.1 L264.0,602.1 L263.5,602.1 L263.0,602.1 L262.5,602.1 L262.0,602.1 L261.5,602.1 L261.0,602.1 L260.5,602.1 L260.0,602.1 L259.5,602.1 L259.0,602.1 L258.5,602.1 L258.0,602.1 L257.5,602.1 L257.0,602.1 L256.5,602.1 L256.0,602.1 L255.5,602.1 L255.0,602.1 Z" fill="#829628" clip-path="url(#ce_g)"/>
<path d="M211.0,602.2 L211.5,602.1 L212.0,602.0 L212.5,602.0 L213.0,601.8 L213.5,601.7 L214.0,601.6 L214.5,601.4 L215.0,601.2 L215.5,601.0 L216.0,600.7 L216.5,600.4 L217.0,600.0 L217.5,599.6 L218.0,599.2 L218.5,598.7 L219.0,598.1 L219.5,597.5 L220.0,596.7 L220.5,595.9 L221.0,595.0 L221.5,594.0 L222.0,592.9 L222.5,591.7 L223.0,590.3 L223.5,588.8 L224.0,587.2 L224.5,585.5 L225.0,583.6 L225.5,581.5 L226.0,579.3 L226.5,577.0 L227.0,574.5 L227.5,571.8 L228.0,569.0 L228.5,566.0 L229.0,562.9 L229.5,559.6 L230.0,556.2 L230.5,552.7 L231.0,549.1 L231.5,545.4 L232.0,541.7 L232.5,537.8 L233.0,534.0 L233.5,530.1 L234.0,526.2 L234.5,522.3 L235.0,518.5 L235.5,514.8 L236.0,511.2 L236.5,507.8 L237.0,504.5 L237.5,501.3 L238.0,498.4 L238.5,495.8 L239.0,493.3 L239.5,491.2 L240.0,489.4 L240.5,487.8 L241.0,486.6 L241.5,485.7 L242.0,485.2 L242.5,485.0 L243.0,485.2 L243.5,485.7 L244.0,486.5 L244.5,487.7 L245.0,489.2 L245.5,491.0 L246.0,493.0 L246.5,495.4 L247.0,497.9 L247.5,500.8 L248.0,503.8 L248.5,507.0 L249.0,510.4 L249.5,513.9 L250.0,517.5 L250.5,521.2 L251.0,525.0 L251.5,528.8 L252.0,532.6 L252.5,536.4 L253.0,540.2 L253.5,543.9 L254.0,547.6 L254.5,551.2 L255.0,554.6 L255.5,558.0 L256.0,561.3 L256.5,564.4 L257.0,567.4 L257.5,570.2 L258.0,572.9 L258.5,575.4 L259.0,577.8 L259.5,580.0 L260.0,582.1 L260.5,584.1 L261.0,585.9 L261.5,587.5 L262.0,589.1 L262.5,590.5 L263.0,591.7 L263.5,592.9 L264.0,594.0 L264.5,594.9 L265.0,595.8 L265.5,596.5 L266.0,597.2 L266.5,597.8 L267.0,598.4 L267.5,598.9 L268.0,599.3 L268.5,599.7 L269.0,600.0 L269.5,600.3 L270.0,600.5 L270.5,600.7 L271.0,600.9 L271.5,601.1 L272.0,601.2 L272.5,601.3 L273.0,601.4 L273.5,601.5 L274.0,601.6 L274.5,601.7" fill="none" stroke="#30a070" stroke-width="1.0"/>
<path d="M248.0,601.9 L248.5,601.8 L249.0,601.7 L249.5,601.6 L250.0,601.6 L250.5,601.5 L251.0,601.3 L251.5,601.2 L252.0,601.1 L252.5,600.9 L253.0,600.7 L253.5,600.6 L254.0,600.3 L254.5,600.1 L255.0,599.9 L255.5,599.6 L256.0,599.3 L256.5,598.9 L257.0,598.6 L257.5,598.2 L258.0,597.8 L258.5,597.3 L259.0,596.9 L259.5,596.4 L260.0,595.8 L260.5,595.3 L261.0,594.7 L261.5,594.1 L262.0,593.4 L262.5,592.7 L263.0,592.1 L263.5,591.4 L264.0,590.6 L264.5,589.9 L265.0,589.1 L265.5,588.4 L266.0,587.6 L266.5,586.9 L267.0,586.1 L267.5,585.4 L268.0,584.7 L268.5,584.0 L269.0,583.3 L269.5,582.7 L270.0,582.1 L270.5,581.5 L271.0,581.0 L271.5,580.6 L272.0,580.2 L272.5,579.8 L273.0,579.5 L273.5,579.3 L274.0,579.1 L274.5,579.0 L275.0,579.0 L275.5,579.0 L276.0,579.1 L276.5,579.3 L277.0,579.6 L277.5,579.9 L278.0,580.3 L278.5,580.8 L279.0,581.3 L279.5,581.9 L280.0,582.5 L280.5,583.2 L281.0,583.9 L281.5,584.6 L282.0,585.4 L282.5,586.2 L283.0,587.0 L283.5,587.8 L284.0,588.6 L284.5,589.4 L285.0,590.2 L285.5,591.0 L286.0,591.7 L286.5,592.5 L287.0,593.2 L287.5,593.9 L288.0,594.5 L288.5,595.1 L289.0,595.7 L289.5,596.3 L290.0,596.8 L290.5,597.3 L291.0,597.8 L291.5,598.2 L292.0,598.6 L292.5,598.9 L293.0,599.2 L293.5,599.5 L294.0,599.8 L294.5,600.0 L295.0,600.3 L295.5,600.4 L296.0,600.6 L296.5,600.8 L297.0,600.9 L297.5,601.0 L298.0,601.1 L298.5,601.2 L299.0,601.3 L299.5,601.4 L300.0,601.4" fill="none" stroke="#c070d0" stroke-width="0.9"/>
<path d="M261.5,601.8 L262.0,601.7 L262.5,601.7 L263.0,601.6 L263.5,601.6 L264.0,601.5 L264.5,601.4 L265.0,601.3 L265.5,601.2 L266.0,601.1 L266.5,601.0 L267.0,600.9 L267.5,600.8 L268.0,600.7 L268.5,600.5 L269.0,600.4 L269.5,600.2 L270.0,600.0 L270.5,599.8 L271.0,599.6 L271.5,599.4 L272.0,599.1 L272.5,598.9 L273.0,598.6 L273.5,598.3 L274.0,598.0 L274.5,597.7 L275.0,597.4 L275.5,597.0 L276.0,596.7 L276.5,596.3 L277.0,595.9 L277.5,595.5 L278.0,595.0 L278.5,594.6 L279.0,594.1 L279.5,593.7 L280.0,593.2 L280.5,592.7 L281.0,592.2 L281.5,591.7 L282.0,591.2 L282.5,590.7 L283.0,590.2 L283.5,589.7 L284.0,589.2 L284.5,588.7 L285.0,588.2 L285.5,587.7 L286.0,587.2 L286.5,586.7 L287.0,586.3 L287.5,585.8 L288.0,585.4 L288.5,585.0 L289.0,584.6 L289.5,584.3 L290.0,584.0 L290.5,583.7 L291.0,583.4 L291.5,583.2 L292.0,583.0 L292.5,582.8 L293.0,582.7 L293.5,582.6 L294.0,582.5 L294.5,582.5 L295.0,582.5 L295.5,582.5 L296.0,582.6 L296.5,582.7 L297.0,582.7 L297.5,582.9 L298.0,583.0 L298.5,583.1 L299.0,583.3 L299.5,583.5 L300.0,583.7 L300.5,583.9 L301.0,584.2 L301.5,584.4 L302.0,584.7 L302.5,585.0 L303.0,585.3 L303.5,585.6 L304.0,585.9 L304.5,586.3 L305.0,586.6 L305.5,587.0 L306.0,587.3 L306.5,587.7 L307.0,588.1 L307.5,588.4 L308.0,588.8 L308.5,589.2 L309.0,589.6 L309.5,590.0 L310.0,590.3 L310.5,590.7 L311.0,591.1 L311.5,591.5 L312.0,591.9 L312.5,592.2 L313.0,592.6 L313.5,593.0 L314.0,593.3 L314.5,593.7 L315.0,594.0 L315.5,594.4 L316.0,594.7 L316.5,595.0 L317.0,595.3 L317.5,595.6 L318.0,595.9 L318.5,596.2 L319.0,596.5 L319.5,596.8 L320.0,597.0 L320.5,597.3 L321.0,597.5 L321.5,597.7 L322.0,598.0 L322.5,598.2 L323.0,598.4 L323.5,598.6 L324.0,598.8 L324.5,598.9 L325.0,599.1 L325.5,599.3 L326.0,599.4 L326.5,599.5 L327.0,599.7 L327.5,599.8 L328.0,599.9 L328.5,600.0 L329.0,600.1 L329.5,600.2 L330.0,600.3 L330.5,600.4 L331.0,600.5 L331.5,600.6 L332.0,600.6 L332.5,600.7 L333.0,600.8 L333.5,600.8 L334.0,600.9 L334.5,600.9 L335.0,600.9 L335.5,601.0 L336.0,601.0 L336.5,601.1 L337.0,601.1 L337.5,601.1" fill="none" stroke="#e09000" stroke-width="0.9"/>
<path d="M177,604.10 L385,602.33" stroke="#2a7ee0" stroke-width="1.0"/>
<path d="M177,602.90 L385,601.13" stroke="#e89010" stroke-width="1.4"/>
<path d="M177.0,601.7 L177.6,601.9 L178.2,602.0 L178.8,602.1 L179.4,602.2 L180.0,602.2 L180.6,602.0 L181.2,601.9 L181.8,601.8 L182.4,601.8 L183.0,601.9 L183.6,602.0 L184.2,602.0 L184.8,602.1 L185.4,602.1 L186.0,602.1 L186.6,601.9 L187.2,601.7 L187.8,601.7 L188.4,601.8 L189.0,601.9 L189.6,602.1 L190.2,602.3 L190.8,602.3 L191.4,602.1 L192.0,601.8 L192.6,602.0 L193.2,602.1 L193.8,602.1 L194.4,601.9 L195.0,601.6 L195.6,601.7 L196.2,601.8 L196.8,601.9 L197.4,601.9 L198.0,601.9 L198.6,601.9 L199.2,602.0 L199.8,602.0 L200.4,602.0 L201.0,602.1 L201.6,602.1 L202.2,602.1 L202.8,602.1 L203.4,602.1 L204.0,602.0 L204.6,602.0 L205.2,602.1 L205.8,602.1 L206.4,602.1 L207.0,602.1 L207.6,601.9 L208.2,601.6 L208.8,601.6 L209.4,601.7 L210.0,601.8 L210.6,601.7 L211.2,601.5 L211.8,601.3 L212.4,601.1 L213.0,600.9 L213.6,600.8 L214.2,600.6 L214.8,600.4 L215.4,600.3 L216.0,600.1 L216.6,599.7 L217.2,599.2 L217.8,598.6 L218.4,598.0 L219.0,597.3 L219.6,596.5 L220.2,595.7 L220.8,594.6 L221.4,593.4 L222.0,592.1 L222.6,590.6 L223.2,589.0 L223.8,587.1 L224.4,585.1 L225.0,582.9 L225.6,580.4 L226.2,577.7 L226.8,574.7 L227.4,571.6 L228.0,568.2 L228.6,564.6 L229.2,560.8 L229.8,556.9 L230.4,552.7 L231.0,548.4 L231.6,544.0 L232.2,539.4 L232.8,534.8 L233.4,530.1 L234.0,525.5 L234.6,520.9 L235.2,516.3 L235.8,512.0 L236.4,507.7 L237.0,503.8 L237.6,500.1 L238.2,496.7 L238.8,493.6 L239.4,490.9 L240.0,488.7 L240.6,486.7 L241.2,485.2 L241.8,484.3 L242.4,483.8 L243.0,483.9 L243.6,484.2 L244.2,485.1 L244.8,486.5 L245.4,488.4 L246.0,490.6 L246.6,492.5 L247.2,494.8 L247.8,497.3 L248.4,500.2 L249.0,503.2 L249.6,506.4 L250.2,509.8 L250.8,513.3 L251.4,516.7 L252.0,520.2 L252.6,523.7 L253.2,527.1 L253.8,530.6 L254.4,534.3 L255.0,537.9 L255.6,541.3 L256.2,544.6 L256.8,548.0 L257.4,551.1 L258.0,553.9 L258.6,556.5 L259.2,558.8 L259.8,560.8 L260.4,562.6 L261.0,564.2 L261.6,565.6 L262.2,566.7 L262.8,567.6 L263.4,568.3 L264.0,568.8 L264.6,569.2 L265.2,569.4 L265.8,569.4 L266.4,569.4 L267.0,569.6 L267.6,569.6 L268.2,569.6 L268.8,569.7 L269.4,569.8 L270.0,569.9 L270.6,569.6 L271.2,569.3 L271.8,569.1 L272.4,569.0 L273.0,568.9 L273.6,568.7 L274.2,568.5 L274.8,568.4 L275.4,568.3 L276.0,568.4 L276.6,568.3 L277.2,568.3 L277.8,568.4 L278.4,568.6 L279.0,568.7 L279.6,569.1 L280.2,569.6 L280.8,569.8 L281.4,570.0 L282.0,570.2 L282.6,570.5 L283.2,570.8 L283.8,571.1 L284.4,571.6 L285.0,572.1 L285.6,572.5 L286.2,572.9 L286.8,573.2 L287.4,573.5 L288.0,573.8 L288.6,574.2 L289.2,574.5 L289.8,574.9 L290.4,575.2 L291.0,575.4 L291.6,575.8 L292.2,576.1 L292.8,576.5 L293.4,576.9 L294.0,577.3 L294.6,577.8 L295.2,578.2 L295.8,578.7 L296.4,579.2 L297.0,579.7 L297.6,580.3 L298.2,580.8 L298.8,581.3 L299.4,581.8 L300.0,582.3 L300.6,582.7 L301.2,583.1 L301.8,583.6 L302.4,584.3 L303.0,585.0 L303.6,585.5 L304.2,586.0 L304.8,586.5 L305.4,587.1 L306.0,587.6 L306.6,588.0 L307.2,588.4 L307.8,588.9 L308.4,589.5 L309.0,590.0 L309.6,590.6 L310.2,591.3 L310.8,591.9 L311.4,592.4 L312.0,592.9 L312.6,593.2 L313.2,593.6 L313.8,593.9 L314.4,594.3 L315.0,594.6 L315.6,594.9 L316.2,595.2 L316.8,595.5 L317.4,596.0 L318.0,596.4 L318.6,596.6 L319.2,596.8 L319.8,597.0 L320.4,597.2 L321.0,597.3 L321.6,597.4 L322.2,597.5 L322.8,597.5 L323.4,597.5 L324.0,597.5 L324.6,597.7 L325.2,597.9 L325.8,598.0 L326.4,597.9 L327.0,597.8 L327.6,598.0 L328.2,598.2 L328.8,598.3 L329.4,598.2 L330.0,598.1 L330.6,598.1 L331.2,598.2 L331.8,598.3 L332.4,598.5 L333.0,598.7 L333.6,598.6 L334.2,598.4 L334.8,598.4 L335.4,598.5 L336.0,598.7 L336.6,598.7 L337.2,598.6 L337.8,598.5 L338.4,598.5 L339.0,598.4 L339.6,598.4 L340.2,598.4 L340.8,598.4 L341.4,598.3 L342.0,598.2 L342.6,598.4 L343.2,598.6 L343.8,598.8 L344.4,598.9 L345.0,599.0 L345.6,598.8 L346.2,598.6 L346.8,598.6 L347.4,598.7 L348.0,598.8 L348.6,599.1 L349.2,599.3 L349.8,599.3 L350.4,599.1 L351.0,598.9 L351.6,599.2 L352.2,599.4 L352.8,599.5 L353.4,599.5 L354.0,599.5 L354.6,599.4 L355.2,599.3 L355.8,599.3 L356.4,599.4 L357.0,599.4 L357.6,599.2 L358.2,599.1 L358.8,599.1 L359.4,599.3 L360.0,599.5 L360.6,599.6 L361.2,599.7 L361.8,599.7 L362.4,599.5 L363.0,599.3 L363.6,599.3 L364.2,599.2 L364.8,599.2 L365.4,599.3 L366.0,599.3 L366.6,599.4 L367.2,599.4 L367.8,599.5 L368.4,599.6 L369.0,599.6 L369.6,599.9 L370.2,600.1 L370.8,600.2 L371.4,600.1 L372.0,600.0 L372.6,600.0 L373.2,600.1 L373.8,600.1 L374.4,600.0 L375.0,600.0 L375.6,600.0 L376.2,600.0 L376.8,600.1 L377.4,600.2 L378.0,600.3 L378.6,600.4 L379.2,600.5 L379.8,600.5 L380.4,600.3 L381.0,600.1 L381.6,600.2 L382.2,600.4 L382.8,600.5 L383.4,600.6 L384.0,600.7 L384.6,600.8" fill="none" stroke="#444" stroke-width="0.7"/>
<path d="M177.0,602.8 L177.5,602.8 L178.0,602.8 L178.5,602.8 L179.0,602.8 L179.5,602.8 L180.0,602.8 L180.5,602.8 L181.0,602.8 L181.5,602.8 L182.0,602.8 L182.5,602.7 L183.0,602.7 L183.5,602.7 L184.0,602.7 L184.5,602.7 L185.0,602.7 L185.5,602.7 L186.0,602.7 L186.5,602.7 L187.0,602.7 L187.5,602.7 L188.0,602.7 L188.5,602.7 L189.0,602.7 L189.5,602.7 L190.0,602.7 L190.5,602.7 L191.0,602.7 L191.5,602.7 L192.0,602.7 L192.5,602.7 L193.0,602.6 L193.5,602.6 L194.0,602.6 L194.5,602.6 L195.0,602.6 L195.5,602.6 L196.0,602.6 L196.5,602.6 L197.0,602.6 L197.5,602.6 L198.0,602.6 L198.5,602.6 L199.0,602.6 L199.5,602.6 L200.0,602.6 L200.5,602.6 L201.0,602.6 L201.5,602.6 L202.0,602.6 L202.5,602.5 L203.0,602.5 L203.5,602.5 L204.0,602.5 L204.5,602.5 L205.0,602.5 L205.5,602.5 L206.0,602.5 L206.5,602.5 L207.0,602.4 L207.5,602.4 L208.0,602.4 L208.5,602.4 L209.0,602.3 L209.5,602.3 L210.0,602.3 L210.5,602.2 L211.0,602.2 L211.5,602.1 L212.0,602.0 L212.5,601.9 L213.0,601.8 L213.5,601.7 L214.0,601.5 L214.5,601.4 L215.0,601.2 L215.5,600.9 L216.0,600.7 L216.5,600.4 L217.0,600.0 L217.5,599.6 L218.0,599.2 L218.5,598.7 L219.0,598.1 L219.5,597.4 L220.0,596.7 L220.5,595.9 L221.0,595.0 L221.5,594.0 L222.0,592.9 L222.5,591.6 L223.0,590.3 L223.5,588.8 L224.0,587.2 L224.5,585.4 L225.0,583.5 L225.5,581.5 L226.0,579.3 L226.5,576.9 L227.0,574.4 L227.5,571.8 L228.0,569.0 L228.5,566.0 L229.0,562.9 L229.5,559.6 L230.0,556.2 L230.5,552.7 L231.0,549.1 L231.5,545.4 L232.0,541.6 L232.5,537.8 L233.0,533.9 L233.5,530.1 L234.0,526.2 L234.5,522.3 L235.0,518.5 L235.5,514.8 L236.0,511.2 L236.5,507.8 L237.0,504.4 L237.5,501.3 L238.0,498.4 L238.5,495.7 L239.0,493.3 L239.5,491.2 L240.0,489.3 L240.5,487.7 L241.0,486.3 L241.5,485.3 L242.0,484.7 L242.5,484.4 L243.0,484.4 L243.5,484.8 L244.0,485.5 L244.5,486.5 L245.0,487.8 L245.5,489.4 L246.0,491.3 L246.5,492.9 L247.0,494.7 L247.5,496.7 L248.0,498.9 L248.5,501.3 L249.0,503.9 L249.5,506.6 L250.0,509.3 L250.5,512.2 L251.0,515.1 L251.5,518.0 L252.0,520.9 L252.5,523.8 L253.0,526.7 L253.5,529.5 L254.0,532.6 L254.5,535.6 L255.0,538.6 L255.5,541.5 L256.0,544.2 L256.5,547.1 L257.0,549.8 L257.5,552.3 L258.0,554.6 L258.5,556.8 L259.0,558.8 L259.5,560.6 L260.0,562.2 L260.5,563.6 L261.0,564.9 L261.5,566.1 L262.0,567.1 L262.5,567.9 L263.0,568.6 L263.5,569.3 L264.0,569.7 L264.5,570.1 L265.0,570.3 L265.5,570.5 L266.0,570.5 L266.5,570.6 L267.0,570.8 L267.5,570.9 L268.0,571.1 L268.5,571.1 L269.0,571.2 L269.5,571.2 L270.0,571.2 L270.5,571.0 L271.0,570.9 L271.5,570.7 L272.0,570.5 L272.5,570.4 L273.0,570.3 L273.5,570.2 L274.0,570.2 L274.5,570.2 L275.0,570.0 L275.5,569.9 L276.0,569.9 L276.5,569.8 L277.0,569.9 L277.5,570.0 L278.0,570.1 L278.5,570.2 L279.0,570.3 L279.5,570.4 L280.0,570.6 L280.5,570.7 L281.0,570.9 L281.5,571.2 L282.0,571.4 L282.5,571.7 L283.0,572.0 L283.5,572.2 L284.0,572.5 L284.5,572.8 L285.0,573.1 L285.5,573.4 L286.0,573.6 L286.5,573.9 L287.0,574.2 L287.5,574.4 L288.0,574.7 L288.5,575.0 L289.0,575.2 L289.5,575.5 L290.0,575.7 L290.5,576.0 L291.0,576.2 L291.5,576.5 L292.0,576.9 L292.5,577.2 L293.0,577.6 L293.5,578.0 L294.0,578.3 L294.5,578.7 L295.0,579.1 L295.5,579.5 L296.0,579.8 L296.5,580.2 L297.0,580.6 L297.5,581.0 L298.0,581.4 L298.5,581.7 L299.0,582.1 L299.5,582.5 L300.0,582.8 L300.5,583.2 L301.0,583.6 L301.5,584.0 L302.0,584.4 L302.5,584.8 L303.0,585.2 L303.5,585.6 L304.0,586.0 L304.5,586.3 L305.0,586.7 L305.5,587.1 L306.0,587.5 L306.5,587.9 L307.0,588.4 L307.5,588.8 L308.0,589.2 L308.5,589.7 L309.0,590.2 L309.5,590.6 L310.0,591.1 L310.5,591.5 L311.0,592.0 L311.5,592.4 L312.0,592.8 L312.5,593.2 L313.0,593.5 L313.5,593.8 L314.0,594.1 L314.5,594.4 L315.0,594.7 L315.5,595.0 L316.0,595.3 L316.5,595.5 L317.0,595.7 L317.5,595.9 L318.0,596.1 L318.5,596.3 L319.0,596.5 L319.5,596.6 L320.0,596.8 L320.5,596.9 L321.0,597.1 L321.5,597.2 L322.0,597.3 L322.5,597.4 L323.0,597.5 L323.5,597.6 L324.0,597.7 L324.5,597.8 L325.0,598.0 L325.5,598.1 L326.0,598.2 L326.5,598.3 L327.0,598.4 L327.5,598.5 L328.0,598.5 L328.5,598.6 L329.0,598.7 L329.5,598.7 L330.0,598.8 L330.5,598.8 L331.0,598.9 L331.5,598.9 L332.0,598.9 L332.5,599.0 L333.0,599.0 L333.5,599.0 L334.0,599.0 L334.5,599.0 L335.0,599.0 L335.5,599.1 L336.0,599.1 L336.5,599.2 L337.0,599.2 L337.5,599.3 L338.0,599.3 L338.5,599.3 L339.0,599.4 L339.5,599.4 L340.0,599.4 L340.5,599.5 L341.0,599.5 L341.5,599.5 L342.0,599.6 L342.5,599.6 L343.0,599.6 L343.5,599.6 L344.0,599.7 L344.5,599.7 L345.0,599.7 L345.5,599.7 L346.0,599.7 L346.5,599.8 L347.0,599.8 L347.5,599.8 L348.0,599.8 L348.5,599.8 L349.0,599.8 L349.5,599.9 L350.0,599.9 L350.5,599.9 L351.0,599.9 L351.5,599.9 L352.0,599.9 L352.5,599.9 L353.0,600.0 L353.5,600.0 L354.0,600.0 L354.5,600.0 L355.0,600.0 L355.5,600.0 L356.0,600.0 L356.5,600.1 L357.0,600.1 L357.5,600.1 L358.0,600.1 L358.5,600.1 L359.0,600.1 L359.5,600.1 L360.0,600.1 L360.5,600.2 L361.0,600.2 L361.5,600.2 L362.0,600.2 L362.5,600.2 L363.0,600.2 L363.5,600.2 L364.0,600.3 L364.5,600.3 L365.0,600.3 L365.5,600.3 L366.0,600.3 L366.5,600.3 L367.0,600.3 L367.5,600.3 L368.0,600.4 L368.5,600.4 L369.0,600.4 L369.5,600.4 L370.0,600.4 L370.5,600.4 L371.0,600.4 L371.5,600.4 L372.0,600.5 L372.5,600.5 L373.0,600.5 L373.5,600.5 L374.0,600.5 L374.5,600.5 L375.0,600.5 L375.5,600.6 L376.0,600.6 L376.5,600.6 L377.0,600.6 L377.5,600.6 L378.0,600.6 L378.5,600.6 L379.0,600.6 L379.5,600.7 L380.0,600.7 L380.5,600.7 L381.0,600.7 L381.5,600.7 L382.0,600.7 L382.5,600.7 L383.0,600.7 L383.5,600.8 L384.0,600.8 L384.5,600.8" fill="none" stroke="#ee3030" stroke-width="1.0"/>
<rect x="176.5" y="459.2" width="208.9" height="168.3" fill="none" stroke="#333" stroke-width="1.4"/>
<path d="M176.50,627.50 V630.70 M218.28,627.50 V630.70 M260.06,627.50 V630.70 M301.84,627.50 V630.70 M343.62,627.50 V630.70 M385.40,627.50 V630.70 M197.39,627.50 V629.70 M239.17,627.50 V629.70 M280.95,627.50 V629.70 M322.73,627.50 V629.70 M364.51,627.50 V629.70 " stroke="#333" stroke-width="1.2" fill="none"/>
<text x="176.5" y="640.4" font-size="8.5" font-weight="bold" fill="#111" text-anchor="middle">526</text>
<text x="218.28" y="640.4" font-size="8.5" font-weight="bold" fill="#111" text-anchor="middle">528</text>
<text x="260.06" y="640.4" font-size="8.5" font-weight="bold" fill="#111" text-anchor="middle">530</text>
<text x="301.84" y="640.4" font-size="8.5" font-weight="bold" fill="#111" text-anchor="middle">532</text>
<text x="343.62" y="640.4" font-size="8.5" font-weight="bold" fill="#111" text-anchor="middle">534</text>
<text x="385.4" y="640.4" font-size="8.5" font-weight="bold" fill="#111" text-anchor="middle">536</text>
<text x="280.9" y="652.75" font-size="8.76" font-weight="bold" fill="#111" text-anchor="middle">Binding energy (eV)</text>
<text transform="translate(163.8,540.5) rotate(-90)" x="0" y="0" font-size="8.8" font-weight="bold" fill="#111" text-anchor="middle">Intensity (a.u.)</text>
<text x="177.56" y="473.8" font-size="14.9" font-weight="bold" fill="#111" style="stroke-width:0.0px">(e)</text>
<text x="232.06" y="477" font-size="8.6" font-weight="bold" fill="#111">O</text>
<text x="238.82" y="479.3" font-size="5.8" font-weight="bold" fill="#111">L</text>
<text x="263.96" y="562.2" font-size="8.6" font-weight="bold" fill="#111">OVs</text>
<text x="279.72" y="542.1" font-size="8.96" font-weight="bold" fill="#111">14.2%</text>
<text x="303.26" y="581.4" font-size="8.6" font-weight="bold" fill="#111">O</text>
<text x="310.16" y="583.7" font-size="5.8" font-weight="bold" fill="#111">C</text>
<line x1="274.60" y1="578.90" x2="289.79" y2="548.52" stroke="#222" stroke-width="1.0"/>
<path d="M291.80,544.50 L291.58,549.42 L288.00,547.63 Z" fill="#222"/>
</svg>
</body></html>
